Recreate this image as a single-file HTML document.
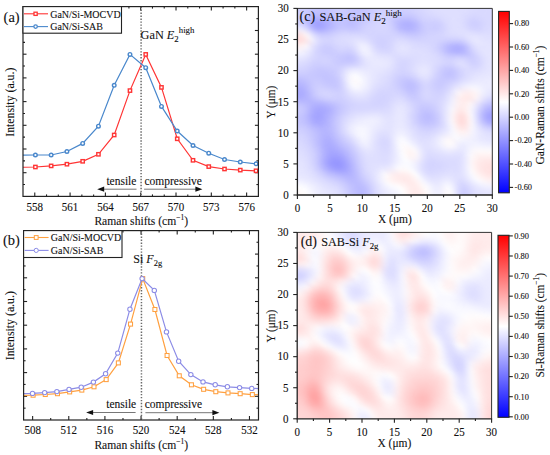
<!DOCTYPE html>
<html><head><meta charset="utf-8"><style>
html,body{margin:0;padding:0;background:#fff;}
svg{display:block;font-family:"Liberation Serif", serif;}
text{fill:#111;stroke:#111;stroke-width:0.1px;}
</style></head><body>
<svg width="550" height="455" viewBox="0 0 550 455">
<defs><clipPath id="ca"><rect x="23" y="6.6" width="235.39999999999998" height="189.8"/></clipPath><clipPath id="cb"><rect x="23.6" y="230.6" width="234.9" height="189.4"/></clipPath></defs>
<line x1="34.77" y1="196.40" x2="34.77" y2="192.40" stroke="#222" stroke-width="1.1" />
<line x1="34.77" y1="6.60" x2="34.77" y2="10.60" stroke="#222" stroke-width="1.1" />
<text transform="translate(34.77 210.70) scale(1 1.09)" font-size="11" text-anchor="middle" >558</text>
<line x1="46.54" y1="196.40" x2="46.54" y2="194.40" stroke="#222" stroke-width="1.1" />
<line x1="46.54" y1="6.60" x2="46.54" y2="8.60" stroke="#222" stroke-width="1.1" />
<line x1="58.31" y1="196.40" x2="58.31" y2="194.40" stroke="#222" stroke-width="1.1" />
<line x1="58.31" y1="6.60" x2="58.31" y2="8.60" stroke="#222" stroke-width="1.1" />
<line x1="70.08" y1="196.40" x2="70.08" y2="192.40" stroke="#222" stroke-width="1.1" />
<line x1="70.08" y1="6.60" x2="70.08" y2="10.60" stroke="#222" stroke-width="1.1" />
<text transform="translate(70.08 210.70) scale(1 1.09)" font-size="11" text-anchor="middle" >561</text>
<line x1="81.85" y1="196.40" x2="81.85" y2="194.40" stroke="#222" stroke-width="1.1" />
<line x1="81.85" y1="6.60" x2="81.85" y2="8.60" stroke="#222" stroke-width="1.1" />
<line x1="93.62" y1="196.40" x2="93.62" y2="194.40" stroke="#222" stroke-width="1.1" />
<line x1="93.62" y1="6.60" x2="93.62" y2="8.60" stroke="#222" stroke-width="1.1" />
<line x1="105.39" y1="196.40" x2="105.39" y2="192.40" stroke="#222" stroke-width="1.1" />
<line x1="105.39" y1="6.60" x2="105.39" y2="10.60" stroke="#222" stroke-width="1.1" />
<text transform="translate(105.39 210.70) scale(1 1.09)" font-size="11" text-anchor="middle" >564</text>
<line x1="117.16" y1="196.40" x2="117.16" y2="194.40" stroke="#222" stroke-width="1.1" />
<line x1="117.16" y1="6.60" x2="117.16" y2="8.60" stroke="#222" stroke-width="1.1" />
<line x1="128.93" y1="196.40" x2="128.93" y2="194.40" stroke="#222" stroke-width="1.1" />
<line x1="128.93" y1="6.60" x2="128.93" y2="8.60" stroke="#222" stroke-width="1.1" />
<line x1="140.70" y1="196.40" x2="140.70" y2="192.40" stroke="#222" stroke-width="1.1" />
<line x1="140.70" y1="6.60" x2="140.70" y2="10.60" stroke="#222" stroke-width="1.1" />
<text transform="translate(140.70 210.70) scale(1 1.09)" font-size="11" text-anchor="middle" >567</text>
<line x1="152.47" y1="196.40" x2="152.47" y2="194.40" stroke="#222" stroke-width="1.1" />
<line x1="152.47" y1="6.60" x2="152.47" y2="8.60" stroke="#222" stroke-width="1.1" />
<line x1="164.24" y1="196.40" x2="164.24" y2="194.40" stroke="#222" stroke-width="1.1" />
<line x1="164.24" y1="6.60" x2="164.24" y2="8.60" stroke="#222" stroke-width="1.1" />
<line x1="176.01" y1="196.40" x2="176.01" y2="192.40" stroke="#222" stroke-width="1.1" />
<line x1="176.01" y1="6.60" x2="176.01" y2="10.60" stroke="#222" stroke-width="1.1" />
<text transform="translate(176.01 210.70) scale(1 1.09)" font-size="11" text-anchor="middle" >570</text>
<line x1="187.78" y1="196.40" x2="187.78" y2="194.40" stroke="#222" stroke-width="1.1" />
<line x1="187.78" y1="6.60" x2="187.78" y2="8.60" stroke="#222" stroke-width="1.1" />
<line x1="199.55" y1="196.40" x2="199.55" y2="194.40" stroke="#222" stroke-width="1.1" />
<line x1="199.55" y1="6.60" x2="199.55" y2="8.60" stroke="#222" stroke-width="1.1" />
<line x1="211.32" y1="196.40" x2="211.32" y2="192.40" stroke="#222" stroke-width="1.1" />
<line x1="211.32" y1="6.60" x2="211.32" y2="10.60" stroke="#222" stroke-width="1.1" />
<text transform="translate(211.32 210.70) scale(1 1.09)" font-size="11" text-anchor="middle" >573</text>
<line x1="223.09" y1="196.40" x2="223.09" y2="194.40" stroke="#222" stroke-width="1.1" />
<line x1="223.09" y1="6.60" x2="223.09" y2="8.60" stroke="#222" stroke-width="1.1" />
<line x1="234.86" y1="196.40" x2="234.86" y2="194.40" stroke="#222" stroke-width="1.1" />
<line x1="234.86" y1="6.60" x2="234.86" y2="8.60" stroke="#222" stroke-width="1.1" />
<line x1="246.63" y1="196.40" x2="246.63" y2="192.40" stroke="#222" stroke-width="1.1" />
<line x1="246.63" y1="6.60" x2="246.63" y2="10.60" stroke="#222" stroke-width="1.1" />
<text transform="translate(246.63 210.70) scale(1 1.09)" font-size="11" text-anchor="middle" >576</text>
<line x1="23.00" y1="184.55" x2="25.00" y2="184.55" stroke="#222" stroke-width="1.1" />
<line x1="258.40" y1="184.55" x2="256.40" y2="184.55" stroke="#222" stroke-width="1.1" />
<line x1="23.00" y1="172.70" x2="26.50" y2="172.70" stroke="#222" stroke-width="1.1" />
<line x1="258.40" y1="172.70" x2="254.90" y2="172.70" stroke="#222" stroke-width="1.1" />
<line x1="23.00" y1="160.85" x2="25.00" y2="160.85" stroke="#222" stroke-width="1.1" />
<line x1="258.40" y1="160.85" x2="256.40" y2="160.85" stroke="#222" stroke-width="1.1" />
<line x1="23.00" y1="149.00" x2="26.50" y2="149.00" stroke="#222" stroke-width="1.1" />
<line x1="258.40" y1="149.00" x2="254.90" y2="149.00" stroke="#222" stroke-width="1.1" />
<line x1="23.00" y1="137.15" x2="25.00" y2="137.15" stroke="#222" stroke-width="1.1" />
<line x1="258.40" y1="137.15" x2="256.40" y2="137.15" stroke="#222" stroke-width="1.1" />
<line x1="23.00" y1="125.30" x2="26.50" y2="125.30" stroke="#222" stroke-width="1.1" />
<line x1="258.40" y1="125.30" x2="254.90" y2="125.30" stroke="#222" stroke-width="1.1" />
<line x1="23.00" y1="113.45" x2="25.00" y2="113.45" stroke="#222" stroke-width="1.1" />
<line x1="258.40" y1="113.45" x2="256.40" y2="113.45" stroke="#222" stroke-width="1.1" />
<line x1="23.00" y1="101.60" x2="26.50" y2="101.60" stroke="#222" stroke-width="1.1" />
<line x1="258.40" y1="101.60" x2="254.90" y2="101.60" stroke="#222" stroke-width="1.1" />
<line x1="23.00" y1="89.75" x2="25.00" y2="89.75" stroke="#222" stroke-width="1.1" />
<line x1="258.40" y1="89.75" x2="256.40" y2="89.75" stroke="#222" stroke-width="1.1" />
<line x1="23.00" y1="77.90" x2="26.50" y2="77.90" stroke="#222" stroke-width="1.1" />
<line x1="258.40" y1="77.90" x2="254.90" y2="77.90" stroke="#222" stroke-width="1.1" />
<line x1="23.00" y1="66.05" x2="25.00" y2="66.05" stroke="#222" stroke-width="1.1" />
<line x1="258.40" y1="66.05" x2="256.40" y2="66.05" stroke="#222" stroke-width="1.1" />
<line x1="23.00" y1="54.20" x2="26.50" y2="54.20" stroke="#222" stroke-width="1.1" />
<line x1="258.40" y1="54.20" x2="254.90" y2="54.20" stroke="#222" stroke-width="1.1" />
<line x1="23.00" y1="42.35" x2="25.00" y2="42.35" stroke="#222" stroke-width="1.1" />
<line x1="258.40" y1="42.35" x2="256.40" y2="42.35" stroke="#222" stroke-width="1.1" />
<line x1="23.00" y1="30.50" x2="26.50" y2="30.50" stroke="#222" stroke-width="1.1" />
<line x1="258.40" y1="30.50" x2="254.90" y2="30.50" stroke="#222" stroke-width="1.1" />
<line x1="23.00" y1="18.65" x2="25.00" y2="18.65" stroke="#222" stroke-width="1.1" />
<line x1="258.40" y1="18.65" x2="256.40" y2="18.65" stroke="#222" stroke-width="1.1" />
<line x1="141.10" y1="6.6" x2="141.10" y2="196.4" stroke="#6a6a6a" stroke-width="1.5" stroke-dasharray="1.4 1.57"/>
<g clip-path="url(#ca)"><polyline points="19.64,167.30 35.40,167.00 51.16,165.90 66.92,164.20 82.68,161.30 98.44,154.30 114.20,135.00 129.96,90.60 145.72,54.40 161.48,87.40 177.24,138.80 193.00,160.30 208.76,166.60 224.52,169.00 240.28,170.10 256.04,170.80 271.80,171.30" fill="none" stroke="#ff3535" stroke-width="1.2"/>
<rect x="33.75" y="165.35" width="3.30" height="3.30" fill="#fff" stroke="#ff3535" stroke-width="1.4"/>
<rect x="49.51" y="164.25" width="3.30" height="3.30" fill="#fff" stroke="#ff3535" stroke-width="1.4"/>
<rect x="65.27" y="162.55" width="3.30" height="3.30" fill="#fff" stroke="#ff3535" stroke-width="1.4"/>
<rect x="81.03" y="159.65" width="3.30" height="3.30" fill="#fff" stroke="#ff3535" stroke-width="1.4"/>
<rect x="96.79" y="152.65" width="3.30" height="3.30" fill="#fff" stroke="#ff3535" stroke-width="1.4"/>
<rect x="112.55" y="133.35" width="3.30" height="3.30" fill="#fff" stroke="#ff3535" stroke-width="1.4"/>
<rect x="128.31" y="88.95" width="3.30" height="3.30" fill="#fff" stroke="#ff3535" stroke-width="1.4"/>
<rect x="144.07" y="52.75" width="3.30" height="3.30" fill="#fff" stroke="#ff3535" stroke-width="1.4"/>
<rect x="159.83" y="85.75" width="3.30" height="3.30" fill="#fff" stroke="#ff3535" stroke-width="1.4"/>
<rect x="175.59" y="137.15" width="3.30" height="3.30" fill="#fff" stroke="#ff3535" stroke-width="1.4"/>
<rect x="191.35" y="158.65" width="3.30" height="3.30" fill="#fff" stroke="#ff3535" stroke-width="1.4"/>
<rect x="207.11" y="164.95" width="3.30" height="3.30" fill="#fff" stroke="#ff3535" stroke-width="1.4"/>
<rect x="222.87" y="167.35" width="3.30" height="3.30" fill="#fff" stroke="#ff3535" stroke-width="1.4"/>
<rect x="238.63" y="168.45" width="3.30" height="3.30" fill="#fff" stroke="#ff3535" stroke-width="1.4"/>
<rect x="254.39" y="169.15" width="3.30" height="3.30" fill="#fff" stroke="#ff3535" stroke-width="1.4"/>
</g>
<g clip-path="url(#ca)"><polyline points="19.64,155.20 35.40,155.00 51.16,155.00 66.92,151.50 82.68,143.40 98.44,126.20 114.20,85.30 129.96,54.40 145.72,67.70 161.48,106.40 177.24,131.00 193.00,145.50 208.76,153.20 224.52,159.50 240.28,162.00 256.04,163.80 271.80,164.80" fill="none" stroke="#4a88cc" stroke-width="1.2"/>
<circle cx="35.40" cy="155.00" r="1.8" fill="#fff" stroke="#4a88cc" stroke-width="1.4"/>
<circle cx="51.16" cy="155.00" r="1.8" fill="#fff" stroke="#4a88cc" stroke-width="1.4"/>
<circle cx="66.92" cy="151.50" r="1.8" fill="#fff" stroke="#4a88cc" stroke-width="1.4"/>
<circle cx="82.68" cy="143.40" r="1.8" fill="#fff" stroke="#4a88cc" stroke-width="1.4"/>
<circle cx="98.44" cy="126.20" r="1.8" fill="#fff" stroke="#4a88cc" stroke-width="1.4"/>
<circle cx="114.20" cy="85.30" r="1.8" fill="#fff" stroke="#4a88cc" stroke-width="1.4"/>
<circle cx="129.96" cy="54.40" r="1.8" fill="#fff" stroke="#4a88cc" stroke-width="1.4"/>
<circle cx="145.72" cy="67.70" r="1.8" fill="#fff" stroke="#4a88cc" stroke-width="1.4"/>
<circle cx="161.48" cy="106.40" r="1.8" fill="#fff" stroke="#4a88cc" stroke-width="1.4"/>
<circle cx="177.24" cy="131.00" r="1.8" fill="#fff" stroke="#4a88cc" stroke-width="1.4"/>
<circle cx="193.00" cy="145.50" r="1.8" fill="#fff" stroke="#4a88cc" stroke-width="1.4"/>
<circle cx="208.76" cy="153.20" r="1.8" fill="#fff" stroke="#4a88cc" stroke-width="1.4"/>
<circle cx="224.52" cy="159.50" r="1.8" fill="#fff" stroke="#4a88cc" stroke-width="1.4"/>
<circle cx="240.28" cy="162.00" r="1.8" fill="#fff" stroke="#4a88cc" stroke-width="1.4"/>
<circle cx="256.04" cy="163.80" r="1.8" fill="#fff" stroke="#4a88cc" stroke-width="1.4"/>
</g>
<rect x="23" y="6.6" width="235.39999999999998" height="189.8" fill="none" stroke="#222" stroke-width="1.2"/>
<line x1="32.63" y1="420.00" x2="32.63" y2="416.00" stroke="#222" stroke-width="1.1" />
<line x1="32.63" y1="230.60" x2="32.63" y2="234.60" stroke="#222" stroke-width="1.1" />
<text transform="translate(32.63 434.30) scale(1 1.09)" font-size="11" text-anchor="middle" >508</text>
<line x1="50.70" y1="420.00" x2="50.70" y2="418.00" stroke="#222" stroke-width="1.1" />
<line x1="50.70" y1="230.60" x2="50.70" y2="232.60" stroke="#222" stroke-width="1.1" />
<line x1="68.77" y1="420.00" x2="68.77" y2="416.00" stroke="#222" stroke-width="1.1" />
<line x1="68.77" y1="230.60" x2="68.77" y2="234.60" stroke="#222" stroke-width="1.1" />
<text transform="translate(68.77 434.30) scale(1 1.09)" font-size="11" text-anchor="middle" >512</text>
<line x1="86.84" y1="420.00" x2="86.84" y2="418.00" stroke="#222" stroke-width="1.1" />
<line x1="86.84" y1="230.60" x2="86.84" y2="232.60" stroke="#222" stroke-width="1.1" />
<line x1="104.91" y1="420.00" x2="104.91" y2="416.00" stroke="#222" stroke-width="1.1" />
<line x1="104.91" y1="230.60" x2="104.91" y2="234.60" stroke="#222" stroke-width="1.1" />
<text transform="translate(104.91 434.30) scale(1 1.09)" font-size="11" text-anchor="middle" >516</text>
<line x1="122.98" y1="420.00" x2="122.98" y2="418.00" stroke="#222" stroke-width="1.1" />
<line x1="122.98" y1="230.60" x2="122.98" y2="232.60" stroke="#222" stroke-width="1.1" />
<line x1="141.05" y1="420.00" x2="141.05" y2="416.00" stroke="#222" stroke-width="1.1" />
<line x1="141.05" y1="230.60" x2="141.05" y2="234.60" stroke="#222" stroke-width="1.1" />
<text transform="translate(141.05 434.30) scale(1 1.09)" font-size="11" text-anchor="middle" >520</text>
<line x1="159.12" y1="420.00" x2="159.12" y2="418.00" stroke="#222" stroke-width="1.1" />
<line x1="159.12" y1="230.60" x2="159.12" y2="232.60" stroke="#222" stroke-width="1.1" />
<line x1="177.19" y1="420.00" x2="177.19" y2="416.00" stroke="#222" stroke-width="1.1" />
<line x1="177.19" y1="230.60" x2="177.19" y2="234.60" stroke="#222" stroke-width="1.1" />
<text transform="translate(177.19 434.30) scale(1 1.09)" font-size="11" text-anchor="middle" >524</text>
<line x1="195.26" y1="420.00" x2="195.26" y2="418.00" stroke="#222" stroke-width="1.1" />
<line x1="195.26" y1="230.60" x2="195.26" y2="232.60" stroke="#222" stroke-width="1.1" />
<line x1="213.33" y1="420.00" x2="213.33" y2="416.00" stroke="#222" stroke-width="1.1" />
<line x1="213.33" y1="230.60" x2="213.33" y2="234.60" stroke="#222" stroke-width="1.1" />
<text transform="translate(213.33 434.30) scale(1 1.09)" font-size="11" text-anchor="middle" >528</text>
<line x1="231.40" y1="420.00" x2="231.40" y2="418.00" stroke="#222" stroke-width="1.1" />
<line x1="231.40" y1="230.60" x2="231.40" y2="232.60" stroke="#222" stroke-width="1.1" />
<line x1="249.47" y1="420.00" x2="249.47" y2="416.00" stroke="#222" stroke-width="1.1" />
<line x1="249.47" y1="230.60" x2="249.47" y2="234.60" stroke="#222" stroke-width="1.1" />
<text transform="translate(249.47 434.30) scale(1 1.09)" font-size="11" text-anchor="middle" >532</text>
<line x1="23.60" y1="408.15" x2="25.60" y2="408.15" stroke="#222" stroke-width="1.1" />
<line x1="258.50" y1="408.15" x2="256.50" y2="408.15" stroke="#222" stroke-width="1.1" />
<line x1="23.60" y1="396.30" x2="27.10" y2="396.30" stroke="#222" stroke-width="1.1" />
<line x1="258.50" y1="396.30" x2="255.00" y2="396.30" stroke="#222" stroke-width="1.1" />
<line x1="23.60" y1="384.45" x2="25.60" y2="384.45" stroke="#222" stroke-width="1.1" />
<line x1="258.50" y1="384.45" x2="256.50" y2="384.45" stroke="#222" stroke-width="1.1" />
<line x1="23.60" y1="372.60" x2="27.10" y2="372.60" stroke="#222" stroke-width="1.1" />
<line x1="258.50" y1="372.60" x2="255.00" y2="372.60" stroke="#222" stroke-width="1.1" />
<line x1="23.60" y1="360.75" x2="25.60" y2="360.75" stroke="#222" stroke-width="1.1" />
<line x1="258.50" y1="360.75" x2="256.50" y2="360.75" stroke="#222" stroke-width="1.1" />
<line x1="23.60" y1="348.90" x2="27.10" y2="348.90" stroke="#222" stroke-width="1.1" />
<line x1="258.50" y1="348.90" x2="255.00" y2="348.90" stroke="#222" stroke-width="1.1" />
<line x1="23.60" y1="337.05" x2="25.60" y2="337.05" stroke="#222" stroke-width="1.1" />
<line x1="258.50" y1="337.05" x2="256.50" y2="337.05" stroke="#222" stroke-width="1.1" />
<line x1="23.60" y1="325.20" x2="27.10" y2="325.20" stroke="#222" stroke-width="1.1" />
<line x1="258.50" y1="325.20" x2="255.00" y2="325.20" stroke="#222" stroke-width="1.1" />
<line x1="23.60" y1="313.35" x2="25.60" y2="313.35" stroke="#222" stroke-width="1.1" />
<line x1="258.50" y1="313.35" x2="256.50" y2="313.35" stroke="#222" stroke-width="1.1" />
<line x1="23.60" y1="301.50" x2="27.10" y2="301.50" stroke="#222" stroke-width="1.1" />
<line x1="258.50" y1="301.50" x2="255.00" y2="301.50" stroke="#222" stroke-width="1.1" />
<line x1="23.60" y1="289.65" x2="25.60" y2="289.65" stroke="#222" stroke-width="1.1" />
<line x1="258.50" y1="289.65" x2="256.50" y2="289.65" stroke="#222" stroke-width="1.1" />
<line x1="23.60" y1="277.80" x2="27.10" y2="277.80" stroke="#222" stroke-width="1.1" />
<line x1="258.50" y1="277.80" x2="255.00" y2="277.80" stroke="#222" stroke-width="1.1" />
<line x1="23.60" y1="265.95" x2="25.60" y2="265.95" stroke="#222" stroke-width="1.1" />
<line x1="258.50" y1="265.95" x2="256.50" y2="265.95" stroke="#222" stroke-width="1.1" />
<line x1="23.60" y1="254.10" x2="27.10" y2="254.10" stroke="#222" stroke-width="1.1" />
<line x1="258.50" y1="254.10" x2="255.00" y2="254.10" stroke="#222" stroke-width="1.1" />
<line x1="23.60" y1="242.25" x2="25.60" y2="242.25" stroke="#222" stroke-width="1.1" />
<line x1="258.50" y1="242.25" x2="256.50" y2="242.25" stroke="#222" stroke-width="1.1" />
<line x1="141.45" y1="230.6" x2="141.45" y2="420" stroke="#6a6a6a" stroke-width="1.5" stroke-dasharray="1.4 1.57"/>
<g clip-path="url(#cb)"><polyline points="20.92,395.50 33.10,395.20 45.28,394.50 57.46,393.70 69.64,391.90 81.82,390.10 94.00,386.80 106.18,379.60 118.36,362.90 130.54,324.10 142.72,278.60 154.90,309.50 167.08,355.50 179.26,375.80 191.44,384.80 203.62,389.30 215.80,391.70 227.98,392.90 240.16,393.70 252.34,394.60 264.52,394.90" fill="none" stroke="#ffa040" stroke-width="1.2"/>
<rect x="31.10" y="393.20" width="4.00" height="4.00" fill="#fff" stroke="#ffa040" stroke-width="1.05"/>
<rect x="43.28" y="392.50" width="4.00" height="4.00" fill="#fff" stroke="#ffa040" stroke-width="1.05"/>
<rect x="55.46" y="391.70" width="4.00" height="4.00" fill="#fff" stroke="#ffa040" stroke-width="1.05"/>
<rect x="67.64" y="389.90" width="4.00" height="4.00" fill="#fff" stroke="#ffa040" stroke-width="1.05"/>
<rect x="79.82" y="388.10" width="4.00" height="4.00" fill="#fff" stroke="#ffa040" stroke-width="1.05"/>
<rect x="92.00" y="384.80" width="4.00" height="4.00" fill="#fff" stroke="#ffa040" stroke-width="1.05"/>
<rect x="104.18" y="377.60" width="4.00" height="4.00" fill="#fff" stroke="#ffa040" stroke-width="1.05"/>
<rect x="116.36" y="360.90" width="4.00" height="4.00" fill="#fff" stroke="#ffa040" stroke-width="1.05"/>
<rect x="128.54" y="322.10" width="4.00" height="4.00" fill="#fff" stroke="#ffa040" stroke-width="1.05"/>
<rect x="140.72" y="276.60" width="4.00" height="4.00" fill="#fff" stroke="#ffa040" stroke-width="1.05"/>
<rect x="152.90" y="307.50" width="4.00" height="4.00" fill="#fff" stroke="#ffa040" stroke-width="1.05"/>
<rect x="165.08" y="353.50" width="4.00" height="4.00" fill="#fff" stroke="#ffa040" stroke-width="1.05"/>
<rect x="177.26" y="373.80" width="4.00" height="4.00" fill="#fff" stroke="#ffa040" stroke-width="1.05"/>
<rect x="189.44" y="382.80" width="4.00" height="4.00" fill="#fff" stroke="#ffa040" stroke-width="1.05"/>
<rect x="201.62" y="387.30" width="4.00" height="4.00" fill="#fff" stroke="#ffa040" stroke-width="1.05"/>
<rect x="213.80" y="389.70" width="4.00" height="4.00" fill="#fff" stroke="#ffa040" stroke-width="1.05"/>
<rect x="225.98" y="390.90" width="4.00" height="4.00" fill="#fff" stroke="#ffa040" stroke-width="1.05"/>
<rect x="238.16" y="391.70" width="4.00" height="4.00" fill="#fff" stroke="#ffa040" stroke-width="1.05"/>
<rect x="250.34" y="392.60" width="4.00" height="4.00" fill="#fff" stroke="#ffa040" stroke-width="1.05"/>
</g>
<g clip-path="url(#cb)"><polyline points="20.32,393.60 32.50,393.40 44.68,392.60 56.86,391.60 69.04,389.40 81.22,387.20 93.40,382.10 105.58,373.80 117.76,353.10 129.94,309.20 142.12,278.60 154.30,290.40 166.48,331.90 178.66,361.20 190.84,374.60 203.02,381.90 215.20,384.80 227.38,386.80 239.56,387.60 251.74,388.40 263.92,388.80" fill="none" stroke="#8c8ce6" stroke-width="1.2"/>
<circle cx="32.50" cy="393.40" r="2.2" fill="#fff" stroke="#8c8ce6" stroke-width="1.05"/>
<circle cx="44.68" cy="392.60" r="2.2" fill="#fff" stroke="#8c8ce6" stroke-width="1.05"/>
<circle cx="56.86" cy="391.60" r="2.2" fill="#fff" stroke="#8c8ce6" stroke-width="1.05"/>
<circle cx="69.04" cy="389.40" r="2.2" fill="#fff" stroke="#8c8ce6" stroke-width="1.05"/>
<circle cx="81.22" cy="387.20" r="2.2" fill="#fff" stroke="#8c8ce6" stroke-width="1.05"/>
<circle cx="93.40" cy="382.10" r="2.2" fill="#fff" stroke="#8c8ce6" stroke-width="1.05"/>
<circle cx="105.58" cy="373.80" r="2.2" fill="#fff" stroke="#8c8ce6" stroke-width="1.05"/>
<circle cx="117.76" cy="353.10" r="2.2" fill="#fff" stroke="#8c8ce6" stroke-width="1.05"/>
<circle cx="129.94" cy="309.20" r="2.2" fill="#fff" stroke="#8c8ce6" stroke-width="1.05"/>
<circle cx="142.12" cy="278.60" r="2.2" fill="#fff" stroke="#8c8ce6" stroke-width="1.05"/>
<circle cx="154.30" cy="290.40" r="2.2" fill="#fff" stroke="#8c8ce6" stroke-width="1.05"/>
<circle cx="166.48" cy="331.90" r="2.2" fill="#fff" stroke="#8c8ce6" stroke-width="1.05"/>
<circle cx="178.66" cy="361.20" r="2.2" fill="#fff" stroke="#8c8ce6" stroke-width="1.05"/>
<circle cx="190.84" cy="374.60" r="2.2" fill="#fff" stroke="#8c8ce6" stroke-width="1.05"/>
<circle cx="203.02" cy="381.90" r="2.2" fill="#fff" stroke="#8c8ce6" stroke-width="1.05"/>
<circle cx="215.20" cy="384.80" r="2.2" fill="#fff" stroke="#8c8ce6" stroke-width="1.05"/>
<circle cx="227.38" cy="386.80" r="2.2" fill="#fff" stroke="#8c8ce6" stroke-width="1.05"/>
<circle cx="239.56" cy="387.60" r="2.2" fill="#fff" stroke="#8c8ce6" stroke-width="1.05"/>
<circle cx="251.74" cy="388.40" r="2.2" fill="#fff" stroke="#8c8ce6" stroke-width="1.05"/>
</g>
<rect x="23.6" y="230.6" width="234.9" height="189.4" fill="none" stroke="#222" stroke-width="1.2"/>
<rect x="23" y="6.6" width="98.5" height="26.6" fill="#fff" stroke="#222" stroke-width="1.1"/>
<line x1="24.00" y1="13.80" x2="48.00" y2="13.80" stroke="#ff3535" stroke-width="1.1" />
<rect x="34.00" y="12.20" width="3.20" height="3.20" fill="#fff" stroke="#ff3535" stroke-width="1.3"/>
<text transform="translate(50.20 17.60) scale(1 1.09)" font-size="10" text-anchor="start" >GaN/Si-MOCVD</text>
<line x1="24.00" y1="26.60" x2="48.00" y2="26.60" stroke="#4a88cc" stroke-width="1.1" />
<circle cx="35.60" cy="26.60" r="1.75" fill="#fff" stroke="#4a88cc" stroke-width="1.3"/>
<text transform="translate(50.20 30.40) scale(1 1.09)" font-size="10" text-anchor="start" >GaN/Si-SAB</text>
<rect x="23.6" y="230.6" width="98.4" height="26.900000000000006" fill="#fff" stroke="#222" stroke-width="1.1"/>
<line x1="24.60" y1="237.50" x2="48.60" y2="237.50" stroke="#ffa040" stroke-width="1.1" />
<rect x="34.30" y="235.60" width="3.80" height="3.80" fill="#fff" stroke="#ffa040" stroke-width="1.0"/>
<text transform="translate(50.80 241.30) scale(1 1.09)" font-size="10" text-anchor="start" >GaN/Si-MOCVD</text>
<line x1="24.60" y1="250.40" x2="48.60" y2="250.40" stroke="#8c8ce6" stroke-width="1.1" />
<circle cx="36.20" cy="250.40" r="2.1" fill="#fff" stroke="#8c8ce6" stroke-width="1.0"/>
<text transform="translate(50.80 254.20) scale(1 1.09)" font-size="10" text-anchor="start" >GaN/Si-SAB</text>
<text transform="translate(3.60 21.50) scale(1 1)" font-size="14.5" text-anchor="start" >(a)</text>
<text transform="translate(3.00 245.40) scale(1 1)" font-size="14.5" text-anchor="start" >(b)</text>
<text transform="translate(140.6 39.0) scale(1 1.04)" font-size="12.3">GaN <tspan font-style="italic">E</tspan><tspan font-size="8.8" dy="2.6">2</tspan><tspan font-size="8.8" dy="-8">high</tspan></text>
<text transform="translate(133.3 262.7) scale(1 1.09)" font-size="12">Si <tspan font-style="italic">F</tspan><tspan font-size="8.5" dy="3">2g</tspan></text>
<text transform="translate(106.40 184.80) scale(1 1.09)" font-size="11.5" text-anchor="start" >tensile</text>
<text transform="translate(144.50 184.80) scale(1 1.09)" font-size="11.5" text-anchor="start" >compressive</text>
<line x1="136.50" y1="189.20" x2="102.20" y2="189.20" stroke="#777" stroke-width="1" />
<path d="M97.20,189.20 L104.20,186.60 L104.20,191.80 Z" fill="#111"/>
<line x1="144.10" y1="189.20" x2="197.40" y2="189.20" stroke="#777" stroke-width="1" />
<path d="M202.40,189.20 L195.40,186.60 L195.40,191.80 Z" fill="#111"/>
<text transform="translate(106.20 408.30) scale(1 1.09)" font-size="11.5" text-anchor="start" >tensile</text>
<text transform="translate(144.70 408.40) scale(1 1.09)" font-size="11.5" text-anchor="start" >compressive</text>
<line x1="135.60" y1="412.50" x2="91.10" y2="412.50" stroke="#777" stroke-width="1" />
<path d="M86.10,412.50 L93.10,409.90 L93.10,415.10 Z" fill="#111"/>
<line x1="145.40" y1="412.70" x2="214.40" y2="412.70" stroke="#777" stroke-width="1" />
<path d="M219.40,412.70 L212.40,410.10 L212.40,415.30 Z" fill="#111"/>
<text transform="translate(14.0,102.2) rotate(-90) scale(1 1.09)" font-size="11.8" text-anchor="middle">Intensity (a.u.)</text>
<text transform="translate(141.2 224.9) scale(1 1.09)" font-size="11.6" text-anchor="middle">Raman shifts (cm<tspan font-size="7.5" dy="-4.5">−1</tspan><tspan dy="4.5">)</tspan></text>
<text transform="translate(14.0,325.7) rotate(-90) scale(1 1.09)" font-size="11.8" text-anchor="middle">Intensity (a.u.)</text>
<text transform="translate(141.2 448.5) scale(1 1.09)" font-size="11.6" text-anchor="middle">Raman shifts (cm<tspan font-size="7.5" dy="-4.5">−1</tspan><tspan dy="4.5">)</tspan></text>
<defs><clipPath id="hc"><rect x="297.4" y="8.4" width="194.90" height="186.60"/></clipPath><filter id="fc" x="-30%" y="-30%" width="160%" height="160%" color-interpolation-filters="sRGB"><feGaussianBlur stdDeviation="4.5 1.8"/></filter></defs>
<g clip-path="url(#hc)"><g transform="rotate(38 394.9 101.7)" filter="url(#fc)"><g transform="rotate(-38 394.9 101.7)">
<rect x="285.2" y="-3.3" width="6.5" height="6.2" fill="#d0d0ff"/><rect x="291.3" y="-3.3" width="6.5" height="6.2" fill="#d0d0ff"/><rect x="297.4" y="-3.3" width="6.5" height="6.2" fill="#d0d0ff"/><rect x="303.5" y="-3.3" width="6.5" height="6.2" fill="#cdcdff"/><rect x="309.6" y="-3.3" width="6.5" height="6.2" fill="#c5c5ff"/><rect x="315.7" y="-3.3" width="6.5" height="6.2" fill="#c2c2ff"/><rect x="321.8" y="-3.3" width="6.5" height="6.2" fill="#c2c2ff"/><rect x="327.9" y="-3.3" width="6.5" height="6.2" fill="#c5c5ff"/><rect x="333.9" y="-3.3" width="6.5" height="6.2" fill="#cdcdff"/><rect x="340.0" y="-3.3" width="6.5" height="6.2" fill="#cdcdff"/><rect x="346.1" y="-3.3" width="6.5" height="6.2" fill="#c5c5ff"/><rect x="352.2" y="-3.3" width="6.5" height="6.2" fill="#c2c2ff"/><rect x="358.3" y="-3.3" width="6.5" height="6.2" fill="#c2c2ff"/><rect x="364.4" y="-3.3" width="6.5" height="6.2" fill="#c5c5ff"/><rect x="370.5" y="-3.3" width="6.5" height="6.2" fill="#cdcdff"/><rect x="376.6" y="-3.3" width="6.5" height="6.2" fill="#d0d0ff"/><rect x="382.7" y="-3.3" width="6.5" height="6.2" fill="#d0d0ff"/><rect x="388.8" y="-3.3" width="6.5" height="6.2" fill="#d0d0ff"/><rect x="394.9" y="-3.3" width="6.5" height="6.2" fill="#d0d0ff"/><rect x="400.9" y="-3.3" width="6.5" height="6.2" fill="#d0d0ff"/><rect x="407.0" y="-3.3" width="6.5" height="6.2" fill="#d0d0ff"/><rect x="413.1" y="-3.3" width="6.5" height="6.2" fill="#d3d3ff"/><rect x="419.2" y="-3.3" width="6.5" height="6.2" fill="#d7d7ff"/><rect x="425.3" y="-3.3" width="6.5" height="6.2" fill="#dbdbff"/><rect x="431.4" y="-3.3" width="6.5" height="6.2" fill="#dedeff"/><rect x="437.5" y="-3.3" width="6.5" height="6.2" fill="#dfdfff"/><rect x="443.6" y="-3.3" width="6.5" height="6.2" fill="#dfdfff"/><rect x="449.7" y="-3.3" width="6.5" height="6.2" fill="#dfdfff"/><rect x="455.8" y="-3.3" width="6.5" height="6.2" fill="#dfdfff"/><rect x="461.8" y="-3.3" width="6.5" height="6.2" fill="#dedeff"/><rect x="467.9" y="-3.3" width="6.5" height="6.2" fill="#dbdbff"/><rect x="474.0" y="-3.3" width="6.5" height="6.2" fill="#d9d9ff"/><rect x="480.1" y="-3.3" width="6.5" height="6.2" fill="#d9d9ff"/><rect x="486.2" y="-3.3" width="6.5" height="6.2" fill="#d9d9ff"/><rect x="492.3" y="-3.3" width="6.5" height="6.2" fill="#d9d9ff"/><rect x="498.4" y="-3.3" width="6.5" height="6.2" fill="#d9d9ff"/>
<rect x="285.2" y="2.6" width="6.5" height="6.2" fill="#d0d0ff"/><rect x="291.3" y="2.6" width="6.5" height="6.2" fill="#d0d0ff"/><rect x="297.4" y="2.6" width="6.5" height="6.2" fill="#d0d0ff"/><rect x="303.5" y="2.6" width="6.5" height="6.2" fill="#cdcdff"/><rect x="309.6" y="2.6" width="6.5" height="6.2" fill="#c5c5ff"/><rect x="315.7" y="2.6" width="6.5" height="6.2" fill="#c2c2ff"/><rect x="321.8" y="2.6" width="6.5" height="6.2" fill="#c2c2ff"/><rect x="327.9" y="2.6" width="6.5" height="6.2" fill="#c5c5ff"/><rect x="333.9" y="2.6" width="6.5" height="6.2" fill="#cdcdff"/><rect x="340.0" y="2.6" width="6.5" height="6.2" fill="#cdcdff"/><rect x="346.1" y="2.6" width="6.5" height="6.2" fill="#c5c5ff"/><rect x="352.2" y="2.6" width="6.5" height="6.2" fill="#c2c2ff"/><rect x="358.3" y="2.6" width="6.5" height="6.2" fill="#c2c2ff"/><rect x="364.4" y="2.6" width="6.5" height="6.2" fill="#c5c5ff"/><rect x="370.5" y="2.6" width="6.5" height="6.2" fill="#cdcdff"/><rect x="376.6" y="2.6" width="6.5" height="6.2" fill="#d0d0ff"/><rect x="382.7" y="2.6" width="6.5" height="6.2" fill="#d0d0ff"/><rect x="388.8" y="2.6" width="6.5" height="6.2" fill="#d0d0ff"/><rect x="394.9" y="2.6" width="6.5" height="6.2" fill="#d0d0ff"/><rect x="400.9" y="2.6" width="6.5" height="6.2" fill="#d0d0ff"/><rect x="407.0" y="2.6" width="6.5" height="6.2" fill="#d0d0ff"/><rect x="413.1" y="2.6" width="6.5" height="6.2" fill="#d3d3ff"/><rect x="419.2" y="2.6" width="6.5" height="6.2" fill="#d7d7ff"/><rect x="425.3" y="2.6" width="6.5" height="6.2" fill="#dbdbff"/><rect x="431.4" y="2.6" width="6.5" height="6.2" fill="#dedeff"/><rect x="437.5" y="2.6" width="6.5" height="6.2" fill="#dfdfff"/><rect x="443.6" y="2.6" width="6.5" height="6.2" fill="#dfdfff"/><rect x="449.7" y="2.6" width="6.5" height="6.2" fill="#dfdfff"/><rect x="455.8" y="2.6" width="6.5" height="6.2" fill="#dfdfff"/><rect x="461.8" y="2.6" width="6.5" height="6.2" fill="#dedeff"/><rect x="467.9" y="2.6" width="6.5" height="6.2" fill="#dbdbff"/><rect x="474.0" y="2.6" width="6.5" height="6.2" fill="#d9d9ff"/><rect x="480.1" y="2.6" width="6.5" height="6.2" fill="#d9d9ff"/><rect x="486.2" y="2.6" width="6.5" height="6.2" fill="#d9d9ff"/><rect x="492.3" y="2.6" width="6.5" height="6.2" fill="#d9d9ff"/><rect x="498.4" y="2.6" width="6.5" height="6.2" fill="#d9d9ff"/>
<rect x="285.2" y="8.4" width="6.5" height="6.2" fill="#d0d0ff"/><rect x="291.3" y="8.4" width="6.5" height="6.2" fill="#d0d0ff"/><rect x="297.4" y="8.4" width="6.5" height="6.2" fill="#d0d0ff"/><rect x="303.5" y="8.4" width="6.5" height="6.2" fill="#cdcdff"/><rect x="309.6" y="8.4" width="6.5" height="6.2" fill="#c5c5ff"/><rect x="315.7" y="8.4" width="6.5" height="6.2" fill="#c2c2ff"/><rect x="321.8" y="8.4" width="6.5" height="6.2" fill="#c2c2ff"/><rect x="327.9" y="8.4" width="6.5" height="6.2" fill="#c5c5ff"/><rect x="333.9" y="8.4" width="6.5" height="6.2" fill="#cdcdff"/><rect x="340.0" y="8.4" width="6.5" height="6.2" fill="#cdcdff"/><rect x="346.1" y="8.4" width="6.5" height="6.2" fill="#c5c5ff"/><rect x="352.2" y="8.4" width="6.5" height="6.2" fill="#c2c2ff"/><rect x="358.3" y="8.4" width="6.5" height="6.2" fill="#c2c2ff"/><rect x="364.4" y="8.4" width="6.5" height="6.2" fill="#c5c5ff"/><rect x="370.5" y="8.4" width="6.5" height="6.2" fill="#cdcdff"/><rect x="376.6" y="8.4" width="6.5" height="6.2" fill="#d0d0ff"/><rect x="382.7" y="8.4" width="6.5" height="6.2" fill="#d0d0ff"/><rect x="388.8" y="8.4" width="6.5" height="6.2" fill="#d0d0ff"/><rect x="394.9" y="8.4" width="6.5" height="6.2" fill="#d0d0ff"/><rect x="400.9" y="8.4" width="6.5" height="6.2" fill="#d0d0ff"/><rect x="407.0" y="8.4" width="6.5" height="6.2" fill="#d0d0ff"/><rect x="413.1" y="8.4" width="6.5" height="6.2" fill="#d3d3ff"/><rect x="419.2" y="8.4" width="6.5" height="6.2" fill="#d7d7ff"/><rect x="425.3" y="8.4" width="6.5" height="6.2" fill="#dbdbff"/><rect x="431.4" y="8.4" width="6.5" height="6.2" fill="#dedeff"/><rect x="437.5" y="8.4" width="6.5" height="6.2" fill="#dfdfff"/><rect x="443.6" y="8.4" width="6.5" height="6.2" fill="#dfdfff"/><rect x="449.7" y="8.4" width="6.5" height="6.2" fill="#dfdfff"/><rect x="455.8" y="8.4" width="6.5" height="6.2" fill="#dfdfff"/><rect x="461.8" y="8.4" width="6.5" height="6.2" fill="#dedeff"/><rect x="467.9" y="8.4" width="6.5" height="6.2" fill="#dbdbff"/><rect x="474.0" y="8.4" width="6.5" height="6.2" fill="#d9d9ff"/><rect x="480.1" y="8.4" width="6.5" height="6.2" fill="#d9d9ff"/><rect x="486.2" y="8.4" width="6.5" height="6.2" fill="#d9d9ff"/><rect x="492.3" y="8.4" width="6.5" height="6.2" fill="#d9d9ff"/><rect x="498.4" y="8.4" width="6.5" height="6.2" fill="#d9d9ff"/>
<rect x="285.2" y="14.2" width="6.5" height="6.2" fill="#d0d0ff"/><rect x="291.3" y="14.2" width="6.5" height="6.2" fill="#d0d0ff"/><rect x="297.4" y="14.2" width="6.5" height="6.2" fill="#d0d0ff"/><rect x="303.5" y="14.2" width="6.5" height="6.2" fill="#c9c9ff"/><rect x="309.6" y="14.2" width="6.5" height="6.2" fill="#babaff"/><rect x="315.7" y="14.2" width="6.5" height="6.2" fill="#b5b5ff"/><rect x="321.8" y="14.2" width="6.5" height="6.2" fill="#b9b9ff"/><rect x="327.9" y="14.2" width="6.5" height="6.2" fill="#bfbfff"/><rect x="333.9" y="14.2" width="6.5" height="6.2" fill="#c8c8ff"/><rect x="340.0" y="14.2" width="6.5" height="6.2" fill="#c9c9ff"/><rect x="346.1" y="14.2" width="6.5" height="6.2" fill="#c2c2ff"/><rect x="352.2" y="14.2" width="6.5" height="6.2" fill="#c0c0ff"/><rect x="358.3" y="14.2" width="6.5" height="6.2" fill="#c4c4ff"/><rect x="364.4" y="14.2" width="6.5" height="6.2" fill="#c9c9ff"/><rect x="370.5" y="14.2" width="6.5" height="6.2" fill="#cfcfff"/><rect x="376.6" y="14.2" width="6.5" height="6.2" fill="#d3d3ff"/><rect x="382.7" y="14.2" width="6.5" height="6.2" fill="#d3d3ff"/><rect x="388.8" y="14.2" width="6.5" height="6.2" fill="#cfcfff"/><rect x="394.9" y="14.2" width="6.5" height="6.2" fill="#c9c9ff"/><rect x="400.9" y="14.2" width="6.5" height="6.2" fill="#c5c5ff"/><rect x="407.0" y="14.2" width="6.5" height="6.2" fill="#c5c5ff"/><rect x="413.1" y="14.2" width="6.5" height="6.2" fill="#cacaff"/><rect x="419.2" y="14.2" width="6.5" height="6.2" fill="#d3d3ff"/><rect x="425.3" y="14.2" width="6.5" height="6.2" fill="#d7d7ff"/><rect x="431.4" y="14.2" width="6.5" height="6.2" fill="#d8d8ff"/><rect x="437.5" y="14.2" width="6.5" height="6.2" fill="#dadaff"/><rect x="443.6" y="14.2" width="6.5" height="6.2" fill="#ddddff"/><rect x="449.7" y="14.2" width="6.5" height="6.2" fill="#dfdfff"/><rect x="455.8" y="14.2" width="6.5" height="6.2" fill="#dfdfff"/><rect x="461.8" y="14.2" width="6.5" height="6.2" fill="#dcdcff"/><rect x="467.9" y="14.2" width="6.5" height="6.2" fill="#d6d6ff"/><rect x="474.0" y="14.2" width="6.5" height="6.2" fill="#d5d5ff"/><rect x="480.1" y="14.2" width="6.5" height="6.2" fill="#d8d8ff"/><rect x="486.2" y="14.2" width="6.5" height="6.2" fill="#d9d9ff"/><rect x="492.3" y="14.2" width="6.5" height="6.2" fill="#d9d9ff"/><rect x="498.4" y="14.2" width="6.5" height="6.2" fill="#d9d9ff"/>
<rect x="285.2" y="20.1" width="6.5" height="6.2" fill="#d0d0ff"/><rect x="291.3" y="20.1" width="6.5" height="6.2" fill="#d0d0ff"/><rect x="297.4" y="20.1" width="6.5" height="6.2" fill="#d0d0ff"/><rect x="303.5" y="20.1" width="6.5" height="6.2" fill="#c2c2ff"/><rect x="309.6" y="20.1" width="6.5" height="6.2" fill="#a4a4ff"/><rect x="315.7" y="20.1" width="6.5" height="6.2" fill="#9b9bff"/><rect x="321.8" y="20.1" width="6.5" height="6.2" fill="#a6a6ff"/><rect x="327.9" y="20.1" width="6.5" height="6.2" fill="#b2b2ff"/><rect x="333.9" y="20.1" width="6.5" height="6.2" fill="#bfbfff"/><rect x="340.0" y="20.1" width="6.5" height="6.2" fill="#c2c2ff"/><rect x="346.1" y="20.1" width="6.5" height="6.2" fill="#babaff"/><rect x="352.2" y="20.1" width="6.5" height="6.2" fill="#bcbcff"/><rect x="358.3" y="20.1" width="6.5" height="6.2" fill="#c7c7ff"/><rect x="364.4" y="20.1" width="6.5" height="6.2" fill="#cfcfff"/><rect x="370.5" y="20.1" width="6.5" height="6.2" fill="#d4d4ff"/><rect x="376.6" y="20.1" width="6.5" height="6.2" fill="#d7d7ff"/><rect x="382.7" y="20.1" width="6.5" height="6.2" fill="#d7d7ff"/><rect x="388.8" y="20.1" width="6.5" height="6.2" fill="#cdcdff"/><rect x="394.9" y="20.1" width="6.5" height="6.2" fill="#b9b9ff"/><rect x="400.9" y="20.1" width="6.5" height="6.2" fill="#afafff"/><rect x="407.0" y="20.1" width="6.5" height="6.2" fill="#afafff"/><rect x="413.1" y="20.1" width="6.5" height="6.2" fill="#b8b8ff"/><rect x="419.2" y="20.1" width="6.5" height="6.2" fill="#cacaff"/><rect x="425.3" y="20.1" width="6.5" height="6.2" fill="#d0d0ff"/><rect x="431.4" y="20.1" width="6.5" height="6.2" fill="#ccccff"/><rect x="437.5" y="20.1" width="6.5" height="6.2" fill="#cfcfff"/><rect x="443.6" y="20.1" width="6.5" height="6.2" fill="#dadaff"/><rect x="449.7" y="20.1" width="6.5" height="6.2" fill="#dfdfff"/><rect x="455.8" y="20.1" width="6.5" height="6.2" fill="#dfdfff"/><rect x="461.8" y="20.1" width="6.5" height="6.2" fill="#d9d9ff"/><rect x="467.9" y="20.1" width="6.5" height="6.2" fill="#ceceff"/><rect x="474.0" y="20.1" width="6.5" height="6.2" fill="#ccccff"/><rect x="480.1" y="20.1" width="6.5" height="6.2" fill="#d5d5ff"/><rect x="486.2" y="20.1" width="6.5" height="6.2" fill="#d9d9ff"/><rect x="492.3" y="20.1" width="6.5" height="6.2" fill="#d9d9ff"/><rect x="498.4" y="20.1" width="6.5" height="6.2" fill="#d9d9ff"/>
<rect x="285.2" y="25.9" width="6.5" height="6.2" fill="#eaeaff"/><rect x="291.3" y="25.9" width="6.5" height="6.2" fill="#eaeaff"/><rect x="297.4" y="25.9" width="6.5" height="6.2" fill="#eaeaff"/><rect x="303.5" y="25.9" width="6.5" height="6.2" fill="#d7d7ff"/><rect x="309.6" y="25.9" width="6.5" height="6.2" fill="#b1b1ff"/><rect x="315.7" y="25.9" width="6.5" height="6.2" fill="#a3a3ff"/><rect x="321.8" y="25.9" width="6.5" height="6.2" fill="#adadff"/><rect x="327.9" y="25.9" width="6.5" height="6.2" fill="#b8b8ff"/><rect x="333.9" y="25.9" width="6.5" height="6.2" fill="#c3c3ff"/><rect x="340.0" y="25.9" width="6.5" height="6.2" fill="#c7c7ff"/><rect x="346.1" y="25.9" width="6.5" height="6.2" fill="#c2c2ff"/><rect x="352.2" y="25.9" width="6.5" height="6.2" fill="#c4c4ff"/><rect x="358.3" y="25.9" width="6.5" height="6.2" fill="#ceceff"/><rect x="364.4" y="25.9" width="6.5" height="6.2" fill="#d4d4ff"/><rect x="370.5" y="25.9" width="6.5" height="6.2" fill="#d6d6ff"/><rect x="376.6" y="25.9" width="6.5" height="6.2" fill="#d7d7ff"/><rect x="382.7" y="25.9" width="6.5" height="6.2" fill="#d7d7ff"/><rect x="388.8" y="25.9" width="6.5" height="6.2" fill="#ceceff"/><rect x="394.9" y="25.9" width="6.5" height="6.2" fill="#bbbbff"/><rect x="400.9" y="25.9" width="6.5" height="6.2" fill="#b1b1ff"/><rect x="407.0" y="25.9" width="6.5" height="6.2" fill="#b0b0ff"/><rect x="413.1" y="25.9" width="6.5" height="6.2" fill="#b8b8ff"/><rect x="419.2" y="25.9" width="6.5" height="6.2" fill="#c8c8ff"/><rect x="425.3" y="25.9" width="6.5" height="6.2" fill="#ceceff"/><rect x="431.4" y="25.9" width="6.5" height="6.2" fill="#cacaff"/><rect x="437.5" y="25.9" width="6.5" height="6.2" fill="#ceceff"/><rect x="443.6" y="25.9" width="6.5" height="6.2" fill="#d9d9ff"/><rect x="449.7" y="25.9" width="6.5" height="6.2" fill="#dfdfff"/><rect x="455.8" y="25.9" width="6.5" height="6.2" fill="#dfdfff"/><rect x="461.8" y="25.9" width="6.5" height="6.2" fill="#dbdbff"/><rect x="467.9" y="25.9" width="6.5" height="6.2" fill="#d1d1ff"/><rect x="474.0" y="25.9" width="6.5" height="6.2" fill="#d0d0ff"/><rect x="480.1" y="25.9" width="6.5" height="6.2" fill="#d7d7ff"/><rect x="486.2" y="25.9" width="6.5" height="6.2" fill="#dbdbff"/><rect x="492.3" y="25.9" width="6.5" height="6.2" fill="#dbdbff"/><rect x="498.4" y="25.9" width="6.5" height="6.2" fill="#dbdbff"/>
<rect x="285.2" y="31.7" width="6.5" height="6.2" fill="#ffe1e1"/><rect x="291.3" y="31.7" width="6.5" height="6.2" fill="#ffe1e1"/><rect x="297.4" y="31.7" width="6.5" height="6.2" fill="#ffe1e1"/><rect x="303.5" y="31.7" width="6.5" height="6.2" fill="#fff5f5"/><rect x="309.6" y="31.7" width="6.5" height="6.2" fill="#e2e2ff"/><rect x="315.7" y="31.7" width="6.5" height="6.2" fill="#cdcdff"/><rect x="321.8" y="31.7" width="6.5" height="6.2" fill="#ccccff"/><rect x="327.9" y="31.7" width="6.5" height="6.2" fill="#cfcfff"/><rect x="333.9" y="31.7" width="6.5" height="6.2" fill="#d5d5ff"/><rect x="340.0" y="31.7" width="6.5" height="6.2" fill="#d8d8ff"/><rect x="346.1" y="31.7" width="6.5" height="6.2" fill="#d8d8ff"/><rect x="352.2" y="31.7" width="6.5" height="6.2" fill="#d8d8ff"/><rect x="358.3" y="31.7" width="6.5" height="6.2" fill="#d7d7ff"/><rect x="364.4" y="31.7" width="6.5" height="6.2" fill="#d6d6ff"/><rect x="370.5" y="31.7" width="6.5" height="6.2" fill="#d4d4ff"/><rect x="376.6" y="31.7" width="6.5" height="6.2" fill="#d3d3ff"/><rect x="382.7" y="31.7" width="6.5" height="6.2" fill="#d3d3ff"/><rect x="388.8" y="31.7" width="6.5" height="6.2" fill="#d1d1ff"/><rect x="394.9" y="31.7" width="6.5" height="6.2" fill="#ceceff"/><rect x="400.9" y="31.7" width="6.5" height="6.2" fill="#cacaff"/><rect x="407.0" y="31.7" width="6.5" height="6.2" fill="#c7c7ff"/><rect x="413.1" y="31.7" width="6.5" height="6.2" fill="#c8c8ff"/><rect x="419.2" y="31.7" width="6.5" height="6.2" fill="#ceceff"/><rect x="425.3" y="31.7" width="6.5" height="6.2" fill="#d1d1ff"/><rect x="431.4" y="31.7" width="6.5" height="6.2" fill="#d3d3ff"/><rect x="437.5" y="31.7" width="6.5" height="6.2" fill="#d6d6ff"/><rect x="443.6" y="31.7" width="6.5" height="6.2" fill="#dcdcff"/><rect x="449.7" y="31.7" width="6.5" height="6.2" fill="#dfdfff"/><rect x="455.8" y="31.7" width="6.5" height="6.2" fill="#dfdfff"/><rect x="461.8" y="31.7" width="6.5" height="6.2" fill="#e0e0ff"/><rect x="467.9" y="31.7" width="6.5" height="6.2" fill="#e2e2ff"/><rect x="474.0" y="31.7" width="6.5" height="6.2" fill="#e2e2ff"/><rect x="480.1" y="31.7" width="6.5" height="6.2" fill="#dfdfff"/><rect x="486.2" y="31.7" width="6.5" height="6.2" fill="#dedeff"/><rect x="492.3" y="31.7" width="6.5" height="6.2" fill="#dedeff"/><rect x="498.4" y="31.7" width="6.5" height="6.2" fill="#dedeff"/>
<rect x="285.2" y="37.6" width="6.5" height="6.2" fill="#ffd6d6"/><rect x="291.3" y="37.6" width="6.5" height="6.2" fill="#ffd6d6"/><rect x="297.4" y="37.6" width="6.5" height="6.2" fill="#ffd6d6"/><rect x="303.5" y="37.6" width="6.5" height="6.2" fill="#ffe8e8"/><rect x="309.6" y="37.6" width="6.5" height="6.2" fill="#f2f2ff"/><rect x="315.7" y="37.6" width="6.5" height="6.2" fill="#ddddff"/><rect x="321.8" y="37.6" width="6.5" height="6.2" fill="#d7d7ff"/><rect x="327.9" y="37.6" width="6.5" height="6.2" fill="#d6d6ff"/><rect x="333.9" y="37.6" width="6.5" height="6.2" fill="#dbdbff"/><rect x="340.0" y="37.6" width="6.5" height="6.2" fill="#dedeff"/><rect x="346.1" y="37.6" width="6.5" height="6.2" fill="#dfdfff"/><rect x="352.2" y="37.6" width="6.5" height="6.2" fill="#e1e1ff"/><rect x="358.3" y="37.6" width="6.5" height="6.2" fill="#e3e3ff"/><rect x="364.4" y="37.6" width="6.5" height="6.2" fill="#dfdfff"/><rect x="370.5" y="37.6" width="6.5" height="6.2" fill="#d5d5ff"/><rect x="376.6" y="37.6" width="6.5" height="6.2" fill="#d0d0ff"/><rect x="382.7" y="37.6" width="6.5" height="6.2" fill="#d0d0ff"/><rect x="388.8" y="37.6" width="6.5" height="6.2" fill="#d4d4ff"/><rect x="394.9" y="37.6" width="6.5" height="6.2" fill="#dbdbff"/><rect x="400.9" y="37.6" width="6.5" height="6.2" fill="#dcdcff"/><rect x="407.0" y="37.6" width="6.5" height="6.2" fill="#d7d7ff"/><rect x="413.1" y="37.6" width="6.5" height="6.2" fill="#d4d4ff"/><rect x="419.2" y="37.6" width="6.5" height="6.2" fill="#d4d4ff"/><rect x="425.3" y="37.6" width="6.5" height="6.2" fill="#d5d5ff"/><rect x="431.4" y="37.6" width="6.5" height="6.2" fill="#d6d6ff"/><rect x="437.5" y="37.6" width="6.5" height="6.2" fill="#d5d5ff"/><rect x="443.6" y="37.6" width="6.5" height="6.2" fill="#d2d2ff"/><rect x="449.7" y="37.6" width="6.5" height="6.2" fill="#d0d0ff"/><rect x="455.8" y="37.6" width="6.5" height="6.2" fill="#ceceff"/><rect x="461.8" y="37.6" width="6.5" height="6.2" fill="#d4d4ff"/><rect x="467.9" y="37.6" width="6.5" height="6.2" fill="#e3e3ff"/><rect x="474.0" y="37.6" width="6.5" height="6.2" fill="#e8e8ff"/><rect x="480.1" y="37.6" width="6.5" height="6.2" fill="#e3e3ff"/><rect x="486.2" y="37.6" width="6.5" height="6.2" fill="#e1e1ff"/><rect x="492.3" y="37.6" width="6.5" height="6.2" fill="#e1e1ff"/><rect x="498.4" y="37.6" width="6.5" height="6.2" fill="#e1e1ff"/>
<rect x="285.2" y="43.4" width="6.5" height="6.2" fill="#fff3f3"/><rect x="291.3" y="43.4" width="6.5" height="6.2" fill="#fff3f3"/><rect x="297.4" y="43.4" width="6.5" height="6.2" fill="#fff3f3"/><rect x="303.5" y="43.4" width="6.5" height="6.2" fill="#fefeff"/><rect x="309.6" y="43.4" width="6.5" height="6.2" fill="#e3e3ff"/><rect x="315.7" y="43.4" width="6.5" height="6.2" fill="#d2d2ff"/><rect x="321.8" y="43.4" width="6.5" height="6.2" fill="#cbcbff"/><rect x="327.9" y="43.4" width="6.5" height="6.2" fill="#ccccff"/><rect x="333.9" y="43.4" width="6.5" height="6.2" fill="#d6d6ff"/><rect x="340.0" y="43.4" width="6.5" height="6.2" fill="#d9d9ff"/><rect x="346.1" y="43.4" width="6.5" height="6.2" fill="#d7d7ff"/><rect x="352.2" y="43.4" width="6.5" height="6.2" fill="#dfdfff"/><rect x="358.3" y="43.4" width="6.5" height="6.2" fill="#f1f1ff"/><rect x="364.4" y="43.4" width="6.5" height="6.2" fill="#f0f0ff"/><rect x="370.5" y="43.4" width="6.5" height="6.2" fill="#dbdbff"/><rect x="376.6" y="43.4" width="6.5" height="6.2" fill="#d0d0ff"/><rect x="382.7" y="43.4" width="6.5" height="6.2" fill="#d0d0ff"/><rect x="388.8" y="43.4" width="6.5" height="6.2" fill="#d7d7ff"/><rect x="394.9" y="43.4" width="6.5" height="6.2" fill="#e3e3ff"/><rect x="400.9" y="43.4" width="6.5" height="6.2" fill="#e5e5ff"/><rect x="407.0" y="43.4" width="6.5" height="6.2" fill="#dfdfff"/><rect x="413.1" y="43.4" width="6.5" height="6.2" fill="#dbdbff"/><rect x="419.2" y="43.4" width="6.5" height="6.2" fill="#dbdbff"/><rect x="425.3" y="43.4" width="6.5" height="6.2" fill="#d9d9ff"/><rect x="431.4" y="43.4" width="6.5" height="6.2" fill="#d5d5ff"/><rect x="437.5" y="43.4" width="6.5" height="6.2" fill="#cbcbff"/><rect x="443.6" y="43.4" width="6.5" height="6.2" fill="#bbbbff"/><rect x="449.7" y="43.4" width="6.5" height="6.2" fill="#b0b0ff"/><rect x="455.8" y="43.4" width="6.5" height="6.2" fill="#ababff"/><rect x="461.8" y="43.4" width="6.5" height="6.2" fill="#b7b7ff"/><rect x="467.9" y="43.4" width="6.5" height="6.2" fill="#d4d4ff"/><rect x="474.0" y="43.4" width="6.5" height="6.2" fill="#e3e3ff"/><rect x="480.1" y="43.4" width="6.5" height="6.2" fill="#e3e3ff"/><rect x="486.2" y="43.4" width="6.5" height="6.2" fill="#e4e4ff"/><rect x="492.3" y="43.4" width="6.5" height="6.2" fill="#e4e4ff"/><rect x="498.4" y="43.4" width="6.5" height="6.2" fill="#e4e4ff"/>
<rect x="285.2" y="49.2" width="6.5" height="6.2" fill="#f5f5ff"/><rect x="291.3" y="49.2" width="6.5" height="6.2" fill="#f5f5ff"/><rect x="297.4" y="49.2" width="6.5" height="6.2" fill="#f5f5ff"/><rect x="303.5" y="49.2" width="6.5" height="6.2" fill="#ececff"/><rect x="309.6" y="49.2" width="6.5" height="6.2" fill="#dadaff"/><rect x="315.7" y="49.2" width="6.5" height="6.2" fill="#ceceff"/><rect x="321.8" y="49.2" width="6.5" height="6.2" fill="#cacaff"/><rect x="327.9" y="49.2" width="6.5" height="6.2" fill="#cbcbff"/><rect x="333.9" y="49.2" width="6.5" height="6.2" fill="#d0d0ff"/><rect x="340.0" y="49.2" width="6.5" height="6.2" fill="#d1d1ff"/><rect x="346.1" y="49.2" width="6.5" height="6.2" fill="#ccccff"/><rect x="352.2" y="49.2" width="6.5" height="6.2" fill="#d6d6ff"/><rect x="358.3" y="49.2" width="6.5" height="6.2" fill="#efefff"/><rect x="364.4" y="49.2" width="6.5" height="6.2" fill="#f3f3ff"/><rect x="370.5" y="49.2" width="6.5" height="6.2" fill="#e1e1ff"/><rect x="376.6" y="49.2" width="6.5" height="6.2" fill="#d8d8ff"/><rect x="382.7" y="49.2" width="6.5" height="6.2" fill="#d8d8ff"/><rect x="388.8" y="49.2" width="6.5" height="6.2" fill="#dbdbff"/><rect x="394.9" y="49.2" width="6.5" height="6.2" fill="#e3e3ff"/><rect x="400.9" y="49.2" width="6.5" height="6.2" fill="#e4e4ff"/><rect x="407.0" y="49.2" width="6.5" height="6.2" fill="#e0e0ff"/><rect x="413.1" y="49.2" width="6.5" height="6.2" fill="#dedeff"/><rect x="419.2" y="49.2" width="6.5" height="6.2" fill="#dfdfff"/><rect x="425.3" y="49.2" width="6.5" height="6.2" fill="#dcdcff"/><rect x="431.4" y="49.2" width="6.5" height="6.2" fill="#d7d7ff"/><rect x="437.5" y="49.2" width="6.5" height="6.2" fill="#ccccff"/><rect x="443.6" y="49.2" width="6.5" height="6.2" fill="#babaff"/><rect x="449.7" y="49.2" width="6.5" height="6.2" fill="#b0b0ff"/><rect x="455.8" y="49.2" width="6.5" height="6.2" fill="#adadff"/><rect x="461.8" y="49.2" width="6.5" height="6.2" fill="#b7b7ff"/><rect x="467.9" y="49.2" width="6.5" height="6.2" fill="#cdcdff"/><rect x="474.0" y="49.2" width="6.5" height="6.2" fill="#dbdbff"/><rect x="480.1" y="49.2" width="6.5" height="6.2" fill="#e2e2ff"/><rect x="486.2" y="49.2" width="6.5" height="6.2" fill="#e5e5ff"/><rect x="492.3" y="49.2" width="6.5" height="6.2" fill="#e5e5ff"/><rect x="498.4" y="49.2" width="6.5" height="6.2" fill="#e5e5ff"/>
<rect x="285.2" y="55.0" width="6.5" height="6.2" fill="#e6e6ff"/><rect x="291.3" y="55.0" width="6.5" height="6.2" fill="#e6e6ff"/><rect x="297.4" y="55.0" width="6.5" height="6.2" fill="#e6e6ff"/><rect x="303.5" y="55.0" width="6.5" height="6.2" fill="#e1e1ff"/><rect x="309.6" y="55.0" width="6.5" height="6.2" fill="#d6d6ff"/><rect x="315.7" y="55.0" width="6.5" height="6.2" fill="#d1d1ff"/><rect x="321.8" y="55.0" width="6.5" height="6.2" fill="#d3d3ff"/><rect x="327.9" y="55.0" width="6.5" height="6.2" fill="#d0d0ff"/><rect x="333.9" y="55.0" width="6.5" height="6.2" fill="#cbcbff"/><rect x="340.0" y="55.0" width="6.5" height="6.2" fill="#c4c4ff"/><rect x="346.1" y="55.0" width="6.5" height="6.2" fill="#bebeff"/><rect x="352.2" y="55.0" width="6.5" height="6.2" fill="#c6c6ff"/><rect x="358.3" y="55.0" width="6.5" height="6.2" fill="#ddddff"/><rect x="364.4" y="55.0" width="6.5" height="6.2" fill="#e8e8ff"/><rect x="370.5" y="55.0" width="6.5" height="6.2" fill="#e7e7ff"/><rect x="376.6" y="55.0" width="6.5" height="6.2" fill="#e6e6ff"/><rect x="382.7" y="55.0" width="6.5" height="6.2" fill="#e6e6ff"/><rect x="388.8" y="55.0" width="6.5" height="6.2" fill="#e3e3ff"/><rect x="394.9" y="55.0" width="6.5" height="6.2" fill="#dbdbff"/><rect x="400.9" y="55.0" width="6.5" height="6.2" fill="#d9d9ff"/><rect x="407.0" y="55.0" width="6.5" height="6.2" fill="#dadaff"/><rect x="413.1" y="55.0" width="6.5" height="6.2" fill="#dcdcff"/><rect x="419.2" y="55.0" width="6.5" height="6.2" fill="#dedeff"/><rect x="425.3" y="55.0" width="6.5" height="6.2" fill="#dedeff"/><rect x="431.4" y="55.0" width="6.5" height="6.2" fill="#dcdcff"/><rect x="437.5" y="55.0" width="6.5" height="6.2" fill="#d8d8ff"/><rect x="443.6" y="55.0" width="6.5" height="6.2" fill="#d0d0ff"/><rect x="449.7" y="55.0" width="6.5" height="6.2" fill="#cfcfff"/><rect x="455.8" y="55.0" width="6.5" height="6.2" fill="#d5d5ff"/><rect x="461.8" y="55.0" width="6.5" height="6.2" fill="#d4d4ff"/><rect x="467.9" y="55.0" width="6.5" height="6.2" fill="#cdcdff"/><rect x="474.0" y="55.0" width="6.5" height="6.2" fill="#d0d0ff"/><rect x="480.1" y="55.0" width="6.5" height="6.2" fill="#dedeff"/><rect x="486.2" y="55.0" width="6.5" height="6.2" fill="#e5e5ff"/><rect x="492.3" y="55.0" width="6.5" height="6.2" fill="#e5e5ff"/><rect x="498.4" y="55.0" width="6.5" height="6.2" fill="#e5e5ff"/>
<rect x="285.2" y="60.9" width="6.5" height="6.2" fill="#dbdbff"/><rect x="291.3" y="60.9" width="6.5" height="6.2" fill="#dbdbff"/><rect x="297.4" y="60.9" width="6.5" height="6.2" fill="#dbdbff"/><rect x="303.5" y="60.9" width="6.5" height="6.2" fill="#d8d8ff"/><rect x="309.6" y="60.9" width="6.5" height="6.2" fill="#d0d0ff"/><rect x="315.7" y="60.9" width="6.5" height="6.2" fill="#ceceff"/><rect x="321.8" y="60.9" width="6.5" height="6.2" fill="#d2d2ff"/><rect x="327.9" y="60.9" width="6.5" height="6.2" fill="#d0d0ff"/><rect x="333.9" y="60.9" width="6.5" height="6.2" fill="#c9c9ff"/><rect x="340.0" y="60.9" width="6.5" height="6.2" fill="#c6c6ff"/><rect x="346.1" y="60.9" width="6.5" height="6.2" fill="#c7c7ff"/><rect x="352.2" y="60.9" width="6.5" height="6.2" fill="#ceceff"/><rect x="358.3" y="60.9" width="6.5" height="6.2" fill="#dcdcff"/><rect x="364.4" y="60.9" width="6.5" height="6.2" fill="#e5e5ff"/><rect x="370.5" y="60.9" width="6.5" height="6.2" fill="#e9e9ff"/><rect x="376.6" y="60.9" width="6.5" height="6.2" fill="#ebebff"/><rect x="382.7" y="60.9" width="6.5" height="6.2" fill="#eaeaff"/><rect x="388.8" y="60.9" width="6.5" height="6.2" fill="#e4e4ff"/><rect x="394.9" y="60.9" width="6.5" height="6.2" fill="#d7d7ff"/><rect x="400.9" y="60.9" width="6.5" height="6.2" fill="#d3d3ff"/><rect x="407.0" y="60.9" width="6.5" height="6.2" fill="#d8d8ff"/><rect x="413.1" y="60.9" width="6.5" height="6.2" fill="#ddddff"/><rect x="419.2" y="60.9" width="6.5" height="6.2" fill="#e2e2ff"/><rect x="425.3" y="60.9" width="6.5" height="6.2" fill="#e2e2ff"/><rect x="431.4" y="60.9" width="6.5" height="6.2" fill="#dedeff"/><rect x="437.5" y="60.9" width="6.5" height="6.2" fill="#d9d9ff"/><rect x="443.6" y="60.9" width="6.5" height="6.2" fill="#d3d3ff"/><rect x="449.7" y="60.9" width="6.5" height="6.2" fill="#d5d5ff"/><rect x="455.8" y="60.9" width="6.5" height="6.2" fill="#e1e1ff"/><rect x="461.8" y="60.9" width="6.5" height="6.2" fill="#dfdfff"/><rect x="467.9" y="60.9" width="6.5" height="6.2" fill="#d0d0ff"/><rect x="474.0" y="60.9" width="6.5" height="6.2" fill="#d0d0ff"/><rect x="480.1" y="60.9" width="6.5" height="6.2" fill="#dedeff"/><rect x="486.2" y="60.9" width="6.5" height="6.2" fill="#e5e5ff"/><rect x="492.3" y="60.9" width="6.5" height="6.2" fill="#e5e5ff"/><rect x="498.4" y="60.9" width="6.5" height="6.2" fill="#e5e5ff"/>
<rect x="285.2" y="66.7" width="6.5" height="6.2" fill="#d4d4ff"/><rect x="291.3" y="66.7" width="6.5" height="6.2" fill="#d4d4ff"/><rect x="297.4" y="66.7" width="6.5" height="6.2" fill="#d4d4ff"/><rect x="303.5" y="66.7" width="6.5" height="6.2" fill="#d0d0ff"/><rect x="309.6" y="66.7" width="6.5" height="6.2" fill="#c9c9ff"/><rect x="315.7" y="66.7" width="6.5" height="6.2" fill="#c6c6ff"/><rect x="321.8" y="66.7" width="6.5" height="6.2" fill="#c7c7ff"/><rect x="327.9" y="66.7" width="6.5" height="6.2" fill="#c9c9ff"/><rect x="333.9" y="66.7" width="6.5" height="6.2" fill="#ccccff"/><rect x="340.0" y="66.7" width="6.5" height="6.2" fill="#d5d5ff"/><rect x="346.1" y="66.7" width="6.5" height="6.2" fill="#e6e6ff"/><rect x="352.2" y="66.7" width="6.5" height="6.2" fill="#ededff"/><rect x="358.3" y="66.7" width="6.5" height="6.2" fill="#ebebff"/><rect x="364.4" y="66.7" width="6.5" height="6.2" fill="#e9e9ff"/><rect x="370.5" y="66.7" width="6.5" height="6.2" fill="#e8e8ff"/><rect x="376.6" y="66.7" width="6.5" height="6.2" fill="#e6e6ff"/><rect x="382.7" y="66.7" width="6.5" height="6.2" fill="#e4e4ff"/><rect x="388.8" y="66.7" width="6.5" height="6.2" fill="#dedeff"/><rect x="394.9" y="66.7" width="6.5" height="6.2" fill="#d5d5ff"/><rect x="400.9" y="66.7" width="6.5" height="6.2" fill="#d4d4ff"/><rect x="407.0" y="66.7" width="6.5" height="6.2" fill="#dadaff"/><rect x="413.1" y="66.7" width="6.5" height="6.2" fill="#e2e2ff"/><rect x="419.2" y="66.7" width="6.5" height="6.2" fill="#eaeaff"/><rect x="425.3" y="66.7" width="6.5" height="6.2" fill="#e8e8ff"/><rect x="431.4" y="66.7" width="6.5" height="6.2" fill="#dbdbff"/><rect x="437.5" y="66.7" width="6.5" height="6.2" fill="#ceceff"/><rect x="443.6" y="66.7" width="6.5" height="6.2" fill="#c3c3ff"/><rect x="449.7" y="66.7" width="6.5" height="6.2" fill="#c3c3ff"/><rect x="455.8" y="66.7" width="6.5" height="6.2" fill="#d1d1ff"/><rect x="461.8" y="66.7" width="6.5" height="6.2" fill="#d8d8ff"/><rect x="467.9" y="66.7" width="6.5" height="6.2" fill="#d8d8ff"/><rect x="474.0" y="66.7" width="6.5" height="6.2" fill="#dbdbff"/><rect x="480.1" y="66.7" width="6.5" height="6.2" fill="#e2e2ff"/><rect x="486.2" y="66.7" width="6.5" height="6.2" fill="#e5e5ff"/><rect x="492.3" y="66.7" width="6.5" height="6.2" fill="#e5e5ff"/><rect x="498.4" y="66.7" width="6.5" height="6.2" fill="#e5e5ff"/>
<rect x="285.2" y="72.5" width="6.5" height="6.2" fill="#c9c9ff"/><rect x="291.3" y="72.5" width="6.5" height="6.2" fill="#c9c9ff"/><rect x="297.4" y="72.5" width="6.5" height="6.2" fill="#c9c9ff"/><rect x="303.5" y="72.5" width="6.5" height="6.2" fill="#c8c8ff"/><rect x="309.6" y="72.5" width="6.5" height="6.2" fill="#c6c6ff"/><rect x="315.7" y="72.5" width="6.5" height="6.2" fill="#c5c5ff"/><rect x="321.8" y="72.5" width="6.5" height="6.2" fill="#c3c3ff"/><rect x="327.9" y="72.5" width="6.5" height="6.2" fill="#c5c5ff"/><rect x="333.9" y="72.5" width="6.5" height="6.2" fill="#cacaff"/><rect x="340.0" y="72.5" width="6.5" height="6.2" fill="#dbdbff"/><rect x="346.1" y="72.5" width="6.5" height="6.2" fill="#f7f7ff"/><rect x="352.2" y="72.5" width="6.5" height="6.2" fill="#ffffff"/><rect x="358.3" y="72.5" width="6.5" height="6.2" fill="#f5f5ff"/><rect x="364.4" y="72.5" width="6.5" height="6.2" fill="#ededff"/><rect x="370.5" y="72.5" width="6.5" height="6.2" fill="#e7e7ff"/><rect x="376.6" y="72.5" width="6.5" height="6.2" fill="#e2e2ff"/><rect x="382.7" y="72.5" width="6.5" height="6.2" fill="#dfdfff"/><rect x="388.8" y="72.5" width="6.5" height="6.2" fill="#d9d9ff"/><rect x="394.9" y="72.5" width="6.5" height="6.2" fill="#d1d1ff"/><rect x="400.9" y="72.5" width="6.5" height="6.2" fill="#cfcfff"/><rect x="407.0" y="72.5" width="6.5" height="6.2" fill="#d2d2ff"/><rect x="413.1" y="72.5" width="6.5" height="6.2" fill="#dadaff"/><rect x="419.2" y="72.5" width="6.5" height="6.2" fill="#e7e7ff"/><rect x="425.3" y="72.5" width="6.5" height="6.2" fill="#e5e5ff"/><rect x="431.4" y="72.5" width="6.5" height="6.2" fill="#d5d5ff"/><rect x="437.5" y="72.5" width="6.5" height="6.2" fill="#c8c8ff"/><rect x="443.6" y="72.5" width="6.5" height="6.2" fill="#bfbfff"/><rect x="449.7" y="72.5" width="6.5" height="6.2" fill="#c1c1ff"/><rect x="455.8" y="72.5" width="6.5" height="6.2" fill="#ceceff"/><rect x="461.8" y="72.5" width="6.5" height="6.2" fill="#d8d8ff"/><rect x="467.9" y="72.5" width="6.5" height="6.2" fill="#dfdfff"/><rect x="474.0" y="72.5" width="6.5" height="6.2" fill="#e4e4ff"/><rect x="480.1" y="72.5" width="6.5" height="6.2" fill="#e6e6ff"/><rect x="486.2" y="72.5" width="6.5" height="6.2" fill="#e7e7ff"/><rect x="492.3" y="72.5" width="6.5" height="6.2" fill="#e7e7ff"/><rect x="498.4" y="72.5" width="6.5" height="6.2" fill="#e7e7ff"/>
<rect x="285.2" y="78.4" width="6.5" height="6.2" fill="#babaff"/><rect x="291.3" y="78.4" width="6.5" height="6.2" fill="#babaff"/><rect x="297.4" y="78.4" width="6.5" height="6.2" fill="#babaff"/><rect x="303.5" y="78.4" width="6.5" height="6.2" fill="#bfbfff"/><rect x="309.6" y="78.4" width="6.5" height="6.2" fill="#c8c8ff"/><rect x="315.7" y="78.4" width="6.5" height="6.2" fill="#cacaff"/><rect x="321.8" y="78.4" width="6.5" height="6.2" fill="#c5c5ff"/><rect x="327.9" y="78.4" width="6.5" height="6.2" fill="#c3c3ff"/><rect x="333.9" y="78.4" width="6.5" height="6.2" fill="#c5c5ff"/><rect x="340.0" y="78.4" width="6.5" height="6.2" fill="#d6d6ff"/><rect x="346.1" y="78.4" width="6.5" height="6.2" fill="#f8f8ff"/><rect x="352.2" y="78.4" width="6.5" height="6.2" fill="#fffafa"/><rect x="358.3" y="78.4" width="6.5" height="6.2" fill="#fafaff"/><rect x="364.4" y="78.4" width="6.5" height="6.2" fill="#efefff"/><rect x="370.5" y="78.4" width="6.5" height="6.2" fill="#e6e6ff"/><rect x="376.6" y="78.4" width="6.5" height="6.2" fill="#dfdfff"/><rect x="382.7" y="78.4" width="6.5" height="6.2" fill="#dcdcff"/><rect x="388.8" y="78.4" width="6.5" height="6.2" fill="#d5d5ff"/><rect x="394.9" y="78.4" width="6.5" height="6.2" fill="#cbcbff"/><rect x="400.9" y="78.4" width="6.5" height="6.2" fill="#c4c4ff"/><rect x="407.0" y="78.4" width="6.5" height="6.2" fill="#c0c0ff"/><rect x="413.1" y="78.4" width="6.5" height="6.2" fill="#c7c7ff"/><rect x="419.2" y="78.4" width="6.5" height="6.2" fill="#d7d7ff"/><rect x="425.3" y="78.4" width="6.5" height="6.2" fill="#d9d9ff"/><rect x="431.4" y="78.4" width="6.5" height="6.2" fill="#ccccff"/><rect x="437.5" y="78.4" width="6.5" height="6.2" fill="#c6c6ff"/><rect x="443.6" y="78.4" width="6.5" height="6.2" fill="#c8c8ff"/><rect x="449.7" y="78.4" width="6.5" height="6.2" fill="#ceceff"/><rect x="455.8" y="78.4" width="6.5" height="6.2" fill="#d7d7ff"/><rect x="461.8" y="78.4" width="6.5" height="6.2" fill="#dfdfff"/><rect x="467.9" y="78.4" width="6.5" height="6.2" fill="#e6e6ff"/><rect x="474.0" y="78.4" width="6.5" height="6.2" fill="#eaeaff"/><rect x="480.1" y="78.4" width="6.5" height="6.2" fill="#ebebff"/><rect x="486.2" y="78.4" width="6.5" height="6.2" fill="#ececff"/><rect x="492.3" y="78.4" width="6.5" height="6.2" fill="#ececff"/><rect x="498.4" y="78.4" width="6.5" height="6.2" fill="#ececff"/>
<rect x="285.2" y="84.2" width="6.5" height="6.2" fill="#afafff"/><rect x="291.3" y="84.2" width="6.5" height="6.2" fill="#afafff"/><rect x="297.4" y="84.2" width="6.5" height="6.2" fill="#afafff"/><rect x="303.5" y="84.2" width="6.5" height="6.2" fill="#b8b8ff"/><rect x="309.6" y="84.2" width="6.5" height="6.2" fill="#c8c8ff"/><rect x="315.7" y="84.2" width="6.5" height="6.2" fill="#cfcfff"/><rect x="321.8" y="84.2" width="6.5" height="6.2" fill="#cbcbff"/><rect x="327.9" y="84.2" width="6.5" height="6.2" fill="#c8c8ff"/><rect x="333.9" y="84.2" width="6.5" height="6.2" fill="#c6c6ff"/><rect x="340.0" y="84.2" width="6.5" height="6.2" fill="#d4d4ff"/><rect x="346.1" y="84.2" width="6.5" height="6.2" fill="#f1f1ff"/><rect x="352.2" y="84.2" width="6.5" height="6.2" fill="#fdfdff"/><rect x="358.3" y="84.2" width="6.5" height="6.2" fill="#f6f6ff"/><rect x="364.4" y="84.2" width="6.5" height="6.2" fill="#ededff"/><rect x="370.5" y="84.2" width="6.5" height="6.2" fill="#e1e1ff"/><rect x="376.6" y="84.2" width="6.5" height="6.2" fill="#dadaff"/><rect x="382.7" y="84.2" width="6.5" height="6.2" fill="#d8d8ff"/><rect x="388.8" y="84.2" width="6.5" height="6.2" fill="#d3d3ff"/><rect x="394.9" y="84.2" width="6.5" height="6.2" fill="#ccccff"/><rect x="400.9" y="84.2" width="6.5" height="6.2" fill="#c3c3ff"/><rect x="407.0" y="84.2" width="6.5" height="6.2" fill="#bbbbff"/><rect x="413.1" y="84.2" width="6.5" height="6.2" fill="#c0c0ff"/><rect x="419.2" y="84.2" width="6.5" height="6.2" fill="#d2d2ff"/><rect x="425.3" y="84.2" width="6.5" height="6.2" fill="#d5d5ff"/><rect x="431.4" y="84.2" width="6.5" height="6.2" fill="#cbcbff"/><rect x="437.5" y="84.2" width="6.5" height="6.2" fill="#c9c9ff"/><rect x="443.6" y="84.2" width="6.5" height="6.2" fill="#d0d0ff"/><rect x="449.7" y="84.2" width="6.5" height="6.2" fill="#dbdbff"/><rect x="455.8" y="84.2" width="6.5" height="6.2" fill="#e8e8ff"/><rect x="461.8" y="84.2" width="6.5" height="6.2" fill="#f2f2ff"/><rect x="467.9" y="84.2" width="6.5" height="6.2" fill="#f8f8ff"/><rect x="474.0" y="84.2" width="6.5" height="6.2" fill="#f7f7ff"/><rect x="480.1" y="84.2" width="6.5" height="6.2" fill="#efefff"/><rect x="486.2" y="84.2" width="6.5" height="6.2" fill="#ececff"/><rect x="492.3" y="84.2" width="6.5" height="6.2" fill="#ececff"/><rect x="498.4" y="84.2" width="6.5" height="6.2" fill="#ececff"/>
<rect x="285.2" y="90.0" width="6.5" height="6.2" fill="#a8a8ff"/><rect x="291.3" y="90.0" width="6.5" height="6.2" fill="#a8a8ff"/><rect x="297.4" y="90.0" width="6.5" height="6.2" fill="#a8a8ff"/><rect x="303.5" y="90.0" width="6.5" height="6.2" fill="#b2b2ff"/><rect x="309.6" y="90.0" width="6.5" height="6.2" fill="#c6c6ff"/><rect x="315.7" y="90.0" width="6.5" height="6.2" fill="#d2d2ff"/><rect x="321.8" y="90.0" width="6.5" height="6.2" fill="#d6d6ff"/><rect x="327.9" y="90.0" width="6.5" height="6.2" fill="#d5d5ff"/><rect x="333.9" y="90.0" width="6.5" height="6.2" fill="#d0d0ff"/><rect x="340.0" y="90.0" width="6.5" height="6.2" fill="#d4d4ff"/><rect x="346.1" y="90.0" width="6.5" height="6.2" fill="#e3e3ff"/><rect x="352.2" y="90.0" width="6.5" height="6.2" fill="#eaeaff"/><rect x="358.3" y="90.0" width="6.5" height="6.2" fill="#eaeaff"/><rect x="364.4" y="90.0" width="6.5" height="6.2" fill="#e4e4ff"/><rect x="370.5" y="90.0" width="6.5" height="6.2" fill="#d9d9ff"/><rect x="376.6" y="90.0" width="6.5" height="6.2" fill="#d4d4ff"/><rect x="382.7" y="90.0" width="6.5" height="6.2" fill="#d3d3ff"/><rect x="388.8" y="90.0" width="6.5" height="6.2" fill="#d3d3ff"/><rect x="394.9" y="90.0" width="6.5" height="6.2" fill="#d3d3ff"/><rect x="400.9" y="90.0" width="6.5" height="6.2" fill="#ceceff"/><rect x="407.0" y="90.0" width="6.5" height="6.2" fill="#c3c3ff"/><rect x="413.1" y="90.0" width="6.5" height="6.2" fill="#c6c6ff"/><rect x="419.2" y="90.0" width="6.5" height="6.2" fill="#d6d6ff"/><rect x="425.3" y="90.0" width="6.5" height="6.2" fill="#d9d9ff"/><rect x="431.4" y="90.0" width="6.5" height="6.2" fill="#d1d1ff"/><rect x="437.5" y="90.0" width="6.5" height="6.2" fill="#d0d0ff"/><rect x="443.6" y="90.0" width="6.5" height="6.2" fill="#d8d8ff"/><rect x="449.7" y="90.0" width="6.5" height="6.2" fill="#e8e8ff"/><rect x="455.8" y="90.0" width="6.5" height="6.2" fill="#fffcfc"/><rect x="461.8" y="90.0" width="6.5" height="6.2" fill="#ffeeee"/><rect x="467.9" y="90.0" width="6.5" height="6.2" fill="#ffecec"/><rect x="474.0" y="90.0" width="6.5" height="6.2" fill="#fff6f6"/><rect x="480.1" y="90.0" width="6.5" height="6.2" fill="#f2f2ff"/><rect x="486.2" y="90.0" width="6.5" height="6.2" fill="#e7e7ff"/><rect x="492.3" y="90.0" width="6.5" height="6.2" fill="#e7e7ff"/><rect x="498.4" y="90.0" width="6.5" height="6.2" fill="#e7e7ff"/>
<rect x="285.2" y="95.9" width="6.5" height="6.2" fill="#afafff"/><rect x="291.3" y="95.9" width="6.5" height="6.2" fill="#afafff"/><rect x="297.4" y="95.9" width="6.5" height="6.2" fill="#afafff"/><rect x="303.5" y="95.9" width="6.5" height="6.2" fill="#b5b5ff"/><rect x="309.6" y="95.9" width="6.5" height="6.2" fill="#c0c0ff"/><rect x="315.7" y="95.9" width="6.5" height="6.2" fill="#c8c8ff"/><rect x="321.8" y="95.9" width="6.5" height="6.2" fill="#ceceff"/><rect x="327.9" y="95.9" width="6.5" height="6.2" fill="#d0d0ff"/><rect x="333.9" y="95.9" width="6.5" height="6.2" fill="#ceceff"/><rect x="340.0" y="95.9" width="6.5" height="6.2" fill="#d0d0ff"/><rect x="346.1" y="95.9" width="6.5" height="6.2" fill="#d8d8ff"/><rect x="352.2" y="95.9" width="6.5" height="6.2" fill="#ddddff"/><rect x="358.3" y="95.9" width="6.5" height="6.2" fill="#dfdfff"/><rect x="364.4" y="95.9" width="6.5" height="6.2" fill="#dcdcff"/><rect x="370.5" y="95.9" width="6.5" height="6.2" fill="#d4d4ff"/><rect x="376.6" y="95.9" width="6.5" height="6.2" fill="#d1d1ff"/><rect x="382.7" y="95.9" width="6.5" height="6.2" fill="#d2d2ff"/><rect x="388.8" y="95.9" width="6.5" height="6.2" fill="#d6d6ff"/><rect x="394.9" y="95.9" width="6.5" height="6.2" fill="#dbdbff"/><rect x="400.9" y="95.9" width="6.5" height="6.2" fill="#d9d9ff"/><rect x="407.0" y="95.9" width="6.5" height="6.2" fill="#cdcdff"/><rect x="413.1" y="95.9" width="6.5" height="6.2" fill="#ccccff"/><rect x="419.2" y="95.9" width="6.5" height="6.2" fill="#d4d4ff"/><rect x="425.3" y="95.9" width="6.5" height="6.2" fill="#d6d6ff"/><rect x="431.4" y="95.9" width="6.5" height="6.2" fill="#d2d2ff"/><rect x="437.5" y="95.9" width="6.5" height="6.2" fill="#d5d5ff"/><rect x="443.6" y="95.9" width="6.5" height="6.2" fill="#dedeff"/><rect x="449.7" y="95.9" width="6.5" height="6.2" fill="#f2f2ff"/><rect x="455.8" y="95.9" width="6.5" height="6.2" fill="#ffefef"/><rect x="461.8" y="95.9" width="6.5" height="6.2" fill="#ffe3e3"/><rect x="467.9" y="95.9" width="6.5" height="6.2" fill="#ffe8e8"/><rect x="474.0" y="95.9" width="6.5" height="6.2" fill="#fff9f9"/><rect x="480.1" y="95.9" width="6.5" height="6.2" fill="#e7e7ff"/><rect x="486.2" y="95.9" width="6.5" height="6.2" fill="#d9d9ff"/><rect x="492.3" y="95.9" width="6.5" height="6.2" fill="#d9d9ff"/><rect x="498.4" y="95.9" width="6.5" height="6.2" fill="#d9d9ff"/>
<rect x="285.2" y="101.7" width="6.5" height="6.2" fill="#c5c5ff"/><rect x="291.3" y="101.7" width="6.5" height="6.2" fill="#c5c5ff"/><rect x="297.4" y="101.7" width="6.5" height="6.2" fill="#c5c5ff"/><rect x="303.5" y="101.7" width="6.5" height="6.2" fill="#c0c0ff"/><rect x="309.6" y="101.7" width="6.5" height="6.2" fill="#b5b5ff"/><rect x="315.7" y="101.7" width="6.5" height="6.2" fill="#b0b0ff"/><rect x="321.8" y="101.7" width="6.5" height="6.2" fill="#b2b2ff"/><rect x="327.9" y="101.7" width="6.5" height="6.2" fill="#b8b8ff"/><rect x="333.9" y="101.7" width="6.5" height="6.2" fill="#c1c1ff"/><rect x="340.0" y="101.7" width="6.5" height="6.2" fill="#c9c9ff"/><rect x="346.1" y="101.7" width="6.5" height="6.2" fill="#d0d0ff"/><rect x="352.2" y="101.7" width="6.5" height="6.2" fill="#d4d4ff"/><rect x="358.3" y="101.7" width="6.5" height="6.2" fill="#d5d5ff"/><rect x="364.4" y="101.7" width="6.5" height="6.2" fill="#d4d4ff"/><rect x="370.5" y="101.7" width="6.5" height="6.2" fill="#d2d2ff"/><rect x="376.6" y="101.7" width="6.5" height="6.2" fill="#d2d2ff"/><rect x="382.7" y="101.7" width="6.5" height="6.2" fill="#d5d5ff"/><rect x="388.8" y="101.7" width="6.5" height="6.2" fill="#dbdbff"/><rect x="394.9" y="101.7" width="6.5" height="6.2" fill="#e4e4ff"/><rect x="400.9" y="101.7" width="6.5" height="6.2" fill="#e3e3ff"/><rect x="407.0" y="101.7" width="6.5" height="6.2" fill="#d9d9ff"/><rect x="413.1" y="101.7" width="6.5" height="6.2" fill="#d1d1ff"/><rect x="419.2" y="101.7" width="6.5" height="6.2" fill="#ccccff"/><rect x="425.3" y="101.7" width="6.5" height="6.2" fill="#cbcbff"/><rect x="431.4" y="101.7" width="6.5" height="6.2" fill="#cfcfff"/><rect x="437.5" y="101.7" width="6.5" height="6.2" fill="#d7d7ff"/><rect x="443.6" y="101.7" width="6.5" height="6.2" fill="#e4e4ff"/><rect x="449.7" y="101.7" width="6.5" height="6.2" fill="#f6f6ff"/><rect x="455.8" y="101.7" width="6.5" height="6.2" fill="#ffefef"/><rect x="461.8" y="101.7" width="6.5" height="6.2" fill="#ffebeb"/><rect x="467.9" y="101.7" width="6.5" height="6.2" fill="#fffcfc"/><rect x="474.0" y="101.7" width="6.5" height="6.2" fill="#ececff"/><rect x="480.1" y="101.7" width="6.5" height="6.2" fill="#ceceff"/><rect x="486.2" y="101.7" width="6.5" height="6.2" fill="#c0c0ff"/><rect x="492.3" y="101.7" width="6.5" height="6.2" fill="#c0c0ff"/><rect x="498.4" y="101.7" width="6.5" height="6.2" fill="#c0c0ff"/>
<rect x="285.2" y="107.5" width="6.5" height="6.2" fill="#cdcdff"/><rect x="291.3" y="107.5" width="6.5" height="6.2" fill="#cdcdff"/><rect x="297.4" y="107.5" width="6.5" height="6.2" fill="#cdcdff"/><rect x="303.5" y="107.5" width="6.5" height="6.2" fill="#c2c2ff"/><rect x="309.6" y="107.5" width="6.5" height="6.2" fill="#acacff"/><rect x="315.7" y="107.5" width="6.5" height="6.2" fill="#a3a3ff"/><rect x="321.8" y="107.5" width="6.5" height="6.2" fill="#a6a6ff"/><rect x="327.9" y="107.5" width="6.5" height="6.2" fill="#afafff"/><rect x="333.9" y="107.5" width="6.5" height="6.2" fill="#bebeff"/><rect x="340.0" y="107.5" width="6.5" height="6.2" fill="#c9c9ff"/><rect x="346.1" y="107.5" width="6.5" height="6.2" fill="#d2d2ff"/><rect x="352.2" y="107.5" width="6.5" height="6.2" fill="#d6d6ff"/><rect x="358.3" y="107.5" width="6.5" height="6.2" fill="#d7d7ff"/><rect x="364.4" y="107.5" width="6.5" height="6.2" fill="#d8d8ff"/><rect x="370.5" y="107.5" width="6.5" height="6.2" fill="#d9d9ff"/><rect x="376.6" y="107.5" width="6.5" height="6.2" fill="#dadaff"/><rect x="382.7" y="107.5" width="6.5" height="6.2" fill="#dbdbff"/><rect x="388.8" y="107.5" width="6.5" height="6.2" fill="#dfdfff"/><rect x="394.9" y="107.5" width="6.5" height="6.2" fill="#e9e9ff"/><rect x="400.9" y="107.5" width="6.5" height="6.2" fill="#e8e8ff"/><rect x="407.0" y="107.5" width="6.5" height="6.2" fill="#ddddff"/><rect x="413.1" y="107.5" width="6.5" height="6.2" fill="#d1d1ff"/><rect x="419.2" y="107.5" width="6.5" height="6.2" fill="#c4c4ff"/><rect x="425.3" y="107.5" width="6.5" height="6.2" fill="#c2c2ff"/><rect x="431.4" y="107.5" width="6.5" height="6.2" fill="#c9c9ff"/><rect x="437.5" y="107.5" width="6.5" height="6.2" fill="#d6d6ff"/><rect x="443.6" y="107.5" width="6.5" height="6.2" fill="#e7e7ff"/><rect x="449.7" y="107.5" width="6.5" height="6.2" fill="#fdfdff"/><rect x="455.8" y="107.5" width="6.5" height="6.2" fill="#ffe8e8"/><rect x="461.8" y="107.5" width="6.5" height="6.2" fill="#ffe9e9"/><rect x="467.9" y="107.5" width="6.5" height="6.2" fill="#fbfbff"/><rect x="474.0" y="107.5" width="6.5" height="6.2" fill="#ddddff"/><rect x="480.1" y="107.5" width="6.5" height="6.2" fill="#bcbcff"/><rect x="486.2" y="107.5" width="6.5" height="6.2" fill="#acacff"/><rect x="492.3" y="107.5" width="6.5" height="6.2" fill="#acacff"/><rect x="498.4" y="107.5" width="6.5" height="6.2" fill="#acacff"/>
<rect x="285.2" y="113.4" width="6.5" height="6.2" fill="#c5c5ff"/><rect x="291.3" y="113.4" width="6.5" height="6.2" fill="#c5c5ff"/><rect x="297.4" y="113.4" width="6.5" height="6.2" fill="#c5c5ff"/><rect x="303.5" y="113.4" width="6.5" height="6.2" fill="#babaff"/><rect x="309.6" y="113.4" width="6.5" height="6.2" fill="#a4a4ff"/><rect x="315.7" y="113.4" width="6.5" height="6.2" fill="#9f9fff"/><rect x="321.8" y="113.4" width="6.5" height="6.2" fill="#aaaaff"/><rect x="327.9" y="113.4" width="6.5" height="6.2" fill="#b7b7ff"/><rect x="333.9" y="113.4" width="6.5" height="6.2" fill="#c5c5ff"/><rect x="340.0" y="113.4" width="6.5" height="6.2" fill="#d2d2ff"/><rect x="346.1" y="113.4" width="6.5" height="6.2" fill="#dbdbff"/><rect x="352.2" y="113.4" width="6.5" height="6.2" fill="#e2e2ff"/><rect x="358.3" y="113.4" width="6.5" height="6.2" fill="#e5e5ff"/><rect x="364.4" y="113.4" width="6.5" height="6.2" fill="#e8e8ff"/><rect x="370.5" y="113.4" width="6.5" height="6.2" fill="#ebebff"/><rect x="376.6" y="113.4" width="6.5" height="6.2" fill="#e9e9ff"/><rect x="382.7" y="113.4" width="6.5" height="6.2" fill="#e2e2ff"/><rect x="388.8" y="113.4" width="6.5" height="6.2" fill="#e2e2ff"/><rect x="394.9" y="113.4" width="6.5" height="6.2" fill="#eaeaff"/><rect x="400.9" y="113.4" width="6.5" height="6.2" fill="#e7e7ff"/><rect x="407.0" y="113.4" width="6.5" height="6.2" fill="#d9d9ff"/><rect x="413.1" y="113.4" width="6.5" height="6.2" fill="#ccccff"/><rect x="419.2" y="113.4" width="6.5" height="6.2" fill="#bebeff"/><rect x="425.3" y="113.4" width="6.5" height="6.2" fill="#babaff"/><rect x="431.4" y="113.4" width="6.5" height="6.2" fill="#c2c2ff"/><rect x="437.5" y="113.4" width="6.5" height="6.2" fill="#d1d1ff"/><rect x="443.6" y="113.4" width="6.5" height="6.2" fill="#e9e9ff"/><rect x="449.7" y="113.4" width="6.5" height="6.2" fill="#fffafa"/><rect x="455.8" y="113.4" width="6.5" height="6.2" fill="#ffdada"/><rect x="461.8" y="113.4" width="6.5" height="6.2" fill="#ffdbdb"/><rect x="467.9" y="113.4" width="6.5" height="6.2" fill="#ffffff"/><rect x="474.0" y="113.4" width="6.5" height="6.2" fill="#dadaff"/><rect x="480.1" y="113.4" width="6.5" height="6.2" fill="#b1b1ff"/><rect x="486.2" y="113.4" width="6.5" height="6.2" fill="#9d9dff"/><rect x="492.3" y="113.4" width="6.5" height="6.2" fill="#9d9dff"/><rect x="498.4" y="113.4" width="6.5" height="6.2" fill="#9d9dff"/>
<rect x="285.2" y="119.2" width="6.5" height="6.2" fill="#c5c5ff"/><rect x="291.3" y="119.2" width="6.5" height="6.2" fill="#c5c5ff"/><rect x="297.4" y="119.2" width="6.5" height="6.2" fill="#c5c5ff"/><rect x="303.5" y="119.2" width="6.5" height="6.2" fill="#bcbcff"/><rect x="309.6" y="119.2" width="6.5" height="6.2" fill="#aaaaff"/><rect x="315.7" y="119.2" width="6.5" height="6.2" fill="#a5a5ff"/><rect x="321.8" y="119.2" width="6.5" height="6.2" fill="#afafff"/><rect x="327.9" y="119.2" width="6.5" height="6.2" fill="#babaff"/><rect x="333.9" y="119.2" width="6.5" height="6.2" fill="#c9c9ff"/><rect x="340.0" y="119.2" width="6.5" height="6.2" fill="#d7d7ff"/><rect x="346.1" y="119.2" width="6.5" height="6.2" fill="#e3e3ff"/><rect x="352.2" y="119.2" width="6.5" height="6.2" fill="#ebebff"/><rect x="358.3" y="119.2" width="6.5" height="6.2" fill="#efefff"/><rect x="364.4" y="119.2" width="6.5" height="6.2" fill="#f2f2ff"/><rect x="370.5" y="119.2" width="6.5" height="6.2" fill="#f2f2ff"/><rect x="376.6" y="119.2" width="6.5" height="6.2" fill="#ededff"/><rect x="382.7" y="119.2" width="6.5" height="6.2" fill="#e4e4ff"/><rect x="388.8" y="119.2" width="6.5" height="6.2" fill="#e3e3ff"/><rect x="394.9" y="119.2" width="6.5" height="6.2" fill="#eaeaff"/><rect x="400.9" y="119.2" width="6.5" height="6.2" fill="#e7e7ff"/><rect x="407.0" y="119.2" width="6.5" height="6.2" fill="#dbdbff"/><rect x="413.1" y="119.2" width="6.5" height="6.2" fill="#ceceff"/><rect x="419.2" y="119.2" width="6.5" height="6.2" fill="#c1c1ff"/><rect x="425.3" y="119.2" width="6.5" height="6.2" fill="#bebeff"/><rect x="431.4" y="119.2" width="6.5" height="6.2" fill="#c4c4ff"/><rect x="437.5" y="119.2" width="6.5" height="6.2" fill="#d2d2ff"/><rect x="443.6" y="119.2" width="6.5" height="6.2" fill="#e8e8ff"/><rect x="449.7" y="119.2" width="6.5" height="6.2" fill="#fffbfb"/><rect x="455.8" y="119.2" width="6.5" height="6.2" fill="#ffd9d9"/><rect x="461.8" y="119.2" width="6.5" height="6.2" fill="#ffdada"/><rect x="467.9" y="119.2" width="6.5" height="6.2" fill="#fffefe"/><rect x="474.0" y="119.2" width="6.5" height="6.2" fill="#dcdcff"/><rect x="480.1" y="119.2" width="6.5" height="6.2" fill="#babaff"/><rect x="486.2" y="119.2" width="6.5" height="6.2" fill="#a8a8ff"/><rect x="492.3" y="119.2" width="6.5" height="6.2" fill="#a8a8ff"/><rect x="498.4" y="119.2" width="6.5" height="6.2" fill="#a8a8ff"/>
<rect x="285.2" y="125.0" width="6.5" height="6.2" fill="#cdcdff"/><rect x="291.3" y="125.0" width="6.5" height="6.2" fill="#cdcdff"/><rect x="297.4" y="125.0" width="6.5" height="6.2" fill="#cdcdff"/><rect x="303.5" y="125.0" width="6.5" height="6.2" fill="#c7c7ff"/><rect x="309.6" y="125.0" width="6.5" height="6.2" fill="#bcbcff"/><rect x="315.7" y="125.0" width="6.5" height="6.2" fill="#b6b6ff"/><rect x="321.8" y="125.0" width="6.5" height="6.2" fill="#b4b4ff"/><rect x="327.9" y="125.0" width="6.5" height="6.2" fill="#babaff"/><rect x="333.9" y="125.0" width="6.5" height="6.2" fill="#c9c9ff"/><rect x="340.0" y="125.0" width="6.5" height="6.2" fill="#d9d9ff"/><rect x="346.1" y="125.0" width="6.5" height="6.2" fill="#eaeaff"/><rect x="352.2" y="125.0" width="6.5" height="6.2" fill="#f4f4ff"/><rect x="358.3" y="125.0" width="6.5" height="6.2" fill="#f7f7ff"/><rect x="364.4" y="125.0" width="6.5" height="6.2" fill="#f5f5ff"/><rect x="370.5" y="125.0" width="6.5" height="6.2" fill="#ededff"/><rect x="376.6" y="125.0" width="6.5" height="6.2" fill="#e7e7ff"/><rect x="382.7" y="125.0" width="6.5" height="6.2" fill="#e2e2ff"/><rect x="388.8" y="125.0" width="6.5" height="6.2" fill="#e3e3ff"/><rect x="394.9" y="125.0" width="6.5" height="6.2" fill="#eaeaff"/><rect x="400.9" y="125.0" width="6.5" height="6.2" fill="#e9e9ff"/><rect x="407.0" y="125.0" width="6.5" height="6.2" fill="#e0e0ff"/><rect x="413.1" y="125.0" width="6.5" height="6.2" fill="#d7d7ff"/><rect x="419.2" y="125.0" width="6.5" height="6.2" fill="#ceceff"/><rect x="425.3" y="125.0" width="6.5" height="6.2" fill="#ccccff"/><rect x="431.4" y="125.0" width="6.5" height="6.2" fill="#d1d1ff"/><rect x="437.5" y="125.0" width="6.5" height="6.2" fill="#d9d9ff"/><rect x="443.6" y="125.0" width="6.5" height="6.2" fill="#e4e4ff"/><rect x="449.7" y="125.0" width="6.5" height="6.2" fill="#f9f9ff"/><rect x="455.8" y="125.0" width="6.5" height="6.2" fill="#ffe6e6"/><rect x="461.8" y="125.0" width="6.5" height="6.2" fill="#ffe5e5"/><rect x="467.9" y="125.0" width="6.5" height="6.2" fill="#fcfcff"/><rect x="474.0" y="125.0" width="6.5" height="6.2" fill="#e6e6ff"/><rect x="480.1" y="125.0" width="6.5" height="6.2" fill="#d5d5ff"/><rect x="486.2" y="125.0" width="6.5" height="6.2" fill="#cdcdff"/><rect x="492.3" y="125.0" width="6.5" height="6.2" fill="#cdcdff"/><rect x="498.4" y="125.0" width="6.5" height="6.2" fill="#cdcdff"/>
<rect x="285.2" y="130.9" width="6.5" height="6.2" fill="#d3d3ff"/><rect x="291.3" y="130.9" width="6.5" height="6.2" fill="#d3d3ff"/><rect x="297.4" y="130.9" width="6.5" height="6.2" fill="#d3d3ff"/><rect x="303.5" y="130.9" width="6.5" height="6.2" fill="#ceceff"/><rect x="309.6" y="130.9" width="6.5" height="6.2" fill="#c6c6ff"/><rect x="315.7" y="130.9" width="6.5" height="6.2" fill="#bdbdff"/><rect x="321.8" y="130.9" width="6.5" height="6.2" fill="#b4b4ff"/><rect x="327.9" y="130.9" width="6.5" height="6.2" fill="#b7b7ff"/><rect x="333.9" y="130.9" width="6.5" height="6.2" fill="#c5c5ff"/><rect x="340.0" y="130.9" width="6.5" height="6.2" fill="#d5d5ff"/><rect x="346.1" y="130.9" width="6.5" height="6.2" fill="#e5e5ff"/><rect x="352.2" y="130.9" width="6.5" height="6.2" fill="#f1f1ff"/><rect x="358.3" y="130.9" width="6.5" height="6.2" fill="#f9f9ff"/><rect x="364.4" y="130.9" width="6.5" height="6.2" fill="#f6f6ff"/><rect x="370.5" y="130.9" width="6.5" height="6.2" fill="#e9e9ff"/><rect x="376.6" y="130.9" width="6.5" height="6.2" fill="#e0e0ff"/><rect x="382.7" y="130.9" width="6.5" height="6.2" fill="#ddddff"/><rect x="388.8" y="130.9" width="6.5" height="6.2" fill="#e2e2ff"/><rect x="394.9" y="130.9" width="6.5" height="6.2" fill="#efefff"/><rect x="400.9" y="130.9" width="6.5" height="6.2" fill="#f0f0ff"/><rect x="407.0" y="130.9" width="6.5" height="6.2" fill="#e6e6ff"/><rect x="413.1" y="130.9" width="6.5" height="6.2" fill="#ddddff"/><rect x="419.2" y="130.9" width="6.5" height="6.2" fill="#d7d7ff"/><rect x="425.3" y="130.9" width="6.5" height="6.2" fill="#d7d7ff"/><rect x="431.4" y="130.9" width="6.5" height="6.2" fill="#dcdcff"/><rect x="437.5" y="130.9" width="6.5" height="6.2" fill="#e3e3ff"/><rect x="443.6" y="130.9" width="6.5" height="6.2" fill="#ededff"/><rect x="449.7" y="130.9" width="6.5" height="6.2" fill="#fafaff"/><rect x="455.8" y="130.9" width="6.5" height="6.2" fill="#fff5f5"/><rect x="461.8" y="130.9" width="6.5" height="6.2" fill="#fff6f6"/><rect x="467.9" y="130.9" width="6.5" height="6.2" fill="#f7f7ff"/><rect x="474.0" y="130.9" width="6.5" height="6.2" fill="#eaeaff"/><rect x="480.1" y="130.9" width="6.5" height="6.2" fill="#e4e4ff"/><rect x="486.2" y="130.9" width="6.5" height="6.2" fill="#e1e1ff"/><rect x="492.3" y="130.9" width="6.5" height="6.2" fill="#e1e1ff"/><rect x="498.4" y="130.9" width="6.5" height="6.2" fill="#e1e1ff"/>
<rect x="285.2" y="136.7" width="6.5" height="6.2" fill="#d7d7ff"/><rect x="291.3" y="136.7" width="6.5" height="6.2" fill="#d7d7ff"/><rect x="297.4" y="136.7" width="6.5" height="6.2" fill="#d7d7ff"/><rect x="303.5" y="136.7" width="6.5" height="6.2" fill="#d2d2ff"/><rect x="309.6" y="136.7" width="6.5" height="6.2" fill="#c7c7ff"/><rect x="315.7" y="136.7" width="6.5" height="6.2" fill="#bbbbff"/><rect x="321.8" y="136.7" width="6.5" height="6.2" fill="#afafff"/><rect x="327.9" y="136.7" width="6.5" height="6.2" fill="#afafff"/><rect x="333.9" y="136.7" width="6.5" height="6.2" fill="#bebeff"/><rect x="340.0" y="136.7" width="6.5" height="6.2" fill="#cbcbff"/><rect x="346.1" y="136.7" width="6.5" height="6.2" fill="#d5d5ff"/><rect x="352.2" y="136.7" width="6.5" height="6.2" fill="#e3e3ff"/><rect x="358.3" y="136.7" width="6.5" height="6.2" fill="#f4f4ff"/><rect x="364.4" y="136.7" width="6.5" height="6.2" fill="#f4f4ff"/><rect x="370.5" y="136.7" width="6.5" height="6.2" fill="#e4e4ff"/><rect x="376.6" y="136.7" width="6.5" height="6.2" fill="#dadaff"/><rect x="382.7" y="136.7" width="6.5" height="6.2" fill="#d6d6ff"/><rect x="388.8" y="136.7" width="6.5" height="6.2" fill="#e0e0ff"/><rect x="394.9" y="136.7" width="6.5" height="6.2" fill="#f8f8ff"/><rect x="400.9" y="136.7" width="6.5" height="6.2" fill="#fcfcff"/><rect x="407.0" y="136.7" width="6.5" height="6.2" fill="#ececff"/><rect x="413.1" y="136.7" width="6.5" height="6.2" fill="#e2e2ff"/><rect x="419.2" y="136.7" width="6.5" height="6.2" fill="#ddddff"/><rect x="425.3" y="136.7" width="6.5" height="6.2" fill="#dfdfff"/><rect x="431.4" y="136.7" width="6.5" height="6.2" fill="#e5e5ff"/><rect x="437.5" y="136.7" width="6.5" height="6.2" fill="#f2f2ff"/><rect x="443.6" y="136.7" width="6.5" height="6.2" fill="#fffafa"/><rect x="449.7" y="136.7" width="6.5" height="6.2" fill="#fff8f8"/><rect x="455.8" y="136.7" width="6.5" height="6.2" fill="#fafaff"/><rect x="461.8" y="136.7" width="6.5" height="6.2" fill="#f2f2ff"/><rect x="467.9" y="136.7" width="6.5" height="6.2" fill="#efefff"/><rect x="474.0" y="136.7" width="6.5" height="6.2" fill="#ebebff"/><rect x="480.1" y="136.7" width="6.5" height="6.2" fill="#e6e6ff"/><rect x="486.2" y="136.7" width="6.5" height="6.2" fill="#e4e4ff"/><rect x="492.3" y="136.7" width="6.5" height="6.2" fill="#e4e4ff"/><rect x="498.4" y="136.7" width="6.5" height="6.2" fill="#e4e4ff"/>
<rect x="285.2" y="142.5" width="6.5" height="6.2" fill="#dbdbff"/><rect x="291.3" y="142.5" width="6.5" height="6.2" fill="#dbdbff"/><rect x="297.4" y="142.5" width="6.5" height="6.2" fill="#dbdbff"/><rect x="303.5" y="142.5" width="6.5" height="6.2" fill="#d5d5ff"/><rect x="309.6" y="142.5" width="6.5" height="6.2" fill="#cbcbff"/><rect x="315.7" y="142.5" width="6.5" height="6.2" fill="#bdbdff"/><rect x="321.8" y="142.5" width="6.5" height="6.2" fill="#adadff"/><rect x="327.9" y="142.5" width="6.5" height="6.2" fill="#aaaaff"/><rect x="333.9" y="142.5" width="6.5" height="6.2" fill="#b5b5ff"/><rect x="340.0" y="142.5" width="6.5" height="6.2" fill="#bfbfff"/><rect x="346.1" y="142.5" width="6.5" height="6.2" fill="#c8c8ff"/><rect x="352.2" y="142.5" width="6.5" height="6.2" fill="#d7d7ff"/><rect x="358.3" y="142.5" width="6.5" height="6.2" fill="#ebebff"/><rect x="364.4" y="142.5" width="6.5" height="6.2" fill="#efefff"/><rect x="370.5" y="142.5" width="6.5" height="6.2" fill="#e1e1ff"/><rect x="376.6" y="142.5" width="6.5" height="6.2" fill="#d9d9ff"/><rect x="382.7" y="142.5" width="6.5" height="6.2" fill="#d5d5ff"/><rect x="388.8" y="142.5" width="6.5" height="6.2" fill="#dfdfff"/><rect x="394.9" y="142.5" width="6.5" height="6.2" fill="#f9f9ff"/><rect x="400.9" y="142.5" width="6.5" height="6.2" fill="#fffdfd"/><rect x="407.0" y="142.5" width="6.5" height="6.2" fill="#f8f8ff"/><rect x="413.1" y="142.5" width="6.5" height="6.2" fill="#eeeeff"/><rect x="419.2" y="142.5" width="6.5" height="6.2" fill="#e3e3ff"/><rect x="425.3" y="142.5" width="6.5" height="6.2" fill="#e1e1ff"/><rect x="431.4" y="142.5" width="6.5" height="6.2" fill="#e7e7ff"/><rect x="437.5" y="142.5" width="6.5" height="6.2" fill="#f2f2ff"/><rect x="443.6" y="142.5" width="6.5" height="6.2" fill="#fffbfb"/><rect x="449.7" y="142.5" width="6.5" height="6.2" fill="#fffdfd"/><rect x="455.8" y="142.5" width="6.5" height="6.2" fill="#ececff"/><rect x="461.8" y="142.5" width="6.5" height="6.2" fill="#e7e7ff"/><rect x="467.9" y="142.5" width="6.5" height="6.2" fill="#f0f0ff"/><rect x="474.0" y="142.5" width="6.5" height="6.2" fill="#f3f3ff"/><rect x="480.1" y="142.5" width="6.5" height="6.2" fill="#f0f0ff"/><rect x="486.2" y="142.5" width="6.5" height="6.2" fill="#efefff"/><rect x="492.3" y="142.5" width="6.5" height="6.2" fill="#efefff"/><rect x="498.4" y="142.5" width="6.5" height="6.2" fill="#efefff"/>
<rect x="285.2" y="148.3" width="6.5" height="6.2" fill="#dedeff"/><rect x="291.3" y="148.3" width="6.5" height="6.2" fill="#dedeff"/><rect x="297.4" y="148.3" width="6.5" height="6.2" fill="#dedeff"/><rect x="303.5" y="148.3" width="6.5" height="6.2" fill="#d9d9ff"/><rect x="309.6" y="148.3" width="6.5" height="6.2" fill="#d1d1ff"/><rect x="315.7" y="148.3" width="6.5" height="6.2" fill="#c3c3ff"/><rect x="321.8" y="148.3" width="6.5" height="6.2" fill="#afafff"/><rect x="327.9" y="148.3" width="6.5" height="6.2" fill="#a6a6ff"/><rect x="333.9" y="148.3" width="6.5" height="6.2" fill="#aaaaff"/><rect x="340.0" y="148.3" width="6.5" height="6.2" fill="#b2b2ff"/><rect x="346.1" y="148.3" width="6.5" height="6.2" fill="#bfbfff"/><rect x="352.2" y="148.3" width="6.5" height="6.2" fill="#ceceff"/><rect x="358.3" y="148.3" width="6.5" height="6.2" fill="#dedeff"/><rect x="364.4" y="148.3" width="6.5" height="6.2" fill="#e4e4ff"/><rect x="370.5" y="148.3" width="6.5" height="6.2" fill="#e0e0ff"/><rect x="376.6" y="148.3" width="6.5" height="6.2" fill="#dcdcff"/><rect x="382.7" y="148.3" width="6.5" height="6.2" fill="#d9d9ff"/><rect x="388.8" y="148.3" width="6.5" height="6.2" fill="#e0e0ff"/><rect x="394.9" y="148.3" width="6.5" height="6.2" fill="#f3f3ff"/><rect x="400.9" y="148.3" width="6.5" height="6.2" fill="#fffdfd"/><rect x="407.0" y="148.3" width="6.5" height="6.2" fill="#fff2f2"/><rect x="413.1" y="148.3" width="6.5" height="6.2" fill="#fffbfb"/><rect x="419.2" y="148.3" width="6.5" height="6.2" fill="#e8e8ff"/><rect x="425.3" y="148.3" width="6.5" height="6.2" fill="#ddddff"/><rect x="431.4" y="148.3" width="6.5" height="6.2" fill="#e1e1ff"/><rect x="437.5" y="148.3" width="6.5" height="6.2" fill="#e6e6ff"/><rect x="443.6" y="148.3" width="6.5" height="6.2" fill="#ebebff"/><rect x="449.7" y="148.3" width="6.5" height="6.2" fill="#e9e9ff"/><rect x="455.8" y="148.3" width="6.5" height="6.2" fill="#e1e1ff"/><rect x="461.8" y="148.3" width="6.5" height="6.2" fill="#e6e6ff"/><rect x="467.9" y="148.3" width="6.5" height="6.2" fill="#fafaff"/><rect x="474.0" y="148.3" width="6.5" height="6.2" fill="#fffbfb"/><rect x="480.1" y="148.3" width="6.5" height="6.2" fill="#fffcfc"/><rect x="486.2" y="148.3" width="6.5" height="6.2" fill="#fffcfc"/><rect x="492.3" y="148.3" width="6.5" height="6.2" fill="#fffcfc"/><rect x="498.4" y="148.3" width="6.5" height="6.2" fill="#fffcfc"/>
<rect x="285.2" y="154.2" width="6.5" height="6.2" fill="#e1e1ff"/><rect x="291.3" y="154.2" width="6.5" height="6.2" fill="#e1e1ff"/><rect x="297.4" y="154.2" width="6.5" height="6.2" fill="#e1e1ff"/><rect x="303.5" y="154.2" width="6.5" height="6.2" fill="#ddddff"/><rect x="309.6" y="154.2" width="6.5" height="6.2" fill="#d4d4ff"/><rect x="315.7" y="154.2" width="6.5" height="6.2" fill="#c5c5ff"/><rect x="321.8" y="154.2" width="6.5" height="6.2" fill="#adadff"/><rect x="327.9" y="154.2" width="6.5" height="6.2" fill="#a0a0ff"/><rect x="333.9" y="154.2" width="6.5" height="6.2" fill="#9e9eff"/><rect x="340.0" y="154.2" width="6.5" height="6.2" fill="#a5a5ff"/><rect x="346.1" y="154.2" width="6.5" height="6.2" fill="#b6b6ff"/><rect x="352.2" y="154.2" width="6.5" height="6.2" fill="#c6c6ff"/><rect x="358.3" y="154.2" width="6.5" height="6.2" fill="#d7d7ff"/><rect x="364.4" y="154.2" width="6.5" height="6.2" fill="#dfdfff"/><rect x="370.5" y="154.2" width="6.5" height="6.2" fill="#dfdfff"/><rect x="376.6" y="154.2" width="6.5" height="6.2" fill="#dedeff"/><rect x="382.7" y="154.2" width="6.5" height="6.2" fill="#dbdbff"/><rect x="388.8" y="154.2" width="6.5" height="6.2" fill="#e1e1ff"/><rect x="394.9" y="154.2" width="6.5" height="6.2" fill="#f0f0ff"/><rect x="400.9" y="154.2" width="6.5" height="6.2" fill="#ffffff"/><rect x="407.0" y="154.2" width="6.5" height="6.2" fill="#fff2f2"/><rect x="413.1" y="154.2" width="6.5" height="6.2" fill="#fffafa"/><rect x="419.2" y="154.2" width="6.5" height="6.2" fill="#e6e6ff"/><rect x="425.3" y="154.2" width="6.5" height="6.2" fill="#d8d8ff"/><rect x="431.4" y="154.2" width="6.5" height="6.2" fill="#dadaff"/><rect x="437.5" y="154.2" width="6.5" height="6.2" fill="#dcdcff"/><rect x="443.6" y="154.2" width="6.5" height="6.2" fill="#ddddff"/><rect x="449.7" y="154.2" width="6.5" height="6.2" fill="#ddddff"/><rect x="455.8" y="154.2" width="6.5" height="6.2" fill="#dadaff"/><rect x="461.8" y="154.2" width="6.5" height="6.2" fill="#e6e6ff"/><rect x="467.9" y="154.2" width="6.5" height="6.2" fill="#fffefe"/><rect x="474.0" y="154.2" width="6.5" height="6.2" fill="#fff0f0"/><rect x="480.1" y="154.2" width="6.5" height="6.2" fill="#ffeeee"/><rect x="486.2" y="154.2" width="6.5" height="6.2" fill="#ffeeee"/><rect x="492.3" y="154.2" width="6.5" height="6.2" fill="#ffeeee"/><rect x="498.4" y="154.2" width="6.5" height="6.2" fill="#ffeeee"/>
<rect x="285.2" y="160.0" width="6.5" height="6.2" fill="#e4e4ff"/><rect x="291.3" y="160.0" width="6.5" height="6.2" fill="#e4e4ff"/><rect x="297.4" y="160.0" width="6.5" height="6.2" fill="#e4e4ff"/><rect x="303.5" y="160.0" width="6.5" height="6.2" fill="#dfdfff"/><rect x="309.6" y="160.0" width="6.5" height="6.2" fill="#d5d5ff"/><rect x="315.7" y="160.0" width="6.5" height="6.2" fill="#c3c3ff"/><rect x="321.8" y="160.0" width="6.5" height="6.2" fill="#a7a7ff"/><rect x="327.9" y="160.0" width="6.5" height="6.2" fill="#9797ff"/><rect x="333.9" y="160.0" width="6.5" height="6.2" fill="#9191ff"/><rect x="340.0" y="160.0" width="6.5" height="6.2" fill="#9999ff"/><rect x="346.1" y="160.0" width="6.5" height="6.2" fill="#adadff"/><rect x="352.2" y="160.0" width="6.5" height="6.2" fill="#c1c1ff"/><rect x="358.3" y="160.0" width="6.5" height="6.2" fill="#d5d5ff"/><rect x="364.4" y="160.0" width="6.5" height="6.2" fill="#dfdfff"/><rect x="370.5" y="160.0" width="6.5" height="6.2" fill="#dfdfff"/><rect x="376.6" y="160.0" width="6.5" height="6.2" fill="#dedeff"/><rect x="382.7" y="160.0" width="6.5" height="6.2" fill="#dbdbff"/><rect x="388.8" y="160.0" width="6.5" height="6.2" fill="#e2e2ff"/><rect x="394.9" y="160.0" width="6.5" height="6.2" fill="#f3f3ff"/><rect x="400.9" y="160.0" width="6.5" height="6.2" fill="#fbfbff"/><rect x="407.0" y="160.0" width="6.5" height="6.2" fill="#fafaff"/><rect x="413.1" y="160.0" width="6.5" height="6.2" fill="#f0f0ff"/><rect x="419.2" y="160.0" width="6.5" height="6.2" fill="#ddddff"/><rect x="425.3" y="160.0" width="6.5" height="6.2" fill="#d3d3ff"/><rect x="431.4" y="160.0" width="6.5" height="6.2" fill="#d4d4ff"/><rect x="437.5" y="160.0" width="6.5" height="6.2" fill="#d6d6ff"/><rect x="443.6" y="160.0" width="6.5" height="6.2" fill="#d9d9ff"/><rect x="449.7" y="160.0" width="6.5" height="6.2" fill="#dadaff"/><rect x="455.8" y="160.0" width="6.5" height="6.2" fill="#dadaff"/><rect x="461.8" y="160.0" width="6.5" height="6.2" fill="#e7e7ff"/><rect x="467.9" y="160.0" width="6.5" height="6.2" fill="#fffafa"/><rect x="474.0" y="160.0" width="6.5" height="6.2" fill="#ffeaea"/><rect x="480.1" y="160.0" width="6.5" height="6.2" fill="#ffe6e6"/><rect x="486.2" y="160.0" width="6.5" height="6.2" fill="#ffe3e3"/><rect x="492.3" y="160.0" width="6.5" height="6.2" fill="#ffe3e3"/><rect x="498.4" y="160.0" width="6.5" height="6.2" fill="#ffe3e3"/>
<rect x="285.2" y="165.8" width="6.5" height="6.2" fill="#e5e5ff"/><rect x="291.3" y="165.8" width="6.5" height="6.2" fill="#e5e5ff"/><rect x="297.4" y="165.8" width="6.5" height="6.2" fill="#e5e5ff"/><rect x="303.5" y="165.8" width="6.5" height="6.2" fill="#e1e1ff"/><rect x="309.6" y="165.8" width="6.5" height="6.2" fill="#d8d8ff"/><rect x="315.7" y="165.8" width="6.5" height="6.2" fill="#c8c8ff"/><rect x="321.8" y="165.8" width="6.5" height="6.2" fill="#b0b0ff"/><rect x="327.9" y="165.8" width="6.5" height="6.2" fill="#a1a1ff"/><rect x="333.9" y="165.8" width="6.5" height="6.2" fill="#9999ff"/><rect x="340.0" y="165.8" width="6.5" height="6.2" fill="#9d9dff"/><rect x="346.1" y="165.8" width="6.5" height="6.2" fill="#acacff"/><rect x="352.2" y="165.8" width="6.5" height="6.2" fill="#bdbdff"/><rect x="358.3" y="165.8" width="6.5" height="6.2" fill="#d1d1ff"/><rect x="364.4" y="165.8" width="6.5" height="6.2" fill="#ddddff"/><rect x="370.5" y="165.8" width="6.5" height="6.2" fill="#dfdfff"/><rect x="376.6" y="165.8" width="6.5" height="6.2" fill="#e3e3ff"/><rect x="382.7" y="165.8" width="6.5" height="6.2" fill="#e7e7ff"/><rect x="388.8" y="165.8" width="6.5" height="6.2" fill="#f0f0ff"/><rect x="394.9" y="165.8" width="6.5" height="6.2" fill="#fefeff"/><rect x="400.9" y="165.8" width="6.5" height="6.2" fill="#fffcfc"/><rect x="407.0" y="165.8" width="6.5" height="6.2" fill="#fbfbff"/><rect x="413.1" y="165.8" width="6.5" height="6.2" fill="#efefff"/><rect x="419.2" y="165.8" width="6.5" height="6.2" fill="#ddddff"/><rect x="425.3" y="165.8" width="6.5" height="6.2" fill="#d4d4ff"/><rect x="431.4" y="165.8" width="6.5" height="6.2" fill="#d4d4ff"/><rect x="437.5" y="165.8" width="6.5" height="6.2" fill="#d6d6ff"/><rect x="443.6" y="165.8" width="6.5" height="6.2" fill="#dadaff"/><rect x="449.7" y="165.8" width="6.5" height="6.2" fill="#dcdcff"/><rect x="455.8" y="165.8" width="6.5" height="6.2" fill="#dbdbff"/><rect x="461.8" y="165.8" width="6.5" height="6.2" fill="#e8e8ff"/><rect x="467.9" y="165.8" width="6.5" height="6.2" fill="#fffdfd"/><rect x="474.0" y="165.8" width="6.5" height="6.2" fill="#ffecec"/><rect x="480.1" y="165.8" width="6.5" height="6.2" fill="#ffe4e4"/><rect x="486.2" y="165.8" width="6.5" height="6.2" fill="#ffe0e0"/><rect x="492.3" y="165.8" width="6.5" height="6.2" fill="#ffe0e0"/><rect x="498.4" y="165.8" width="6.5" height="6.2" fill="#ffe0e0"/>
<rect x="285.2" y="171.7" width="6.5" height="6.2" fill="#e5e5ff"/><rect x="291.3" y="171.7" width="6.5" height="6.2" fill="#e5e5ff"/><rect x="297.4" y="171.7" width="6.5" height="6.2" fill="#e5e5ff"/><rect x="303.5" y="171.7" width="6.5" height="6.2" fill="#e3e3ff"/><rect x="309.6" y="171.7" width="6.5" height="6.2" fill="#dedeff"/><rect x="315.7" y="171.7" width="6.5" height="6.2" fill="#d5d5ff"/><rect x="321.8" y="171.7" width="6.5" height="6.2" fill="#c8c8ff"/><rect x="327.9" y="171.7" width="6.5" height="6.2" fill="#bebeff"/><rect x="333.9" y="171.7" width="6.5" height="6.2" fill="#b7b7ff"/><rect x="340.0" y="171.7" width="6.5" height="6.2" fill="#b3b3ff"/><rect x="346.1" y="171.7" width="6.5" height="6.2" fill="#b3b3ff"/><rect x="352.2" y="171.7" width="6.5" height="6.2" fill="#bbbbff"/><rect x="358.3" y="171.7" width="6.5" height="6.2" fill="#ccccff"/><rect x="364.4" y="171.7" width="6.5" height="6.2" fill="#d8d8ff"/><rect x="370.5" y="171.7" width="6.5" height="6.2" fill="#e0e0ff"/><rect x="376.6" y="171.7" width="6.5" height="6.2" fill="#ededff"/><rect x="382.7" y="171.7" width="6.5" height="6.2" fill="#fffefe"/><rect x="388.8" y="171.7" width="6.5" height="6.2" fill="#fff1f1"/><rect x="394.9" y="171.7" width="6.5" height="6.2" fill="#ffeaea"/><rect x="400.9" y="171.7" width="6.5" height="6.2" fill="#ffeaea"/><rect x="407.0" y="171.7" width="6.5" height="6.2" fill="#fff1f1"/><rect x="413.1" y="171.7" width="6.5" height="6.2" fill="#ffffff"/><rect x="419.2" y="171.7" width="6.5" height="6.2" fill="#e7e7ff"/><rect x="425.3" y="171.7" width="6.5" height="6.2" fill="#dbdbff"/><rect x="431.4" y="171.7" width="6.5" height="6.2" fill="#dbdbff"/><rect x="437.5" y="171.7" width="6.5" height="6.2" fill="#ddddff"/><rect x="443.6" y="171.7" width="6.5" height="6.2" fill="#e0e0ff"/><rect x="449.7" y="171.7" width="6.5" height="6.2" fill="#e1e1ff"/><rect x="455.8" y="171.7" width="6.5" height="6.2" fill="#dfdfff"/><rect x="461.8" y="171.7" width="6.5" height="6.2" fill="#e7e7ff"/><rect x="467.9" y="171.7" width="6.5" height="6.2" fill="#f9f9ff"/><rect x="474.0" y="171.7" width="6.5" height="6.2" fill="#fff5f5"/><rect x="480.1" y="171.7" width="6.5" height="6.2" fill="#ffe9e9"/><rect x="486.2" y="171.7" width="6.5" height="6.2" fill="#ffe3e3"/><rect x="492.3" y="171.7" width="6.5" height="6.2" fill="#ffe3e3"/><rect x="498.4" y="171.7" width="6.5" height="6.2" fill="#ffe3e3"/>
<rect x="285.2" y="177.5" width="6.5" height="6.2" fill="#ededff"/><rect x="291.3" y="177.5" width="6.5" height="6.2" fill="#ededff"/><rect x="297.4" y="177.5" width="6.5" height="6.2" fill="#ededff"/><rect x="303.5" y="177.5" width="6.5" height="6.2" fill="#eaeaff"/><rect x="309.6" y="177.5" width="6.5" height="6.2" fill="#e5e5ff"/><rect x="315.7" y="177.5" width="6.5" height="6.2" fill="#dfdfff"/><rect x="321.8" y="177.5" width="6.5" height="6.2" fill="#d9d9ff"/><rect x="327.9" y="177.5" width="6.5" height="6.2" fill="#d2d2ff"/><rect x="333.9" y="177.5" width="6.5" height="6.2" fill="#ccccff"/><rect x="340.0" y="177.5" width="6.5" height="6.2" fill="#c5c5ff"/><rect x="346.1" y="177.5" width="6.5" height="6.2" fill="#bbbbff"/><rect x="352.2" y="177.5" width="6.5" height="6.2" fill="#bbbbff"/><rect x="358.3" y="177.5" width="6.5" height="6.2" fill="#c5c5ff"/><rect x="364.4" y="177.5" width="6.5" height="6.2" fill="#d0d0ff"/><rect x="370.5" y="177.5" width="6.5" height="6.2" fill="#ddddff"/><rect x="376.6" y="177.5" width="6.5" height="6.2" fill="#eeeeff"/><rect x="382.7" y="177.5" width="6.5" height="6.2" fill="#fffafa"/><rect x="388.8" y="177.5" width="6.5" height="6.2" fill="#ffeeee"/><rect x="394.9" y="177.5" width="6.5" height="6.2" fill="#ffeaea"/><rect x="400.9" y="177.5" width="6.5" height="6.2" fill="#ffe9e9"/><rect x="407.0" y="177.5" width="6.5" height="6.2" fill="#ffe9e9"/><rect x="413.1" y="177.5" width="6.5" height="6.2" fill="#fff3f3"/><rect x="419.2" y="177.5" width="6.5" height="6.2" fill="#f5f5ff"/><rect x="425.3" y="177.5" width="6.5" height="6.2" fill="#e8e8ff"/><rect x="431.4" y="177.5" width="6.5" height="6.2" fill="#e3e3ff"/><rect x="437.5" y="177.5" width="6.5" height="6.2" fill="#e4e4ff"/><rect x="443.6" y="177.5" width="6.5" height="6.2" fill="#ececff"/><rect x="449.7" y="177.5" width="6.5" height="6.2" fill="#e9e9ff"/><rect x="455.8" y="177.5" width="6.5" height="6.2" fill="#dedeff"/><rect x="461.8" y="177.5" width="6.5" height="6.2" fill="#dfdfff"/><rect x="467.9" y="177.5" width="6.5" height="6.2" fill="#eeeeff"/><rect x="474.0" y="177.5" width="6.5" height="6.2" fill="#fbfbff"/><rect x="480.1" y="177.5" width="6.5" height="6.2" fill="#fff7f7"/><rect x="486.2" y="177.5" width="6.5" height="6.2" fill="#fff1f1"/><rect x="492.3" y="177.5" width="6.5" height="6.2" fill="#fff1f1"/><rect x="498.4" y="177.5" width="6.5" height="6.2" fill="#fff1f1"/>
<rect x="285.2" y="183.3" width="6.5" height="6.2" fill="#fdfdff"/><rect x="291.3" y="183.3" width="6.5" height="6.2" fill="#fdfdff"/><rect x="297.4" y="183.3" width="6.5" height="6.2" fill="#fdfdff"/><rect x="303.5" y="183.3" width="6.5" height="6.2" fill="#f8f8ff"/><rect x="309.6" y="183.3" width="6.5" height="6.2" fill="#efefff"/><rect x="315.7" y="183.3" width="6.5" height="6.2" fill="#e8e8ff"/><rect x="321.8" y="183.3" width="6.5" height="6.2" fill="#e2e2ff"/><rect x="327.9" y="183.3" width="6.5" height="6.2" fill="#dedeff"/><rect x="333.9" y="183.3" width="6.5" height="6.2" fill="#dadaff"/><rect x="340.0" y="183.3" width="6.5" height="6.2" fill="#d1d1ff"/><rect x="346.1" y="183.3" width="6.5" height="6.2" fill="#c5c5ff"/><rect x="352.2" y="183.3" width="6.5" height="6.2" fill="#bdbdff"/><rect x="358.3" y="183.3" width="6.5" height="6.2" fill="#bbbbff"/><rect x="364.4" y="183.3" width="6.5" height="6.2" fill="#c4c4ff"/><rect x="370.5" y="183.3" width="6.5" height="6.2" fill="#d7d7ff"/><rect x="376.6" y="183.3" width="6.5" height="6.2" fill="#e7e7ff"/><rect x="382.7" y="183.3" width="6.5" height="6.2" fill="#f3f3ff"/><rect x="388.8" y="183.3" width="6.5" height="6.2" fill="#fbfbff"/><rect x="394.9" y="183.3" width="6.5" height="6.2" fill="#ffffff"/><rect x="400.9" y="183.3" width="6.5" height="6.2" fill="#fff7f7"/><rect x="407.0" y="183.3" width="6.5" height="6.2" fill="#ffecec"/><rect x="413.1" y="183.3" width="6.5" height="6.2" fill="#ffecec"/><rect x="419.2" y="183.3" width="6.5" height="6.2" fill="#fff8f8"/><rect x="425.3" y="183.3" width="6.5" height="6.2" fill="#f9f9ff"/><rect x="431.4" y="183.3" width="6.5" height="6.2" fill="#ebebff"/><rect x="437.5" y="183.3" width="6.5" height="6.2" fill="#ececff"/><rect x="443.6" y="183.3" width="6.5" height="6.2" fill="#fcfcff"/><rect x="449.7" y="183.3" width="6.5" height="6.2" fill="#f5f5ff"/><rect x="455.8" y="183.3" width="6.5" height="6.2" fill="#d8d8ff"/><rect x="461.8" y="183.3" width="6.5" height="6.2" fill="#d0d0ff"/><rect x="467.9" y="183.3" width="6.5" height="6.2" fill="#dfdfff"/><rect x="474.0" y="183.3" width="6.5" height="6.2" fill="#e9e9ff"/><rect x="480.1" y="183.3" width="6.5" height="6.2" fill="#efefff"/><rect x="486.2" y="183.3" width="6.5" height="6.2" fill="#f2f2ff"/><rect x="492.3" y="183.3" width="6.5" height="6.2" fill="#f2f2ff"/><rect x="498.4" y="183.3" width="6.5" height="6.2" fill="#f2f2ff"/>
<rect x="285.2" y="189.2" width="6.5" height="6.2" fill="#fff9f9"/><rect x="291.3" y="189.2" width="6.5" height="6.2" fill="#fff9f9"/><rect x="297.4" y="189.2" width="6.5" height="6.2" fill="#fff9f9"/><rect x="303.5" y="189.2" width="6.5" height="6.2" fill="#ffffff"/><rect x="309.6" y="189.2" width="6.5" height="6.2" fill="#f4f4ff"/><rect x="315.7" y="189.2" width="6.5" height="6.2" fill="#ececff"/><rect x="321.8" y="189.2" width="6.5" height="6.2" fill="#e7e7ff"/><rect x="327.9" y="189.2" width="6.5" height="6.2" fill="#e4e4ff"/><rect x="333.9" y="189.2" width="6.5" height="6.2" fill="#e1e1ff"/><rect x="340.0" y="189.2" width="6.5" height="6.2" fill="#d8d8ff"/><rect x="346.1" y="189.2" width="6.5" height="6.2" fill="#c9c9ff"/><rect x="352.2" y="189.2" width="6.5" height="6.2" fill="#bebeff"/><rect x="358.3" y="189.2" width="6.5" height="6.2" fill="#b7b7ff"/><rect x="364.4" y="189.2" width="6.5" height="6.2" fill="#bebeff"/><rect x="370.5" y="189.2" width="6.5" height="6.2" fill="#d4d4ff"/><rect x="376.6" y="189.2" width="6.5" height="6.2" fill="#e3e3ff"/><rect x="382.7" y="189.2" width="6.5" height="6.2" fill="#eaeaff"/><rect x="388.8" y="189.2" width="6.5" height="6.2" fill="#f0f0ff"/><rect x="394.9" y="189.2" width="6.5" height="6.2" fill="#f4f4ff"/><rect x="400.9" y="189.2" width="6.5" height="6.2" fill="#ffffff"/><rect x="407.0" y="189.2" width="6.5" height="6.2" fill="#ffeded"/><rect x="413.1" y="189.2" width="6.5" height="6.2" fill="#ffe8e8"/><rect x="419.2" y="189.2" width="6.5" height="6.2" fill="#ffefef"/><rect x="425.3" y="189.2" width="6.5" height="6.2" fill="#fffcfc"/><rect x="431.4" y="189.2" width="6.5" height="6.2" fill="#efefff"/><rect x="437.5" y="189.2" width="6.5" height="6.2" fill="#efefff"/><rect x="443.6" y="189.2" width="6.5" height="6.2" fill="#fffafa"/><rect x="449.7" y="189.2" width="6.5" height="6.2" fill="#fbfbff"/><rect x="455.8" y="189.2" width="6.5" height="6.2" fill="#d5d5ff"/><rect x="461.8" y="189.2" width="6.5" height="6.2" fill="#c9c9ff"/><rect x="467.9" y="189.2" width="6.5" height="6.2" fill="#d8d8ff"/><rect x="474.0" y="189.2" width="6.5" height="6.2" fill="#e1e1ff"/><rect x="480.1" y="189.2" width="6.5" height="6.2" fill="#e4e4ff"/><rect x="486.2" y="189.2" width="6.5" height="6.2" fill="#e5e5ff"/><rect x="492.3" y="189.2" width="6.5" height="6.2" fill="#e5e5ff"/><rect x="498.4" y="189.2" width="6.5" height="6.2" fill="#e5e5ff"/>
<rect x="285.2" y="195.0" width="6.5" height="6.2" fill="#fff9f9"/><rect x="291.3" y="195.0" width="6.5" height="6.2" fill="#fff9f9"/><rect x="297.4" y="195.0" width="6.5" height="6.2" fill="#fff9f9"/><rect x="303.5" y="195.0" width="6.5" height="6.2" fill="#ffffff"/><rect x="309.6" y="195.0" width="6.5" height="6.2" fill="#f4f4ff"/><rect x="315.7" y="195.0" width="6.5" height="6.2" fill="#ececff"/><rect x="321.8" y="195.0" width="6.5" height="6.2" fill="#e7e7ff"/><rect x="327.9" y="195.0" width="6.5" height="6.2" fill="#e4e4ff"/><rect x="333.9" y="195.0" width="6.5" height="6.2" fill="#e1e1ff"/><rect x="340.0" y="195.0" width="6.5" height="6.2" fill="#d8d8ff"/><rect x="346.1" y="195.0" width="6.5" height="6.2" fill="#c9c9ff"/><rect x="352.2" y="195.0" width="6.5" height="6.2" fill="#bebeff"/><rect x="358.3" y="195.0" width="6.5" height="6.2" fill="#b7b7ff"/><rect x="364.4" y="195.0" width="6.5" height="6.2" fill="#bebeff"/><rect x="370.5" y="195.0" width="6.5" height="6.2" fill="#d4d4ff"/><rect x="376.6" y="195.0" width="6.5" height="6.2" fill="#e3e3ff"/><rect x="382.7" y="195.0" width="6.5" height="6.2" fill="#eaeaff"/><rect x="388.8" y="195.0" width="6.5" height="6.2" fill="#f0f0ff"/><rect x="394.9" y="195.0" width="6.5" height="6.2" fill="#f4f4ff"/><rect x="400.9" y="195.0" width="6.5" height="6.2" fill="#ffffff"/><rect x="407.0" y="195.0" width="6.5" height="6.2" fill="#ffeded"/><rect x="413.1" y="195.0" width="6.5" height="6.2" fill="#ffe8e8"/><rect x="419.2" y="195.0" width="6.5" height="6.2" fill="#ffefef"/><rect x="425.3" y="195.0" width="6.5" height="6.2" fill="#fffcfc"/><rect x="431.4" y="195.0" width="6.5" height="6.2" fill="#efefff"/><rect x="437.5" y="195.0" width="6.5" height="6.2" fill="#efefff"/><rect x="443.6" y="195.0" width="6.5" height="6.2" fill="#fffafa"/><rect x="449.7" y="195.0" width="6.5" height="6.2" fill="#fbfbff"/><rect x="455.8" y="195.0" width="6.5" height="6.2" fill="#d5d5ff"/><rect x="461.8" y="195.0" width="6.5" height="6.2" fill="#c9c9ff"/><rect x="467.9" y="195.0" width="6.5" height="6.2" fill="#d8d8ff"/><rect x="474.0" y="195.0" width="6.5" height="6.2" fill="#e1e1ff"/><rect x="480.1" y="195.0" width="6.5" height="6.2" fill="#e4e4ff"/><rect x="486.2" y="195.0" width="6.5" height="6.2" fill="#e5e5ff"/><rect x="492.3" y="195.0" width="6.5" height="6.2" fill="#e5e5ff"/><rect x="498.4" y="195.0" width="6.5" height="6.2" fill="#e5e5ff"/>
<rect x="285.2" y="200.8" width="6.5" height="6.2" fill="#fff9f9"/><rect x="291.3" y="200.8" width="6.5" height="6.2" fill="#fff9f9"/><rect x="297.4" y="200.8" width="6.5" height="6.2" fill="#fff9f9"/><rect x="303.5" y="200.8" width="6.5" height="6.2" fill="#ffffff"/><rect x="309.6" y="200.8" width="6.5" height="6.2" fill="#f4f4ff"/><rect x="315.7" y="200.8" width="6.5" height="6.2" fill="#ececff"/><rect x="321.8" y="200.8" width="6.5" height="6.2" fill="#e7e7ff"/><rect x="327.9" y="200.8" width="6.5" height="6.2" fill="#e4e4ff"/><rect x="333.9" y="200.8" width="6.5" height="6.2" fill="#e1e1ff"/><rect x="340.0" y="200.8" width="6.5" height="6.2" fill="#d8d8ff"/><rect x="346.1" y="200.8" width="6.5" height="6.2" fill="#c9c9ff"/><rect x="352.2" y="200.8" width="6.5" height="6.2" fill="#bebeff"/><rect x="358.3" y="200.8" width="6.5" height="6.2" fill="#b7b7ff"/><rect x="364.4" y="200.8" width="6.5" height="6.2" fill="#bebeff"/><rect x="370.5" y="200.8" width="6.5" height="6.2" fill="#d4d4ff"/><rect x="376.6" y="200.8" width="6.5" height="6.2" fill="#e3e3ff"/><rect x="382.7" y="200.8" width="6.5" height="6.2" fill="#eaeaff"/><rect x="388.8" y="200.8" width="6.5" height="6.2" fill="#f0f0ff"/><rect x="394.9" y="200.8" width="6.5" height="6.2" fill="#f4f4ff"/><rect x="400.9" y="200.8" width="6.5" height="6.2" fill="#ffffff"/><rect x="407.0" y="200.8" width="6.5" height="6.2" fill="#ffeded"/><rect x="413.1" y="200.8" width="6.5" height="6.2" fill="#ffe8e8"/><rect x="419.2" y="200.8" width="6.5" height="6.2" fill="#ffefef"/><rect x="425.3" y="200.8" width="6.5" height="6.2" fill="#fffcfc"/><rect x="431.4" y="200.8" width="6.5" height="6.2" fill="#efefff"/><rect x="437.5" y="200.8" width="6.5" height="6.2" fill="#efefff"/><rect x="443.6" y="200.8" width="6.5" height="6.2" fill="#fffafa"/><rect x="449.7" y="200.8" width="6.5" height="6.2" fill="#fbfbff"/><rect x="455.8" y="200.8" width="6.5" height="6.2" fill="#d5d5ff"/><rect x="461.8" y="200.8" width="6.5" height="6.2" fill="#c9c9ff"/><rect x="467.9" y="200.8" width="6.5" height="6.2" fill="#d8d8ff"/><rect x="474.0" y="200.8" width="6.5" height="6.2" fill="#e1e1ff"/><rect x="480.1" y="200.8" width="6.5" height="6.2" fill="#e4e4ff"/><rect x="486.2" y="200.8" width="6.5" height="6.2" fill="#e5e5ff"/><rect x="492.3" y="200.8" width="6.5" height="6.2" fill="#e5e5ff"/><rect x="498.4" y="200.8" width="6.5" height="6.2" fill="#e5e5ff"/>
</g></g></g>
<defs><clipPath id="hd"><rect x="297.2" y="232.4" width="194.40" height="186.40"/></clipPath><filter id="fd" x="-30%" y="-30%" width="160%" height="160%" color-interpolation-filters="sRGB"><feGaussianBlur stdDeviation="4 1.8"/></filter></defs>
<g clip-path="url(#hd)"><g transform="rotate(38 394.4 325.6)" filter="url(#fd)"><g transform="rotate(-38 394.4 325.6)">
<rect x="285.1" y="220.8" width="6.5" height="6.2" fill="#ffebeb"/><rect x="291.1" y="220.8" width="6.5" height="6.2" fill="#ffebeb"/><rect x="297.2" y="220.8" width="6.5" height="6.2" fill="#ffebeb"/><rect x="303.3" y="220.8" width="6.5" height="6.2" fill="#ffebeb"/><rect x="309.3" y="220.8" width="6.5" height="6.2" fill="#ffebeb"/><rect x="315.4" y="220.8" width="6.5" height="6.2" fill="#fff0f0"/><rect x="321.5" y="220.8" width="6.5" height="6.2" fill="#fffafa"/><rect x="327.6" y="220.8" width="6.5" height="6.2" fill="#fafaff"/><rect x="333.6" y="220.8" width="6.5" height="6.2" fill="#f0f0ff"/><rect x="339.7" y="220.8" width="6.5" height="6.2" fill="#e6e6ff"/><rect x="345.8" y="220.8" width="6.5" height="6.2" fill="#dbdbff"/><rect x="351.9" y="220.8" width="6.5" height="6.2" fill="#dbdbff"/><rect x="357.9" y="220.8" width="6.5" height="6.2" fill="#e6e6ff"/><rect x="364.0" y="220.8" width="6.5" height="6.2" fill="#ebebff"/><rect x="370.1" y="220.8" width="6.5" height="6.2" fill="#ebebff"/><rect x="376.2" y="220.8" width="6.5" height="6.2" fill="#ebebff"/><rect x="382.2" y="220.8" width="6.5" height="6.2" fill="#ebebff"/><rect x="388.3" y="220.8" width="6.5" height="6.2" fill="#fafaff"/><rect x="394.4" y="220.8" width="6.5" height="6.2" fill="#ffe6e6"/><rect x="400.5" y="220.8" width="6.5" height="6.2" fill="#ffdbdb"/><rect x="406.6" y="220.8" width="6.5" height="6.2" fill="#ffe6e6"/><rect x="412.6" y="220.8" width="6.5" height="6.2" fill="#fff0f0"/><rect x="418.7" y="220.8" width="6.5" height="6.2" fill="#fffafa"/><rect x="424.8" y="220.8" width="6.5" height="6.2" fill="#fdfdff"/><rect x="430.9" y="220.8" width="6.5" height="6.2" fill="#f9f9ff"/><rect x="436.9" y="220.8" width="6.5" height="6.2" fill="#fefeff"/><rect x="443.0" y="220.8" width="6.5" height="6.2" fill="#fff2f2"/><rect x="449.1" y="220.8" width="6.5" height="6.2" fill="#fff0f0"/><rect x="455.1" y="220.8" width="6.5" height="6.2" fill="#fffafa"/><rect x="461.2" y="220.8" width="6.5" height="6.2" fill="#fffafa"/><rect x="467.3" y="220.8" width="6.5" height="6.2" fill="#fff0f0"/><rect x="473.4" y="220.8" width="6.5" height="6.2" fill="#ffebeb"/><rect x="479.5" y="220.8" width="6.5" height="6.2" fill="#ffebeb"/><rect x="485.5" y="220.8" width="6.5" height="6.2" fill="#ffebeb"/><rect x="491.6" y="220.8" width="6.5" height="6.2" fill="#ffebeb"/><rect x="497.7" y="220.8" width="6.5" height="6.2" fill="#ffebeb"/>
<rect x="285.1" y="226.6" width="6.5" height="6.2" fill="#ffebeb"/><rect x="291.1" y="226.6" width="6.5" height="6.2" fill="#ffebeb"/><rect x="297.2" y="226.6" width="6.5" height="6.2" fill="#ffebeb"/><rect x="303.3" y="226.6" width="6.5" height="6.2" fill="#ffebeb"/><rect x="309.3" y="226.6" width="6.5" height="6.2" fill="#ffebeb"/><rect x="315.4" y="226.6" width="6.5" height="6.2" fill="#fff0f0"/><rect x="321.5" y="226.6" width="6.5" height="6.2" fill="#fffafa"/><rect x="327.6" y="226.6" width="6.5" height="6.2" fill="#fafaff"/><rect x="333.6" y="226.6" width="6.5" height="6.2" fill="#f0f0ff"/><rect x="339.7" y="226.6" width="6.5" height="6.2" fill="#e6e6ff"/><rect x="345.8" y="226.6" width="6.5" height="6.2" fill="#dbdbff"/><rect x="351.9" y="226.6" width="6.5" height="6.2" fill="#dbdbff"/><rect x="357.9" y="226.6" width="6.5" height="6.2" fill="#e6e6ff"/><rect x="364.0" y="226.6" width="6.5" height="6.2" fill="#ebebff"/><rect x="370.1" y="226.6" width="6.5" height="6.2" fill="#ebebff"/><rect x="376.2" y="226.6" width="6.5" height="6.2" fill="#ebebff"/><rect x="382.2" y="226.6" width="6.5" height="6.2" fill="#ebebff"/><rect x="388.3" y="226.6" width="6.5" height="6.2" fill="#fafaff"/><rect x="394.4" y="226.6" width="6.5" height="6.2" fill="#ffe6e6"/><rect x="400.5" y="226.6" width="6.5" height="6.2" fill="#ffdbdb"/><rect x="406.6" y="226.6" width="6.5" height="6.2" fill="#ffe6e6"/><rect x="412.6" y="226.6" width="6.5" height="6.2" fill="#fff0f0"/><rect x="418.7" y="226.6" width="6.5" height="6.2" fill="#fffafa"/><rect x="424.8" y="226.6" width="6.5" height="6.2" fill="#fdfdff"/><rect x="430.9" y="226.6" width="6.5" height="6.2" fill="#f9f9ff"/><rect x="436.9" y="226.6" width="6.5" height="6.2" fill="#fefeff"/><rect x="443.0" y="226.6" width="6.5" height="6.2" fill="#fff2f2"/><rect x="449.1" y="226.6" width="6.5" height="6.2" fill="#fff0f0"/><rect x="455.1" y="226.6" width="6.5" height="6.2" fill="#fffafa"/><rect x="461.2" y="226.6" width="6.5" height="6.2" fill="#fffafa"/><rect x="467.3" y="226.6" width="6.5" height="6.2" fill="#fff0f0"/><rect x="473.4" y="226.6" width="6.5" height="6.2" fill="#ffebeb"/><rect x="479.5" y="226.6" width="6.5" height="6.2" fill="#ffebeb"/><rect x="485.5" y="226.6" width="6.5" height="6.2" fill="#ffebeb"/><rect x="491.6" y="226.6" width="6.5" height="6.2" fill="#ffebeb"/><rect x="497.7" y="226.6" width="6.5" height="6.2" fill="#ffebeb"/>
<rect x="285.1" y="232.4" width="6.5" height="6.2" fill="#ffebeb"/><rect x="291.1" y="232.4" width="6.5" height="6.2" fill="#ffebeb"/><rect x="297.2" y="232.4" width="6.5" height="6.2" fill="#ffebeb"/><rect x="303.3" y="232.4" width="6.5" height="6.2" fill="#ffebeb"/><rect x="309.3" y="232.4" width="6.5" height="6.2" fill="#ffebeb"/><rect x="315.4" y="232.4" width="6.5" height="6.2" fill="#fff0f0"/><rect x="321.5" y="232.4" width="6.5" height="6.2" fill="#fffafa"/><rect x="327.6" y="232.4" width="6.5" height="6.2" fill="#fafaff"/><rect x="333.6" y="232.4" width="6.5" height="6.2" fill="#f0f0ff"/><rect x="339.7" y="232.4" width="6.5" height="6.2" fill="#e6e6ff"/><rect x="345.8" y="232.4" width="6.5" height="6.2" fill="#dbdbff"/><rect x="351.9" y="232.4" width="6.5" height="6.2" fill="#dbdbff"/><rect x="357.9" y="232.4" width="6.5" height="6.2" fill="#e6e6ff"/><rect x="364.0" y="232.4" width="6.5" height="6.2" fill="#ebebff"/><rect x="370.1" y="232.4" width="6.5" height="6.2" fill="#ebebff"/><rect x="376.2" y="232.4" width="6.5" height="6.2" fill="#ebebff"/><rect x="382.2" y="232.4" width="6.5" height="6.2" fill="#ebebff"/><rect x="388.3" y="232.4" width="6.5" height="6.2" fill="#fafaff"/><rect x="394.4" y="232.4" width="6.5" height="6.2" fill="#ffe6e6"/><rect x="400.5" y="232.4" width="6.5" height="6.2" fill="#ffdbdb"/><rect x="406.6" y="232.4" width="6.5" height="6.2" fill="#ffe6e6"/><rect x="412.6" y="232.4" width="6.5" height="6.2" fill="#fff0f0"/><rect x="418.7" y="232.4" width="6.5" height="6.2" fill="#fffafa"/><rect x="424.8" y="232.4" width="6.5" height="6.2" fill="#fdfdff"/><rect x="430.9" y="232.4" width="6.5" height="6.2" fill="#f9f9ff"/><rect x="436.9" y="232.4" width="6.5" height="6.2" fill="#fefeff"/><rect x="443.0" y="232.4" width="6.5" height="6.2" fill="#fff2f2"/><rect x="449.1" y="232.4" width="6.5" height="6.2" fill="#fff0f0"/><rect x="455.1" y="232.4" width="6.5" height="6.2" fill="#fffafa"/><rect x="461.2" y="232.4" width="6.5" height="6.2" fill="#fffafa"/><rect x="467.3" y="232.4" width="6.5" height="6.2" fill="#fff0f0"/><rect x="473.4" y="232.4" width="6.5" height="6.2" fill="#ffebeb"/><rect x="479.5" y="232.4" width="6.5" height="6.2" fill="#ffebeb"/><rect x="485.5" y="232.4" width="6.5" height="6.2" fill="#ffebeb"/><rect x="491.6" y="232.4" width="6.5" height="6.2" fill="#ffebeb"/><rect x="497.7" y="232.4" width="6.5" height="6.2" fill="#ffebeb"/>
<rect x="285.1" y="238.2" width="6.5" height="6.2" fill="#ffebeb"/><rect x="291.1" y="238.2" width="6.5" height="6.2" fill="#ffebeb"/><rect x="297.2" y="238.2" width="6.5" height="6.2" fill="#ffebeb"/><rect x="303.3" y="238.2" width="6.5" height="6.2" fill="#ffeded"/><rect x="309.3" y="238.2" width="6.5" height="6.2" fill="#fff2f2"/><rect x="315.4" y="238.2" width="6.5" height="6.2" fill="#fff6f6"/><rect x="321.5" y="238.2" width="6.5" height="6.2" fill="#fff9f9"/><rect x="327.6" y="238.2" width="6.5" height="6.2" fill="#fffefe"/><rect x="333.6" y="238.2" width="6.5" height="6.2" fill="#f9f9ff"/><rect x="339.7" y="238.2" width="6.5" height="6.2" fill="#eeeeff"/><rect x="345.8" y="238.2" width="6.5" height="6.2" fill="#e2e2ff"/><rect x="351.9" y="238.2" width="6.5" height="6.2" fill="#dfdfff"/><rect x="357.9" y="238.2" width="6.5" height="6.2" fill="#e7e7ff"/><rect x="364.0" y="238.2" width="6.5" height="6.2" fill="#ededff"/><rect x="370.1" y="238.2" width="6.5" height="6.2" fill="#f2f2ff"/><rect x="376.2" y="238.2" width="6.5" height="6.2" fill="#f2f2ff"/><rect x="382.2" y="238.2" width="6.5" height="6.2" fill="#ededff"/><rect x="388.3" y="238.2" width="6.5" height="6.2" fill="#f6f6ff"/><rect x="394.4" y="238.2" width="6.5" height="6.2" fill="#fff1f1"/><rect x="400.5" y="238.2" width="6.5" height="6.2" fill="#ffecec"/><rect x="406.6" y="238.2" width="6.5" height="6.2" fill="#fff9f9"/><rect x="412.6" y="238.2" width="6.5" height="6.2" fill="#fafaff"/><rect x="418.7" y="238.2" width="6.5" height="6.2" fill="#f0f0ff"/><rect x="424.8" y="238.2" width="6.5" height="6.2" fill="#ececff"/><rect x="430.9" y="238.2" width="6.5" height="6.2" fill="#eeeeff"/><rect x="436.9" y="238.2" width="6.5" height="6.2" fill="#f7f7ff"/><rect x="443.0" y="238.2" width="6.5" height="6.2" fill="#fff8f8"/><rect x="449.1" y="238.2" width="6.5" height="6.2" fill="#fff4f4"/><rect x="455.1" y="238.2" width="6.5" height="6.2" fill="#fffbfb"/><rect x="461.2" y="238.2" width="6.5" height="6.2" fill="#fff9f9"/><rect x="467.3" y="238.2" width="6.5" height="6.2" fill="#ffeded"/><rect x="473.4" y="238.2" width="6.5" height="6.2" fill="#ffe8e8"/><rect x="479.5" y="238.2" width="6.5" height="6.2" fill="#ffeaea"/><rect x="485.5" y="238.2" width="6.5" height="6.2" fill="#ffebeb"/><rect x="491.6" y="238.2" width="6.5" height="6.2" fill="#ffebeb"/><rect x="497.7" y="238.2" width="6.5" height="6.2" fill="#ffebeb"/>
<rect x="285.1" y="244.1" width="6.5" height="6.2" fill="#ffebeb"/><rect x="291.1" y="244.1" width="6.5" height="6.2" fill="#ffebeb"/><rect x="297.2" y="244.1" width="6.5" height="6.2" fill="#ffebeb"/><rect x="303.3" y="244.1" width="6.5" height="6.2" fill="#fff2f2"/><rect x="309.3" y="244.1" width="6.5" height="6.2" fill="#fcfcff"/><rect x="315.4" y="244.1" width="6.5" height="6.2" fill="#fbfbff"/><rect x="321.5" y="244.1" width="6.5" height="6.2" fill="#fff6f6"/><rect x="327.6" y="244.1" width="6.5" height="6.2" fill="#fff1f1"/><rect x="333.6" y="244.1" width="6.5" height="6.2" fill="#fff4f4"/><rect x="339.7" y="244.1" width="6.5" height="6.2" fill="#fffefe"/><rect x="345.8" y="244.1" width="6.5" height="6.2" fill="#eeeeff"/><rect x="351.9" y="244.1" width="6.5" height="6.2" fill="#e7e7ff"/><rect x="357.9" y="244.1" width="6.5" height="6.2" fill="#e9e9ff"/><rect x="364.0" y="244.1" width="6.5" height="6.2" fill="#f2f2ff"/><rect x="370.1" y="244.1" width="6.5" height="6.2" fill="#fffcfc"/><rect x="376.2" y="244.1" width="6.5" height="6.2" fill="#fffcfc"/><rect x="382.2" y="244.1" width="6.5" height="6.2" fill="#f2f2ff"/><rect x="388.3" y="244.1" width="6.5" height="6.2" fill="#eeeeff"/><rect x="394.4" y="244.1" width="6.5" height="6.2" fill="#f6f6ff"/><rect x="400.5" y="244.1" width="6.5" height="6.2" fill="#f1f1ff"/><rect x="406.6" y="244.1" width="6.5" height="6.2" fill="#dfdfff"/><rect x="412.6" y="244.1" width="6.5" height="6.2" fill="#d1d1ff"/><rect x="418.7" y="244.1" width="6.5" height="6.2" fill="#c7c7ff"/><rect x="424.8" y="244.1" width="6.5" height="6.2" fill="#c9c9ff"/><rect x="430.9" y="244.1" width="6.5" height="6.2" fill="#d7d7ff"/><rect x="436.9" y="244.1" width="6.5" height="6.2" fill="#e8e8ff"/><rect x="443.0" y="244.1" width="6.5" height="6.2" fill="#fbfbff"/><rect x="449.1" y="244.1" width="6.5" height="6.2" fill="#fffbfb"/><rect x="455.1" y="244.1" width="6.5" height="6.2" fill="#fffefe"/><rect x="461.2" y="244.1" width="6.5" height="6.2" fill="#fff8f8"/><rect x="467.3" y="244.1" width="6.5" height="6.2" fill="#ffe9e9"/><rect x="473.4" y="244.1" width="6.5" height="6.2" fill="#ffe4e4"/><rect x="479.5" y="244.1" width="6.5" height="6.2" fill="#ffe8e8"/><rect x="485.5" y="244.1" width="6.5" height="6.2" fill="#ffebeb"/><rect x="491.6" y="244.1" width="6.5" height="6.2" fill="#ffebeb"/><rect x="497.7" y="244.1" width="6.5" height="6.2" fill="#ffebeb"/>
<rect x="285.1" y="249.9" width="6.5" height="6.2" fill="#ffe6e6"/><rect x="291.1" y="249.9" width="6.5" height="6.2" fill="#ffe6e6"/><rect x="297.2" y="249.9" width="6.5" height="6.2" fill="#ffe6e6"/><rect x="303.3" y="249.9" width="6.5" height="6.2" fill="#fff1f1"/><rect x="309.3" y="249.9" width="6.5" height="6.2" fill="#f6f6ff"/><rect x="315.4" y="249.9" width="6.5" height="6.2" fill="#f6f6ff"/><rect x="321.5" y="249.9" width="6.5" height="6.2" fill="#fff1f1"/><rect x="327.6" y="249.9" width="6.5" height="6.2" fill="#ffe4e4"/><rect x="333.6" y="249.9" width="6.5" height="6.2" fill="#ffe2e2"/><rect x="339.7" y="249.9" width="6.5" height="6.2" fill="#ffebeb"/><rect x="345.8" y="249.9" width="6.5" height="6.2" fill="#ffffff"/><rect x="351.9" y="249.9" width="6.5" height="6.2" fill="#f5f5ff"/><rect x="357.9" y="249.9" width="6.5" height="6.2" fill="#f5f5ff"/><rect x="364.0" y="249.9" width="6.5" height="6.2" fill="#ffffff"/><rect x="370.1" y="249.9" width="6.5" height="6.2" fill="#ffebeb"/><rect x="376.2" y="249.9" width="6.5" height="6.2" fill="#ffeeee"/><rect x="382.2" y="249.9" width="6.5" height="6.2" fill="#f4f4ff"/><rect x="388.3" y="249.9" width="6.5" height="6.2" fill="#e7e7ff"/><rect x="394.4" y="249.9" width="6.5" height="6.2" fill="#e9e9ff"/><rect x="400.5" y="249.9" width="6.5" height="6.2" fill="#e2e2ff"/><rect x="406.6" y="249.9" width="6.5" height="6.2" fill="#d0d0ff"/><rect x="412.6" y="249.9" width="6.5" height="6.2" fill="#c3c3ff"/><rect x="418.7" y="249.9" width="6.5" height="6.2" fill="#babaff"/><rect x="424.8" y="249.9" width="6.5" height="6.2" fill="#bebeff"/><rect x="430.9" y="249.9" width="6.5" height="6.2" fill="#d0d0ff"/><rect x="436.9" y="249.9" width="6.5" height="6.2" fill="#e2e2ff"/><rect x="443.0" y="249.9" width="6.5" height="6.2" fill="#f5f5ff"/><rect x="449.1" y="249.9" width="6.5" height="6.2" fill="#fffefe"/><rect x="455.1" y="249.9" width="6.5" height="6.2" fill="#fffbfb"/><rect x="461.2" y="249.9" width="6.5" height="6.2" fill="#fff4f4"/><rect x="467.3" y="249.9" width="6.5" height="6.2" fill="#ffe8e8"/><rect x="473.4" y="249.9" width="6.5" height="6.2" fill="#ffe6e6"/><rect x="479.5" y="249.9" width="6.5" height="6.2" fill="#ffeeee"/><rect x="485.5" y="249.9" width="6.5" height="6.2" fill="#fff2f2"/><rect x="491.6" y="249.9" width="6.5" height="6.2" fill="#fff2f2"/><rect x="497.7" y="249.9" width="6.5" height="6.2" fill="#fff2f2"/>
<rect x="285.1" y="255.7" width="6.5" height="6.2" fill="#ffdbdb"/><rect x="291.1" y="255.7" width="6.5" height="6.2" fill="#ffdbdb"/><rect x="297.2" y="255.7" width="6.5" height="6.2" fill="#ffdbdb"/><rect x="303.3" y="255.7" width="6.5" height="6.2" fill="#ffe9e9"/><rect x="309.3" y="255.7" width="6.5" height="6.2" fill="#f9f9ff"/><rect x="315.4" y="255.7" width="6.5" height="6.2" fill="#f9f9ff"/><rect x="321.5" y="255.7" width="6.5" height="6.2" fill="#ffe9e9"/><rect x="327.6" y="255.7" width="6.5" height="6.2" fill="#ffd7d7"/><rect x="333.6" y="255.7" width="6.5" height="6.2" fill="#ffd0d0"/><rect x="339.7" y="255.7" width="6.5" height="6.2" fill="#ffd6d6"/><rect x="345.8" y="255.7" width="6.5" height="6.2" fill="#ffebeb"/><rect x="351.9" y="255.7" width="6.5" height="6.2" fill="#fff5f5"/><rect x="357.9" y="255.7" width="6.5" height="6.2" fill="#fff5f5"/><rect x="364.0" y="255.7" width="6.5" height="6.2" fill="#ffebeb"/><rect x="370.1" y="255.7" width="6.5" height="6.2" fill="#ffd6d6"/><rect x="376.2" y="255.7" width="6.5" height="6.2" fill="#ffe2e2"/><rect x="382.2" y="255.7" width="6.5" height="6.2" fill="#f1f1ff"/><rect x="388.3" y="255.7" width="6.5" height="6.2" fill="#dfdfff"/><rect x="394.4" y="255.7" width="6.5" height="6.2" fill="#e7e7ff"/><rect x="400.5" y="255.7" width="6.5" height="6.2" fill="#e4e4ff"/><rect x="406.6" y="255.7" width="6.5" height="6.2" fill="#d7d7ff"/><rect x="412.6" y="255.7" width="6.5" height="6.2" fill="#ceceff"/><rect x="418.7" y="255.7" width="6.5" height="6.2" fill="#c9c9ff"/><rect x="424.8" y="255.7" width="6.5" height="6.2" fill="#cbcbff"/><rect x="430.9" y="255.7" width="6.5" height="6.2" fill="#d7d7ff"/><rect x="436.9" y="255.7" width="6.5" height="6.2" fill="#e5e5ff"/><rect x="443.0" y="255.7" width="6.5" height="6.2" fill="#f6f6ff"/><rect x="449.1" y="255.7" width="6.5" height="6.2" fill="#fffbfb"/><rect x="455.1" y="255.7" width="6.5" height="6.2" fill="#fff4f4"/><rect x="461.2" y="255.7" width="6.5" height="6.2" fill="#ffeeee"/><rect x="467.3" y="255.7" width="6.5" height="6.2" fill="#ffeaea"/><rect x="473.4" y="255.7" width="6.5" height="6.2" fill="#ffeeee"/><rect x="479.5" y="255.7" width="6.5" height="6.2" fill="#fffafa"/><rect x="485.5" y="255.7" width="6.5" height="6.2" fill="#fefeff"/><rect x="491.6" y="255.7" width="6.5" height="6.2" fill="#fefeff"/><rect x="497.7" y="255.7" width="6.5" height="6.2" fill="#fefeff"/>
<rect x="285.1" y="261.5" width="6.5" height="6.2" fill="#fff0f0"/><rect x="291.1" y="261.5" width="6.5" height="6.2" fill="#fff0f0"/><rect x="297.2" y="261.5" width="6.5" height="6.2" fill="#fff0f0"/><rect x="303.3" y="261.5" width="6.5" height="6.2" fill="#fff9f9"/><rect x="309.3" y="261.5" width="6.5" height="6.2" fill="#f4f4ff"/><rect x="315.4" y="261.5" width="6.5" height="6.2" fill="#fafaff"/><rect x="321.5" y="261.5" width="6.5" height="6.2" fill="#ffe5e5"/><rect x="327.6" y="261.5" width="6.5" height="6.2" fill="#ffd0d0"/><rect x="333.6" y="261.5" width="6.5" height="6.2" fill="#ffc3c3"/><rect x="339.7" y="261.5" width="6.5" height="6.2" fill="#ffc8c8"/><rect x="345.8" y="261.5" width="6.5" height="6.2" fill="#ffdfdf"/><rect x="351.9" y="261.5" width="6.5" height="6.2" fill="#ffeded"/><rect x="357.9" y="261.5" width="6.5" height="6.2" fill="#fff2f2"/><rect x="364.0" y="261.5" width="6.5" height="6.2" fill="#ffebeb"/><rect x="370.1" y="261.5" width="6.5" height="6.2" fill="#ffd6d6"/><rect x="376.2" y="261.5" width="6.5" height="6.2" fill="#ffe3e3"/><rect x="382.2" y="261.5" width="6.5" height="6.2" fill="#ececff"/><rect x="388.3" y="261.5" width="6.5" height="6.2" fill="#dadaff"/><rect x="394.4" y="261.5" width="6.5" height="6.2" fill="#e5e5ff"/><rect x="400.5" y="261.5" width="6.5" height="6.2" fill="#ebebff"/><rect x="406.6" y="261.5" width="6.5" height="6.2" fill="#ececff"/><rect x="412.6" y="261.5" width="6.5" height="6.2" fill="#e7e7ff"/><rect x="418.7" y="261.5" width="6.5" height="6.2" fill="#dbdbff"/><rect x="424.8" y="261.5" width="6.5" height="6.2" fill="#d8d8ff"/><rect x="430.9" y="261.5" width="6.5" height="6.2" fill="#dedeff"/><rect x="436.9" y="261.5" width="6.5" height="6.2" fill="#e9e9ff"/><rect x="443.0" y="261.5" width="6.5" height="6.2" fill="#f8f8ff"/><rect x="449.1" y="261.5" width="6.5" height="6.2" fill="#fffafa"/><rect x="455.1" y="261.5" width="6.5" height="6.2" fill="#fff1f1"/><rect x="461.2" y="261.5" width="6.5" height="6.2" fill="#ffeded"/><rect x="467.3" y="261.5" width="6.5" height="6.2" fill="#ffefef"/><rect x="473.4" y="261.5" width="6.5" height="6.2" fill="#fff6f6"/><rect x="479.5" y="261.5" width="6.5" height="6.2" fill="#fafaff"/><rect x="485.5" y="261.5" width="6.5" height="6.2" fill="#f4f4ff"/><rect x="491.6" y="261.5" width="6.5" height="6.2" fill="#f4f4ff"/><rect x="497.7" y="261.5" width="6.5" height="6.2" fill="#f4f4ff"/>
<rect x="285.1" y="267.4" width="6.5" height="6.2" fill="#dbdbff"/><rect x="291.1" y="267.4" width="6.5" height="6.2" fill="#dbdbff"/><rect x="297.2" y="267.4" width="6.5" height="6.2" fill="#dbdbff"/><rect x="303.3" y="267.4" width="6.5" height="6.2" fill="#dfdfff"/><rect x="309.3" y="267.4" width="6.5" height="6.2" fill="#e7e7ff"/><rect x="315.4" y="267.4" width="6.5" height="6.2" fill="#fafaff"/><rect x="321.5" y="267.4" width="6.5" height="6.2" fill="#ffe5e5"/><rect x="327.6" y="267.4" width="6.5" height="6.2" fill="#ffcdcd"/><rect x="333.6" y="267.4" width="6.5" height="6.2" fill="#ffbbbb"/><rect x="339.7" y="267.4" width="6.5" height="6.2" fill="#ffc1c1"/><rect x="345.8" y="267.4" width="6.5" height="6.2" fill="#ffdddd"/><rect x="351.9" y="267.4" width="6.5" height="6.2" fill="#fff2f2"/><rect x="357.9" y="267.4" width="6.5" height="6.2" fill="#fcfcff"/><rect x="364.0" y="267.4" width="6.5" height="6.2" fill="#ffffff"/><rect x="370.1" y="267.4" width="6.5" height="6.2" fill="#ffebeb"/><rect x="376.2" y="267.4" width="6.5" height="6.2" fill="#fff4f4"/><rect x="382.2" y="267.4" width="6.5" height="6.2" fill="#e3e3ff"/><rect x="388.3" y="267.4" width="6.5" height="6.2" fill="#d7d7ff"/><rect x="394.4" y="267.4" width="6.5" height="6.2" fill="#e4e4ff"/><rect x="400.5" y="267.4" width="6.5" height="6.2" fill="#f6f6ff"/><rect x="406.6" y="267.4" width="6.5" height="6.2" fill="#fff0f0"/><rect x="412.6" y="267.4" width="6.5" height="6.2" fill="#fff2f2"/><rect x="418.7" y="267.4" width="6.5" height="6.2" fill="#f1f1ff"/><rect x="424.8" y="267.4" width="6.5" height="6.2" fill="#e4e4ff"/><rect x="430.9" y="267.4" width="6.5" height="6.2" fill="#e7e7ff"/><rect x="436.9" y="267.4" width="6.5" height="6.2" fill="#ededff"/><rect x="443.0" y="267.4" width="6.5" height="6.2" fill="#f9f9ff"/><rect x="449.1" y="267.4" width="6.5" height="6.2" fill="#fffbfb"/><rect x="455.1" y="267.4" width="6.5" height="6.2" fill="#fff4f4"/><rect x="461.2" y="267.4" width="6.5" height="6.2" fill="#fff3f3"/><rect x="467.3" y="267.4" width="6.5" height="6.2" fill="#fff8f8"/><rect x="473.4" y="267.4" width="6.5" height="6.2" fill="#fefeff"/><rect x="479.5" y="267.4" width="6.5" height="6.2" fill="#f3f3ff"/><rect x="485.5" y="267.4" width="6.5" height="6.2" fill="#eeeeff"/><rect x="491.6" y="267.4" width="6.5" height="6.2" fill="#eeeeff"/><rect x="497.7" y="267.4" width="6.5" height="6.2" fill="#eeeeff"/>
<rect x="285.1" y="273.2" width="6.5" height="6.2" fill="#ccccff"/><rect x="291.1" y="273.2" width="6.5" height="6.2" fill="#ccccff"/><rect x="297.2" y="273.2" width="6.5" height="6.2" fill="#ccccff"/><rect x="303.3" y="273.2" width="6.5" height="6.2" fill="#d6d6ff"/><rect x="309.3" y="273.2" width="6.5" height="6.2" fill="#ebebff"/><rect x="315.4" y="273.2" width="6.5" height="6.2" fill="#fffcfc"/><rect x="321.5" y="273.2" width="6.5" height="6.2" fill="#ffe3e3"/><rect x="327.6" y="273.2" width="6.5" height="6.2" fill="#ffd1d1"/><rect x="333.6" y="273.2" width="6.5" height="6.2" fill="#ffc7c7"/><rect x="339.7" y="273.2" width="6.5" height="6.2" fill="#ffcfcf"/><rect x="345.8" y="273.2" width="6.5" height="6.2" fill="#ffeaea"/><rect x="351.9" y="273.2" width="6.5" height="6.2" fill="#ffffff"/><rect x="357.9" y="273.2" width="6.5" height="6.2" fill="#f1f1ff"/><rect x="364.0" y="273.2" width="6.5" height="6.2" fill="#f4f4ff"/><rect x="370.1" y="273.2" width="6.5" height="6.2" fill="#fff9f9"/><rect x="376.2" y="273.2" width="6.5" height="6.2" fill="#fffefe"/><rect x="382.2" y="273.2" width="6.5" height="6.2" fill="#e3e3ff"/><rect x="388.3" y="273.2" width="6.5" height="6.2" fill="#dbdbff"/><rect x="394.4" y="273.2" width="6.5" height="6.2" fill="#e5e5ff"/><rect x="400.5" y="273.2" width="6.5" height="6.2" fill="#fbfbff"/><rect x="406.6" y="273.2" width="6.5" height="6.2" fill="#ffe2e2"/><rect x="412.6" y="273.2" width="6.5" height="6.2" fill="#ffe1e1"/><rect x="418.7" y="273.2" width="6.5" height="6.2" fill="#ffffff"/><rect x="424.8" y="273.2" width="6.5" height="6.2" fill="#efefff"/><rect x="430.9" y="273.2" width="6.5" height="6.2" fill="#eeeeff"/><rect x="436.9" y="273.2" width="6.5" height="6.2" fill="#f4f4ff"/><rect x="443.0" y="273.2" width="6.5" height="6.2" fill="#fffdfd"/><rect x="449.1" y="273.2" width="6.5" height="6.2" fill="#fff8f8"/><rect x="455.1" y="273.2" width="6.5" height="6.2" fill="#fffafa"/><rect x="461.2" y="273.2" width="6.5" height="6.2" fill="#fffefe"/><rect x="467.3" y="273.2" width="6.5" height="6.2" fill="#fafaff"/><rect x="473.4" y="273.2" width="6.5" height="6.2" fill="#f4f4ff"/><rect x="479.5" y="273.2" width="6.5" height="6.2" fill="#eeeeff"/><rect x="485.5" y="273.2" width="6.5" height="6.2" fill="#ebebff"/><rect x="491.6" y="273.2" width="6.5" height="6.2" fill="#ebebff"/><rect x="497.7" y="273.2" width="6.5" height="6.2" fill="#ebebff"/>
<rect x="285.1" y="279.0" width="6.5" height="6.2" fill="#e0e0ff"/><rect x="291.1" y="279.0" width="6.5" height="6.2" fill="#e0e0ff"/><rect x="297.2" y="279.0" width="6.5" height="6.2" fill="#e0e0ff"/><rect x="303.3" y="279.0" width="6.5" height="6.2" fill="#ebebff"/><rect x="309.3" y="279.0" width="6.5" height="6.2" fill="#ffffff"/><rect x="315.4" y="279.0" width="6.5" height="6.2" fill="#ffeded"/><rect x="321.5" y="279.0" width="6.5" height="6.2" fill="#ffdede"/><rect x="327.6" y="279.0" width="6.5" height="6.2" fill="#ffdbdb"/><rect x="333.6" y="279.0" width="6.5" height="6.2" fill="#ffe6e6"/><rect x="339.7" y="279.0" width="6.5" height="6.2" fill="#fff5f5"/><rect x="345.8" y="279.0" width="6.5" height="6.2" fill="#f6f6ff"/><rect x="351.9" y="279.0" width="6.5" height="6.2" fill="#ebebff"/><rect x="357.9" y="279.0" width="6.5" height="6.2" fill="#ebebff"/><rect x="364.0" y="279.0" width="6.5" height="6.2" fill="#f1f1ff"/><rect x="370.1" y="279.0" width="6.5" height="6.2" fill="#fefeff"/><rect x="376.2" y="279.0" width="6.5" height="6.2" fill="#fcfcff"/><rect x="382.2" y="279.0" width="6.5" height="6.2" fill="#ececff"/><rect x="388.3" y="279.0" width="6.5" height="6.2" fill="#e5e5ff"/><rect x="394.4" y="279.0" width="6.5" height="6.2" fill="#e9e9ff"/><rect x="400.5" y="279.0" width="6.5" height="6.2" fill="#f9f9ff"/><rect x="406.6" y="279.0" width="6.5" height="6.2" fill="#ffe9e9"/><rect x="412.6" y="279.0" width="6.5" height="6.2" fill="#ffe5e5"/><rect x="418.7" y="279.0" width="6.5" height="6.2" fill="#fffafa"/><rect x="424.8" y="279.0" width="6.5" height="6.2" fill="#f8f8ff"/><rect x="430.9" y="279.0" width="6.5" height="6.2" fill="#f5f5ff"/><rect x="436.9" y="279.0" width="6.5" height="6.2" fill="#fdfdff"/><rect x="443.0" y="279.0" width="6.5" height="6.2" fill="#ffefef"/><rect x="449.1" y="279.0" width="6.5" height="6.2" fill="#fff0f0"/><rect x="455.1" y="279.0" width="6.5" height="6.2" fill="#fcfcff"/><rect x="461.2" y="279.0" width="6.5" height="6.2" fill="#f0f0ff"/><rect x="467.3" y="279.0" width="6.5" height="6.2" fill="#eaeaff"/><rect x="473.4" y="279.0" width="6.5" height="6.2" fill="#e8e8ff"/><rect x="479.5" y="279.0" width="6.5" height="6.2" fill="#eaeaff"/><rect x="485.5" y="279.0" width="6.5" height="6.2" fill="#ebebff"/><rect x="491.6" y="279.0" width="6.5" height="6.2" fill="#ebebff"/><rect x="497.7" y="279.0" width="6.5" height="6.2" fill="#ebebff"/>
<rect x="285.1" y="284.8" width="6.5" height="6.2" fill="#f5f5ff"/><rect x="291.1" y="284.8" width="6.5" height="6.2" fill="#f5f5ff"/><rect x="297.2" y="284.8" width="6.5" height="6.2" fill="#f5f5ff"/><rect x="303.3" y="284.8" width="6.5" height="6.2" fill="#fffefe"/><rect x="309.3" y="284.8" width="6.5" height="6.2" fill="#ffe7e7"/><rect x="315.4" y="284.8" width="6.5" height="6.2" fill="#ffd7d7"/><rect x="321.5" y="284.8" width="6.5" height="6.2" fill="#ffd0d0"/><rect x="327.6" y="284.8" width="6.5" height="6.2" fill="#ffd7d7"/><rect x="333.6" y="284.8" width="6.5" height="6.2" fill="#ffeeee"/><rect x="339.7" y="284.8" width="6.5" height="6.2" fill="#fafaff"/><rect x="345.8" y="284.8" width="6.5" height="6.2" fill="#e6e6ff"/><rect x="351.9" y="284.8" width="6.5" height="6.2" fill="#dfdfff"/><rect x="357.9" y="284.8" width="6.5" height="6.2" fill="#e5e5ff"/><rect x="364.0" y="284.8" width="6.5" height="6.2" fill="#eeeeff"/><rect x="370.1" y="284.8" width="6.5" height="6.2" fill="#fbfbff"/><rect x="376.2" y="284.8" width="6.5" height="6.2" fill="#fcfcff"/><rect x="382.2" y="284.8" width="6.5" height="6.2" fill="#f3f3ff"/><rect x="388.3" y="284.8" width="6.5" height="6.2" fill="#ededff"/><rect x="394.4" y="284.8" width="6.5" height="6.2" fill="#ebebff"/><rect x="400.5" y="284.8" width="6.5" height="6.2" fill="#f7f7ff"/><rect x="406.6" y="284.8" width="6.5" height="6.2" fill="#ffeeee"/><rect x="412.6" y="284.8" width="6.5" height="6.2" fill="#ffe7e7"/><rect x="418.7" y="284.8" width="6.5" height="6.2" fill="#fff1f1"/><rect x="424.8" y="284.8" width="6.5" height="6.2" fill="#fffbfb"/><rect x="430.9" y="284.8" width="6.5" height="6.2" fill="#fbfbff"/><rect x="436.9" y="284.8" width="6.5" height="6.2" fill="#fefeff"/><rect x="443.0" y="284.8" width="6.5" height="6.2" fill="#fff0f0"/><rect x="449.1" y="284.8" width="6.5" height="6.2" fill="#fff3f3"/><rect x="455.1" y="284.8" width="6.5" height="6.2" fill="#f5f5ff"/><rect x="461.2" y="284.8" width="6.5" height="6.2" fill="#e7e7ff"/><rect x="467.3" y="284.8" width="6.5" height="6.2" fill="#e0e0ff"/><rect x="473.4" y="284.8" width="6.5" height="6.2" fill="#e0e0ff"/><rect x="479.5" y="284.8" width="6.5" height="6.2" fill="#e7e7ff"/><rect x="485.5" y="284.8" width="6.5" height="6.2" fill="#ebebff"/><rect x="491.6" y="284.8" width="6.5" height="6.2" fill="#ebebff"/><rect x="497.7" y="284.8" width="6.5" height="6.2" fill="#ebebff"/>
<rect x="285.1" y="290.6" width="6.5" height="6.2" fill="#fff5f5"/><rect x="291.1" y="290.6" width="6.5" height="6.2" fill="#fff5f5"/><rect x="297.2" y="290.6" width="6.5" height="6.2" fill="#fff5f5"/><rect x="303.3" y="290.6" width="6.5" height="6.2" fill="#ffe7e7"/><rect x="309.3" y="290.6" width="6.5" height="6.2" fill="#ffcbcb"/><rect x="315.4" y="290.6" width="6.5" height="6.2" fill="#ffbbbb"/><rect x="321.5" y="290.6" width="6.5" height="6.2" fill="#ffb9b9"/><rect x="327.6" y="290.6" width="6.5" height="6.2" fill="#ffc6c6"/><rect x="333.6" y="290.6" width="6.5" height="6.2" fill="#ffe2e2"/><rect x="339.7" y="290.6" width="6.5" height="6.2" fill="#fffdfd"/><rect x="345.8" y="290.6" width="6.5" height="6.2" fill="#e6e6ff"/><rect x="351.9" y="290.6" width="6.5" height="6.2" fill="#dbdbff"/><rect x="357.9" y="290.6" width="6.5" height="6.2" fill="#dfdfff"/><rect x="364.0" y="290.6" width="6.5" height="6.2" fill="#eaeaff"/><rect x="370.1" y="290.6" width="6.5" height="6.2" fill="#fcfcff"/><rect x="376.2" y="290.6" width="6.5" height="6.2" fill="#fffdfd"/><rect x="382.2" y="290.6" width="6.5" height="6.2" fill="#f8f8ff"/><rect x="388.3" y="290.6" width="6.5" height="6.2" fill="#f1f1ff"/><rect x="394.4" y="290.6" width="6.5" height="6.2" fill="#ededff"/><rect x="400.5" y="290.6" width="6.5" height="6.2" fill="#f6f6ff"/><rect x="406.6" y="290.6" width="6.5" height="6.2" fill="#fff3f3"/><rect x="412.6" y="290.6" width="6.5" height="6.2" fill="#ffe7e7"/><rect x="418.7" y="290.6" width="6.5" height="6.2" fill="#ffe7e7"/><rect x="424.8" y="290.6" width="6.5" height="6.2" fill="#ffefef"/><rect x="430.9" y="290.6" width="6.5" height="6.2" fill="#ffffff"/><rect x="436.9" y="290.6" width="6.5" height="6.2" fill="#f9f9ff"/><rect x="443.0" y="290.6" width="6.5" height="6.2" fill="#fefeff"/><rect x="449.1" y="290.6" width="6.5" height="6.2" fill="#fbfbff"/><rect x="455.1" y="290.6" width="6.5" height="6.2" fill="#f0f0ff"/><rect x="461.2" y="290.6" width="6.5" height="6.2" fill="#e6e6ff"/><rect x="467.3" y="290.6" width="6.5" height="6.2" fill="#ddddff"/><rect x="473.4" y="290.6" width="6.5" height="6.2" fill="#ddddff"/><rect x="479.5" y="290.6" width="6.5" height="6.2" fill="#e6e6ff"/><rect x="485.5" y="290.6" width="6.5" height="6.2" fill="#ebebff"/><rect x="491.6" y="290.6" width="6.5" height="6.2" fill="#ebebff"/><rect x="497.7" y="290.6" width="6.5" height="6.2" fill="#ebebff"/>
<rect x="285.1" y="296.5" width="6.5" height="6.2" fill="#ffebeb"/><rect x="291.1" y="296.5" width="6.5" height="6.2" fill="#ffebeb"/><rect x="297.2" y="296.5" width="6.5" height="6.2" fill="#ffebeb"/><rect x="303.3" y="296.5" width="6.5" height="6.2" fill="#ffdbdb"/><rect x="309.3" y="296.5" width="6.5" height="6.2" fill="#ffbbbb"/><rect x="315.4" y="296.5" width="6.5" height="6.2" fill="#ffabab"/><rect x="321.5" y="296.5" width="6.5" height="6.2" fill="#ffa9a9"/><rect x="327.6" y="296.5" width="6.5" height="6.2" fill="#ffb8b8"/><rect x="333.6" y="296.5" width="6.5" height="6.2" fill="#ffd8d8"/><rect x="339.7" y="296.5" width="6.5" height="6.2" fill="#fff5f5"/><rect x="345.8" y="296.5" width="6.5" height="6.2" fill="#efefff"/><rect x="351.9" y="296.5" width="6.5" height="6.2" fill="#e6e6ff"/><rect x="357.9" y="296.5" width="6.5" height="6.2" fill="#ececff"/><rect x="364.0" y="296.5" width="6.5" height="6.2" fill="#f6f6ff"/><rect x="370.1" y="296.5" width="6.5" height="6.2" fill="#fffbfb"/><rect x="376.2" y="296.5" width="6.5" height="6.2" fill="#fff7f7"/><rect x="382.2" y="296.5" width="6.5" height="6.2" fill="#fffefe"/><rect x="388.3" y="296.5" width="6.5" height="6.2" fill="#f6f6ff"/><rect x="394.4" y="296.5" width="6.5" height="6.2" fill="#ebebff"/><rect x="400.5" y="296.5" width="6.5" height="6.2" fill="#f2f2ff"/><rect x="406.6" y="296.5" width="6.5" height="6.2" fill="#fff2f2"/><rect x="412.6" y="296.5" width="6.5" height="6.2" fill="#ffe2e2"/><rect x="418.7" y="296.5" width="6.5" height="6.2" fill="#ffdbdb"/><rect x="424.8" y="296.5" width="6.5" height="6.2" fill="#ffe3e3"/><rect x="430.9" y="296.5" width="6.5" height="6.2" fill="#fffbfb"/><rect x="436.9" y="296.5" width="6.5" height="6.2" fill="#f7f7ff"/><rect x="443.0" y="296.5" width="6.5" height="6.2" fill="#f8f8ff"/><rect x="449.1" y="296.5" width="6.5" height="6.2" fill="#f6f6ff"/><rect x="455.1" y="296.5" width="6.5" height="6.2" fill="#f0f0ff"/><rect x="461.2" y="296.5" width="6.5" height="6.2" fill="#eaeaff"/><rect x="467.3" y="296.5" width="6.5" height="6.2" fill="#e2e2ff"/><rect x="473.4" y="296.5" width="6.5" height="6.2" fill="#e1e1ff"/><rect x="479.5" y="296.5" width="6.5" height="6.2" fill="#e8e8ff"/><rect x="485.5" y="296.5" width="6.5" height="6.2" fill="#ebebff"/><rect x="491.6" y="296.5" width="6.5" height="6.2" fill="#ebebff"/><rect x="497.7" y="296.5" width="6.5" height="6.2" fill="#ebebff"/>
<rect x="285.1" y="302.3" width="6.5" height="6.2" fill="#ffebeb"/><rect x="291.1" y="302.3" width="6.5" height="6.2" fill="#ffebeb"/><rect x="297.2" y="302.3" width="6.5" height="6.2" fill="#ffebeb"/><rect x="303.3" y="302.3" width="6.5" height="6.2" fill="#ffdada"/><rect x="309.3" y="302.3" width="6.5" height="6.2" fill="#ffb8b8"/><rect x="315.4" y="302.3" width="6.5" height="6.2" fill="#ffa5a5"/><rect x="321.5" y="302.3" width="6.5" height="6.2" fill="#ffa0a0"/><rect x="327.6" y="302.3" width="6.5" height="6.2" fill="#ffafaf"/><rect x="333.6" y="302.3" width="6.5" height="6.2" fill="#ffd1d1"/><rect x="339.7" y="302.3" width="6.5" height="6.2" fill="#ffeaea"/><rect x="345.8" y="302.3" width="6.5" height="6.2" fill="#fffbfb"/><rect x="351.9" y="302.3" width="6.5" height="6.2" fill="#fffefe"/><rect x="357.9" y="302.3" width="6.5" height="6.2" fill="#fff4f4"/><rect x="364.0" y="302.3" width="6.5" height="6.2" fill="#ffeeee"/><rect x="370.1" y="302.3" width="6.5" height="6.2" fill="#ffeeee"/><rect x="376.2" y="302.3" width="6.5" height="6.2" fill="#fff0f0"/><rect x="382.2" y="302.3" width="6.5" height="6.2" fill="#fff5f5"/><rect x="388.3" y="302.3" width="6.5" height="6.2" fill="#fbfbff"/><rect x="394.4" y="302.3" width="6.5" height="6.2" fill="#e6e6ff"/><rect x="400.5" y="302.3" width="6.5" height="6.2" fill="#ededff"/><rect x="406.6" y="302.3" width="6.5" height="6.2" fill="#ffeded"/><rect x="412.6" y="302.3" width="6.5" height="6.2" fill="#ffd7d7"/><rect x="418.7" y="302.3" width="6.5" height="6.2" fill="#ffcece"/><rect x="424.8" y="302.3" width="6.5" height="6.2" fill="#ffd8d8"/><rect x="430.9" y="302.3" width="6.5" height="6.2" fill="#fff8f8"/><rect x="436.9" y="302.3" width="6.5" height="6.2" fill="#f8f8ff"/><rect x="443.0" y="302.3" width="6.5" height="6.2" fill="#fbfbff"/><rect x="449.1" y="302.3" width="6.5" height="6.2" fill="#fbfbff"/><rect x="455.1" y="302.3" width="6.5" height="6.2" fill="#f6f6ff"/><rect x="461.2" y="302.3" width="6.5" height="6.2" fill="#f3f3ff"/><rect x="467.3" y="302.3" width="6.5" height="6.2" fill="#f0f0ff"/><rect x="473.4" y="302.3" width="6.5" height="6.2" fill="#eeeeff"/><rect x="479.5" y="302.3" width="6.5" height="6.2" fill="#ececff"/><rect x="485.5" y="302.3" width="6.5" height="6.2" fill="#ebebff"/><rect x="491.6" y="302.3" width="6.5" height="6.2" fill="#ebebff"/><rect x="497.7" y="302.3" width="6.5" height="6.2" fill="#ebebff"/>
<rect x="285.1" y="308.1" width="6.5" height="6.2" fill="#ffebeb"/><rect x="291.1" y="308.1" width="6.5" height="6.2" fill="#ffebeb"/><rect x="297.2" y="308.1" width="6.5" height="6.2" fill="#ffebeb"/><rect x="303.3" y="308.1" width="6.5" height="6.2" fill="#ffdcdc"/><rect x="309.3" y="308.1" width="6.5" height="6.2" fill="#ffc0c0"/><rect x="315.4" y="308.1" width="6.5" height="6.2" fill="#ffafaf"/><rect x="321.5" y="308.1" width="6.5" height="6.2" fill="#ffabab"/><rect x="327.6" y="308.1" width="6.5" height="6.2" fill="#ffb7b7"/><rect x="333.6" y="308.1" width="6.5" height="6.2" fill="#ffd3d3"/><rect x="339.7" y="308.1" width="6.5" height="6.2" fill="#ffeaea"/><rect x="345.8" y="308.1" width="6.5" height="6.2" fill="#fffbfb"/><rect x="351.9" y="308.1" width="6.5" height="6.2" fill="#fffbfb"/><rect x="357.9" y="308.1" width="6.5" height="6.2" fill="#ffeaea"/><rect x="364.0" y="308.1" width="6.5" height="6.2" fill="#ffe4e4"/><rect x="370.1" y="308.1" width="6.5" height="6.2" fill="#ffe8e8"/><rect x="376.2" y="308.1" width="6.5" height="6.2" fill="#ffeded"/><rect x="382.2" y="308.1" width="6.5" height="6.2" fill="#fff3f3"/><rect x="388.3" y="308.1" width="6.5" height="6.2" fill="#fcfcff"/><rect x="394.4" y="308.1" width="6.5" height="6.2" fill="#e4e4ff"/><rect x="400.5" y="308.1" width="6.5" height="6.2" fill="#ebebff"/><rect x="406.6" y="308.1" width="6.5" height="6.2" fill="#ffeeee"/><rect x="412.6" y="308.1" width="6.5" height="6.2" fill="#ffd7d7"/><rect x="418.7" y="308.1" width="6.5" height="6.2" fill="#ffd0d0"/><rect x="424.8" y="308.1" width="6.5" height="6.2" fill="#ffdcdc"/><rect x="430.9" y="308.1" width="6.5" height="6.2" fill="#fffdfd"/><rect x="436.9" y="308.1" width="6.5" height="6.2" fill="#f2f2ff"/><rect x="443.0" y="308.1" width="6.5" height="6.2" fill="#f5f5ff"/><rect x="449.1" y="308.1" width="6.5" height="6.2" fill="#f7f7ff"/><rect x="455.1" y="308.1" width="6.5" height="6.2" fill="#f8f8ff"/><rect x="461.2" y="308.1" width="6.5" height="6.2" fill="#f9f9ff"/><rect x="467.3" y="308.1" width="6.5" height="6.2" fill="#fafaff"/><rect x="473.4" y="308.1" width="6.5" height="6.2" fill="#f9f9ff"/><rect x="479.5" y="308.1" width="6.5" height="6.2" fill="#f4f4ff"/><rect x="485.5" y="308.1" width="6.5" height="6.2" fill="#f2f2ff"/><rect x="491.6" y="308.1" width="6.5" height="6.2" fill="#f2f2ff"/><rect x="497.7" y="308.1" width="6.5" height="6.2" fill="#f2f2ff"/>
<rect x="285.1" y="313.9" width="6.5" height="6.2" fill="#ffebeb"/><rect x="291.1" y="313.9" width="6.5" height="6.2" fill="#ffebeb"/><rect x="297.2" y="313.9" width="6.5" height="6.2" fill="#ffebeb"/><rect x="303.3" y="313.9" width="6.5" height="6.2" fill="#ffe2e2"/><rect x="309.3" y="313.9" width="6.5" height="6.2" fill="#ffd2d2"/><rect x="315.4" y="313.9" width="6.5" height="6.2" fill="#ffc9c9"/><rect x="321.5" y="313.9" width="6.5" height="6.2" fill="#ffc8c8"/><rect x="327.6" y="313.9" width="6.5" height="6.2" fill="#ffcfcf"/><rect x="333.6" y="313.9" width="6.5" height="6.2" fill="#ffdfdf"/><rect x="339.7" y="313.9" width="6.5" height="6.2" fill="#fff5f5"/><rect x="345.8" y="313.9" width="6.5" height="6.2" fill="#efefff"/><rect x="351.9" y="313.9" width="6.5" height="6.2" fill="#efefff"/><rect x="357.9" y="313.9" width="6.5" height="6.2" fill="#fff5f5"/><rect x="364.0" y="313.9" width="6.5" height="6.2" fill="#ffe8e8"/><rect x="370.1" y="313.9" width="6.5" height="6.2" fill="#ffeaea"/><rect x="376.2" y="313.9" width="6.5" height="6.2" fill="#ffefef"/><rect x="382.2" y="313.9" width="6.5" height="6.2" fill="#fff8f8"/><rect x="388.3" y="313.9" width="6.5" height="6.2" fill="#f9f9ff"/><rect x="394.4" y="313.9" width="6.5" height="6.2" fill="#e6e6ff"/><rect x="400.5" y="313.9" width="6.5" height="6.2" fill="#ebebff"/><rect x="406.6" y="313.9" width="6.5" height="6.2" fill="#fff5f5"/><rect x="412.6" y="313.9" width="6.5" height="6.2" fill="#ffe4e4"/><rect x="418.7" y="313.9" width="6.5" height="6.2" fill="#ffe2e2"/><rect x="424.8" y="313.9" width="6.5" height="6.2" fill="#ffefef"/><rect x="430.9" y="313.9" width="6.5" height="6.2" fill="#f3f3ff"/><rect x="436.9" y="313.9" width="6.5" height="6.2" fill="#e5e5ff"/><rect x="443.0" y="313.9" width="6.5" height="6.2" fill="#e6e6ff"/><rect x="449.1" y="313.9" width="6.5" height="6.2" fill="#ececff"/><rect x="455.1" y="313.9" width="6.5" height="6.2" fill="#f7f7ff"/><rect x="461.2" y="313.9" width="6.5" height="6.2" fill="#fefeff"/><rect x="467.3" y="313.9" width="6.5" height="6.2" fill="#fffcfc"/><rect x="473.4" y="313.9" width="6.5" height="6.2" fill="#fffcfc"/><rect x="479.5" y="313.9" width="6.5" height="6.2" fill="#fffdfd"/><rect x="485.5" y="313.9" width="6.5" height="6.2" fill="#fffefe"/><rect x="491.6" y="313.9" width="6.5" height="6.2" fill="#fffefe"/><rect x="497.7" y="313.9" width="6.5" height="6.2" fill="#fffefe"/>
<rect x="285.1" y="319.8" width="6.5" height="6.2" fill="#ffe6e6"/><rect x="291.1" y="319.8" width="6.5" height="6.2" fill="#ffe6e6"/><rect x="297.2" y="319.8" width="6.5" height="6.2" fill="#ffe6e6"/><rect x="303.3" y="319.8" width="6.5" height="6.2" fill="#ffe5e5"/><rect x="309.3" y="319.8" width="6.5" height="6.2" fill="#ffe3e3"/><rect x="315.4" y="319.8" width="6.5" height="6.2" fill="#ffe4e4"/><rect x="321.5" y="319.8" width="6.5" height="6.2" fill="#ffe7e7"/><rect x="327.6" y="319.8" width="6.5" height="6.2" fill="#ffecec"/><rect x="333.6" y="319.8" width="6.5" height="6.2" fill="#fff2f2"/><rect x="339.7" y="319.8" width="6.5" height="6.2" fill="#fffefe"/><rect x="345.8" y="319.8" width="6.5" height="6.2" fill="#eeeeff"/><rect x="351.9" y="319.8" width="6.5" height="6.2" fill="#f1f1ff"/><rect x="357.9" y="319.8" width="6.5" height="6.2" fill="#fff6f6"/><rect x="364.0" y="319.8" width="6.5" height="6.2" fill="#ffe9e9"/><rect x="370.1" y="319.8" width="6.5" height="6.2" fill="#ffe7e7"/><rect x="376.2" y="319.8" width="6.5" height="6.2" fill="#ffeded"/><rect x="382.2" y="319.8" width="6.5" height="6.2" fill="#fffcfc"/><rect x="388.3" y="319.8" width="6.5" height="6.2" fill="#f4f4ff"/><rect x="394.4" y="319.8" width="6.5" height="6.2" fill="#e8e8ff"/><rect x="400.5" y="319.8" width="6.5" height="6.2" fill="#ededff"/><rect x="406.6" y="319.8" width="6.5" height="6.2" fill="#fff9f9"/><rect x="412.6" y="319.8" width="6.5" height="6.2" fill="#ffecec"/><rect x="418.7" y="319.8" width="6.5" height="6.2" fill="#ffe9e9"/><rect x="424.8" y="319.8" width="6.5" height="6.2" fill="#fff6f6"/><rect x="430.9" y="319.8" width="6.5" height="6.2" fill="#ebebff"/><rect x="436.9" y="319.8" width="6.5" height="6.2" fill="#dedeff"/><rect x="443.0" y="319.8" width="6.5" height="6.2" fill="#e0e0ff"/><rect x="449.1" y="319.8" width="6.5" height="6.2" fill="#eaeaff"/><rect x="455.1" y="319.8" width="6.5" height="6.2" fill="#fbfbff"/><rect x="461.2" y="319.8" width="6.5" height="6.2" fill="#fff9f9"/><rect x="467.3" y="319.8" width="6.5" height="6.2" fill="#fff8f8"/><rect x="473.4" y="319.8" width="6.5" height="6.2" fill="#fff6f6"/><rect x="479.5" y="319.8" width="6.5" height="6.2" fill="#fff5f5"/><rect x="485.5" y="319.8" width="6.5" height="6.2" fill="#fff4f4"/><rect x="491.6" y="319.8" width="6.5" height="6.2" fill="#fff4f4"/><rect x="497.7" y="319.8" width="6.5" height="6.2" fill="#fff4f4"/>
<rect x="285.1" y="325.6" width="6.5" height="6.2" fill="#ffdbdb"/><rect x="291.1" y="325.6" width="6.5" height="6.2" fill="#ffdbdb"/><rect x="297.2" y="325.6" width="6.5" height="6.2" fill="#ffdbdb"/><rect x="303.3" y="325.6" width="6.5" height="6.2" fill="#ffe3e3"/><rect x="309.3" y="325.6" width="6.5" height="6.2" fill="#fff3f3"/><rect x="315.4" y="325.6" width="6.5" height="6.2" fill="#fefeff"/><rect x="321.5" y="325.6" width="6.5" height="6.2" fill="#f5f5ff"/><rect x="327.6" y="325.6" width="6.5" height="6.2" fill="#f2f2ff"/><rect x="333.6" y="325.6" width="6.5" height="6.2" fill="#f4f4ff"/><rect x="339.7" y="325.6" width="6.5" height="6.2" fill="#f9f9ff"/><rect x="345.8" y="325.6" width="6.5" height="6.2" fill="#fffefe"/><rect x="351.9" y="325.6" width="6.5" height="6.2" fill="#fff6f6"/><rect x="357.9" y="325.6" width="6.5" height="6.2" fill="#ffeeee"/><rect x="364.0" y="325.6" width="6.5" height="6.2" fill="#ffe7e7"/><rect x="370.1" y="325.6" width="6.5" height="6.2" fill="#ffdfdf"/><rect x="376.2" y="325.6" width="6.5" height="6.2" fill="#ffe8e8"/><rect x="382.2" y="325.6" width="6.5" height="6.2" fill="#fcfcff"/><rect x="388.3" y="325.6" width="6.5" height="6.2" fill="#eeeeff"/><rect x="394.4" y="325.6" width="6.5" height="6.2" fill="#eaeaff"/><rect x="400.5" y="325.6" width="6.5" height="6.2" fill="#f0f0ff"/><rect x="406.6" y="325.6" width="6.5" height="6.2" fill="#fffcfc"/><rect x="412.6" y="325.6" width="6.5" height="6.2" fill="#ffefef"/><rect x="418.7" y="325.6" width="6.5" height="6.2" fill="#ffe6e6"/><rect x="424.8" y="325.6" width="6.5" height="6.2" fill="#fff3f3"/><rect x="430.9" y="325.6" width="6.5" height="6.2" fill="#e9e9ff"/><rect x="436.9" y="325.6" width="6.5" height="6.2" fill="#dcdcff"/><rect x="443.0" y="325.6" width="6.5" height="6.2" fill="#e4e4ff"/><rect x="449.1" y="325.6" width="6.5" height="6.2" fill="#f1f1ff"/><rect x="455.1" y="325.6" width="6.5" height="6.2" fill="#fff9f9"/><rect x="461.2" y="325.6" width="6.5" height="6.2" fill="#fff1f1"/><rect x="467.3" y="325.6" width="6.5" height="6.2" fill="#fff5f5"/><rect x="473.4" y="325.6" width="6.5" height="6.2" fill="#fff5f5"/><rect x="479.5" y="325.6" width="6.5" height="6.2" fill="#fff0f0"/><rect x="485.5" y="325.6" width="6.5" height="6.2" fill="#ffeeee"/><rect x="491.6" y="325.6" width="6.5" height="6.2" fill="#ffeeee"/><rect x="497.7" y="325.6" width="6.5" height="6.2" fill="#ffeeee"/>
<rect x="285.1" y="331.4" width="6.5" height="6.2" fill="#ffe6e6"/><rect x="291.1" y="331.4" width="6.5" height="6.2" fill="#ffe6e6"/><rect x="297.2" y="331.4" width="6.5" height="6.2" fill="#ffe6e6"/><rect x="303.3" y="331.4" width="6.5" height="6.2" fill="#ffecec"/><rect x="309.3" y="331.4" width="6.5" height="6.2" fill="#fff9f9"/><rect x="315.4" y="331.4" width="6.5" height="6.2" fill="#f7f7ff"/><rect x="321.5" y="331.4" width="6.5" height="6.2" fill="#e9e9ff"/><rect x="327.6" y="331.4" width="6.5" height="6.2" fill="#e2e2ff"/><rect x="333.6" y="331.4" width="6.5" height="6.2" fill="#e4e4ff"/><rect x="339.7" y="331.4" width="6.5" height="6.2" fill="#f0f0ff"/><rect x="345.8" y="331.4" width="6.5" height="6.2" fill="#fffafa"/><rect x="351.9" y="331.4" width="6.5" height="6.2" fill="#ffecec"/><rect x="357.9" y="331.4" width="6.5" height="6.2" fill="#ffe4e4"/><rect x="364.0" y="331.4" width="6.5" height="6.2" fill="#ffdfdf"/><rect x="370.1" y="331.4" width="6.5" height="6.2" fill="#ffdddd"/><rect x="376.2" y="331.4" width="6.5" height="6.2" fill="#ffe9e9"/><rect x="382.2" y="331.4" width="6.5" height="6.2" fill="#f9f9ff"/><rect x="388.3" y="331.4" width="6.5" height="6.2" fill="#ececff"/><rect x="394.4" y="331.4" width="6.5" height="6.2" fill="#f0f0ff"/><rect x="400.5" y="331.4" width="6.5" height="6.2" fill="#f5f5ff"/><rect x="406.6" y="331.4" width="6.5" height="6.2" fill="#fcfcff"/><rect x="412.6" y="331.4" width="6.5" height="6.2" fill="#fff6f6"/><rect x="418.7" y="331.4" width="6.5" height="6.2" fill="#ffe6e6"/><rect x="424.8" y="331.4" width="6.5" height="6.2" fill="#ffeeee"/><rect x="430.9" y="331.4" width="6.5" height="6.2" fill="#f2f2ff"/><rect x="436.9" y="331.4" width="6.5" height="6.2" fill="#e3e3ff"/><rect x="443.0" y="331.4" width="6.5" height="6.2" fill="#e3e3ff"/><rect x="449.1" y="331.4" width="6.5" height="6.2" fill="#f0f0ff"/><rect x="455.1" y="331.4" width="6.5" height="6.2" fill="#fff4f4"/><rect x="461.2" y="331.4" width="6.5" height="6.2" fill="#ffeded"/><rect x="467.3" y="331.4" width="6.5" height="6.2" fill="#fff8f8"/><rect x="473.4" y="331.4" width="6.5" height="6.2" fill="#fffbfb"/><rect x="479.5" y="331.4" width="6.5" height="6.2" fill="#fff5f5"/><rect x="485.5" y="331.4" width="6.5" height="6.2" fill="#fff2f2"/><rect x="491.6" y="331.4" width="6.5" height="6.2" fill="#fff2f2"/><rect x="497.7" y="331.4" width="6.5" height="6.2" fill="#fff2f2"/>
<rect x="285.1" y="337.2" width="6.5" height="6.2" fill="#fafaff"/><rect x="291.1" y="337.2" width="6.5" height="6.2" fill="#fafaff"/><rect x="297.2" y="337.2" width="6.5" height="6.2" fill="#fafaff"/><rect x="303.3" y="337.2" width="6.5" height="6.2" fill="#fefeff"/><rect x="309.3" y="337.2" width="6.5" height="6.2" fill="#fff6f6"/><rect x="315.4" y="337.2" width="6.5" height="6.2" fill="#fffbfb"/><rect x="321.5" y="337.2" width="6.5" height="6.2" fill="#f1f1ff"/><rect x="327.6" y="337.2" width="6.5" height="6.2" fill="#e4e4ff"/><rect x="333.6" y="337.2" width="6.5" height="6.2" fill="#dedeff"/><rect x="339.7" y="337.2" width="6.5" height="6.2" fill="#e5e5ff"/><rect x="345.8" y="337.2" width="6.5" height="6.2" fill="#fafaff"/><rect x="351.9" y="337.2" width="6.5" height="6.2" fill="#ffeeee"/><rect x="357.9" y="337.2" width="6.5" height="6.2" fill="#ffd7d7"/><rect x="364.0" y="337.2" width="6.5" height="6.2" fill="#ffd2d2"/><rect x="370.1" y="337.2" width="6.5" height="6.2" fill="#ffdfdf"/><rect x="376.2" y="337.2" width="6.5" height="6.2" fill="#fff1f1"/><rect x="382.2" y="337.2" width="6.5" height="6.2" fill="#f6f6ff"/><rect x="388.3" y="337.2" width="6.5" height="6.2" fill="#f0f0ff"/><rect x="394.4" y="337.2" width="6.5" height="6.2" fill="#fbfbff"/><rect x="400.5" y="337.2" width="6.5" height="6.2" fill="#fcfcff"/><rect x="406.6" y="337.2" width="6.5" height="6.2" fill="#f5f5ff"/><rect x="412.6" y="337.2" width="6.5" height="6.2" fill="#fdfdff"/><rect x="418.7" y="337.2" width="6.5" height="6.2" fill="#ffeaea"/><rect x="424.8" y="337.2" width="6.5" height="6.2" fill="#ffe8e8"/><rect x="430.9" y="337.2" width="6.5" height="6.2" fill="#fffafa"/><rect x="436.9" y="337.2" width="6.5" height="6.2" fill="#f1f1ff"/><rect x="443.0" y="337.2" width="6.5" height="6.2" fill="#dfdfff"/><rect x="449.1" y="337.2" width="6.5" height="6.2" fill="#e7e7ff"/><rect x="455.1" y="337.2" width="6.5" height="6.2" fill="#fff3f3"/><rect x="461.2" y="337.2" width="6.5" height="6.2" fill="#ffecec"/><rect x="467.3" y="337.2" width="6.5" height="6.2" fill="#fcfcff"/><rect x="473.4" y="337.2" width="6.5" height="6.2" fill="#f5f5ff"/><rect x="479.5" y="337.2" width="6.5" height="6.2" fill="#fbfbff"/><rect x="485.5" y="337.2" width="6.5" height="6.2" fill="#fefeff"/><rect x="491.6" y="337.2" width="6.5" height="6.2" fill="#fefeff"/><rect x="497.7" y="337.2" width="6.5" height="6.2" fill="#fefeff"/>
<rect x="285.1" y="343.1" width="6.5" height="6.2" fill="#fafaff"/><rect x="291.1" y="343.1" width="6.5" height="6.2" fill="#fafaff"/><rect x="297.2" y="343.1" width="6.5" height="6.2" fill="#fafaff"/><rect x="303.3" y="343.1" width="6.5" height="6.2" fill="#fffbfb"/><rect x="309.3" y="343.1" width="6.5" height="6.2" fill="#ffe9e9"/><rect x="315.4" y="343.1" width="6.5" height="6.2" fill="#ffe9e9"/><rect x="321.5" y="343.1" width="6.5" height="6.2" fill="#fffafa"/><rect x="327.6" y="343.1" width="6.5" height="6.2" fill="#f6f6ff"/><rect x="333.6" y="343.1" width="6.5" height="6.2" fill="#e9e9ff"/><rect x="339.7" y="343.1" width="6.5" height="6.2" fill="#e9e9ff"/><rect x="345.8" y="343.1" width="6.5" height="6.2" fill="#f6f6ff"/><rect x="351.9" y="343.1" width="6.5" height="6.2" fill="#fff4f4"/><rect x="357.9" y="343.1" width="6.5" height="6.2" fill="#ffd9d9"/><rect x="364.0" y="343.1" width="6.5" height="6.2" fill="#ffd2d2"/><rect x="370.1" y="343.1" width="6.5" height="6.2" fill="#ffdede"/><rect x="376.2" y="343.1" width="6.5" height="6.2" fill="#ffeded"/><rect x="382.2" y="343.1" width="6.5" height="6.2" fill="#fefeff"/><rect x="388.3" y="343.1" width="6.5" height="6.2" fill="#fafaff"/><rect x="394.4" y="343.1" width="6.5" height="6.2" fill="#fff9f9"/><rect x="400.5" y="343.1" width="6.5" height="6.2" fill="#fffcfc"/><rect x="406.6" y="343.1" width="6.5" height="6.2" fill="#f3f3ff"/><rect x="412.6" y="343.1" width="6.5" height="6.2" fill="#f8f8ff"/><rect x="418.7" y="343.1" width="6.5" height="6.2" fill="#ffecec"/><rect x="424.8" y="343.1" width="6.5" height="6.2" fill="#ffe4e4"/><rect x="430.9" y="343.1" width="6.5" height="6.2" fill="#ffeeee"/><rect x="436.9" y="343.1" width="6.5" height="6.2" fill="#fcfcff"/><rect x="443.0" y="343.1" width="6.5" height="6.2" fill="#dfdfff"/><rect x="449.1" y="343.1" width="6.5" height="6.2" fill="#e0e0ff"/><rect x="455.1" y="343.1" width="6.5" height="6.2" fill="#fffefe"/><rect x="461.2" y="343.1" width="6.5" height="6.2" fill="#fff9f9"/><rect x="467.3" y="343.1" width="6.5" height="6.2" fill="#f1f1ff"/><rect x="473.4" y="343.1" width="6.5" height="6.2" fill="#ececff"/><rect x="479.5" y="343.1" width="6.5" height="6.2" fill="#f6f6ff"/><rect x="485.5" y="343.1" width="6.5" height="6.2" fill="#fbfbff"/><rect x="491.6" y="343.1" width="6.5" height="6.2" fill="#fbfbff"/><rect x="497.7" y="343.1" width="6.5" height="6.2" fill="#fbfbff"/>
<rect x="285.1" y="348.9" width="6.5" height="6.2" fill="#ffe6e6"/><rect x="291.1" y="348.9" width="6.5" height="6.2" fill="#ffe6e6"/><rect x="297.2" y="348.9" width="6.5" height="6.2" fill="#ffe6e6"/><rect x="303.3" y="348.9" width="6.5" height="6.2" fill="#ffdfdf"/><rect x="309.3" y="348.9" width="6.5" height="6.2" fill="#ffd2d2"/><rect x="315.4" y="348.9" width="6.5" height="6.2" fill="#ffd1d1"/><rect x="321.5" y="348.9" width="6.5" height="6.2" fill="#ffdbdb"/><rect x="327.6" y="348.9" width="6.5" height="6.2" fill="#ffe8e8"/><rect x="333.6" y="348.9" width="6.5" height="6.2" fill="#fffafa"/><rect x="339.7" y="348.9" width="6.5" height="6.2" fill="#fafaff"/><rect x="345.8" y="348.9" width="6.5" height="6.2" fill="#f9f9ff"/><rect x="351.9" y="348.9" width="6.5" height="6.2" fill="#fffcfc"/><rect x="357.9" y="348.9" width="6.5" height="6.2" fill="#ffeaea"/><rect x="364.0" y="348.9" width="6.5" height="6.2" fill="#ffdede"/><rect x="370.1" y="348.9" width="6.5" height="6.2" fill="#ffd8d8"/><rect x="376.2" y="348.9" width="6.5" height="6.2" fill="#ffdddd"/><rect x="382.2" y="348.9" width="6.5" height="6.2" fill="#ffeded"/><rect x="388.3" y="348.9" width="6.5" height="6.2" fill="#fff3f3"/><rect x="394.4" y="348.9" width="6.5" height="6.2" fill="#ffefef"/><rect x="400.5" y="348.9" width="6.5" height="6.2" fill="#fff7f7"/><rect x="406.6" y="348.9" width="6.5" height="6.2" fill="#f4f4ff"/><rect x="412.6" y="348.9" width="6.5" height="6.2" fill="#f8f8ff"/><rect x="418.7" y="348.9" width="6.5" height="6.2" fill="#ffecec"/><rect x="424.8" y="348.9" width="6.5" height="6.2" fill="#ffe2e2"/><rect x="430.9" y="348.9" width="6.5" height="6.2" fill="#ffeaea"/><rect x="436.9" y="348.9" width="6.5" height="6.2" fill="#fffdfd"/><rect x="443.0" y="348.9" width="6.5" height="6.2" fill="#e3e3ff"/><rect x="449.1" y="348.9" width="6.5" height="6.2" fill="#dbdbff"/><rect x="455.1" y="348.9" width="6.5" height="6.2" fill="#e8e8ff"/><rect x="461.2" y="348.9" width="6.5" height="6.2" fill="#ebebff"/><rect x="467.3" y="348.9" width="6.5" height="6.2" fill="#e5e5ff"/><rect x="473.4" y="348.9" width="6.5" height="6.2" fill="#eaeaff"/><rect x="479.5" y="348.9" width="6.5" height="6.2" fill="#fbfbff"/><rect x="485.5" y="348.9" width="6.5" height="6.2" fill="#fffbfb"/><rect x="491.6" y="348.9" width="6.5" height="6.2" fill="#fffbfb"/><rect x="497.7" y="348.9" width="6.5" height="6.2" fill="#fffbfb"/>
<rect x="285.1" y="354.7" width="6.5" height="6.2" fill="#ffd4d4"/><rect x="291.1" y="354.7" width="6.5" height="6.2" fill="#ffd4d4"/><rect x="297.2" y="354.7" width="6.5" height="6.2" fill="#ffd4d4"/><rect x="303.3" y="354.7" width="6.5" height="6.2" fill="#ffd0d0"/><rect x="309.3" y="354.7" width="6.5" height="6.2" fill="#ffc6c6"/><rect x="315.4" y="354.7" width="6.5" height="6.2" fill="#ffc5c5"/><rect x="321.5" y="354.7" width="6.5" height="6.2" fill="#ffcbcb"/><rect x="327.6" y="354.7" width="6.5" height="6.2" fill="#ffd7d7"/><rect x="333.6" y="354.7" width="6.5" height="6.2" fill="#ffeaea"/><rect x="339.7" y="354.7" width="6.5" height="6.2" fill="#fff8f8"/><rect x="345.8" y="354.7" width="6.5" height="6.2" fill="#fdfdff"/><rect x="351.9" y="354.7" width="6.5" height="6.2" fill="#fefeff"/><rect x="357.9" y="354.7" width="6.5" height="6.2" fill="#fff5f5"/><rect x="364.0" y="354.7" width="6.5" height="6.2" fill="#ffe9e9"/><rect x="370.1" y="354.7" width="6.5" height="6.2" fill="#ffdcdc"/><rect x="376.2" y="354.7" width="6.5" height="6.2" fill="#ffdada"/><rect x="382.2" y="354.7" width="6.5" height="6.2" fill="#ffe3e3"/><rect x="388.3" y="354.7" width="6.5" height="6.2" fill="#ffe8e8"/><rect x="394.4" y="354.7" width="6.5" height="6.2" fill="#ffeaea"/><rect x="400.5" y="354.7" width="6.5" height="6.2" fill="#fff2f2"/><rect x="406.6" y="354.7" width="6.5" height="6.2" fill="#fcfcff"/><rect x="412.6" y="354.7" width="6.5" height="6.2" fill="#fffefe"/><rect x="418.7" y="354.7" width="6.5" height="6.2" fill="#ffe9e9"/><rect x="424.8" y="354.7" width="6.5" height="6.2" fill="#ffe2e2"/><rect x="430.9" y="354.7" width="6.5" height="6.2" fill="#ffeaea"/><rect x="436.9" y="354.7" width="6.5" height="6.2" fill="#fffbfb"/><rect x="443.0" y="354.7" width="6.5" height="6.2" fill="#e9e9ff"/><rect x="449.1" y="354.7" width="6.5" height="6.2" fill="#dadaff"/><rect x="455.1" y="354.7" width="6.5" height="6.2" fill="#d8d8ff"/><rect x="461.2" y="354.7" width="6.5" height="6.2" fill="#dcdcff"/><rect x="467.3" y="354.7" width="6.5" height="6.2" fill="#e7e7ff"/><rect x="473.4" y="354.7" width="6.5" height="6.2" fill="#f4f4ff"/><rect x="479.5" y="354.7" width="6.5" height="6.2" fill="#fff9f9"/><rect x="485.5" y="354.7" width="6.5" height="6.2" fill="#fff1f1"/><rect x="491.6" y="354.7" width="6.5" height="6.2" fill="#fff1f1"/><rect x="497.7" y="354.7" width="6.5" height="6.2" fill="#fff1f1"/>
<rect x="285.1" y="360.6" width="6.5" height="6.2" fill="#ffd0d0"/><rect x="291.1" y="360.6" width="6.5" height="6.2" fill="#ffd0d0"/><rect x="297.2" y="360.6" width="6.5" height="6.2" fill="#ffd0d0"/><rect x="303.3" y="360.6" width="6.5" height="6.2" fill="#ffcdcd"/><rect x="309.3" y="360.6" width="6.5" height="6.2" fill="#ffc5c5"/><rect x="315.4" y="360.6" width="6.5" height="6.2" fill="#ffc5c5"/><rect x="321.5" y="360.6" width="6.5" height="6.2" fill="#ffcbcb"/><rect x="327.6" y="360.6" width="6.5" height="6.2" fill="#ffd6d6"/><rect x="333.6" y="360.6" width="6.5" height="6.2" fill="#ffe6e6"/><rect x="339.7" y="360.6" width="6.5" height="6.2" fill="#fff3f3"/><rect x="345.8" y="360.6" width="6.5" height="6.2" fill="#fffcfc"/><rect x="351.9" y="360.6" width="6.5" height="6.2" fill="#ffffff"/><rect x="357.9" y="360.6" width="6.5" height="6.2" fill="#fffcfc"/><rect x="364.0" y="360.6" width="6.5" height="6.2" fill="#fff4f4"/><rect x="370.1" y="360.6" width="6.5" height="6.2" fill="#ffe9e9"/><rect x="376.2" y="360.6" width="6.5" height="6.2" fill="#ffe3e3"/><rect x="382.2" y="360.6" width="6.5" height="6.2" fill="#ffe2e2"/><rect x="388.3" y="360.6" width="6.5" height="6.2" fill="#ffe4e4"/><rect x="394.4" y="360.6" width="6.5" height="6.2" fill="#ffe8e8"/><rect x="400.5" y="360.6" width="6.5" height="6.2" fill="#ffeded"/><rect x="406.6" y="360.6" width="6.5" height="6.2" fill="#fff2f2"/><rect x="412.6" y="360.6" width="6.5" height="6.2" fill="#ffefef"/><rect x="418.7" y="360.6" width="6.5" height="6.2" fill="#ffe4e4"/><rect x="424.8" y="360.6" width="6.5" height="6.2" fill="#ffe4e4"/><rect x="430.9" y="360.6" width="6.5" height="6.2" fill="#ffeeee"/><rect x="436.9" y="360.6" width="6.5" height="6.2" fill="#fffdfd"/><rect x="443.0" y="360.6" width="6.5" height="6.2" fill="#efefff"/><rect x="449.1" y="360.6" width="6.5" height="6.2" fill="#dedeff"/><rect x="455.1" y="360.6" width="6.5" height="6.2" fill="#d0d0ff"/><rect x="461.2" y="360.6" width="6.5" height="6.2" fill="#d8d8ff"/><rect x="467.3" y="360.6" width="6.5" height="6.2" fill="#f7f7ff"/><rect x="473.4" y="360.6" width="6.5" height="6.2" fill="#fff3f3"/><rect x="479.5" y="360.6" width="6.5" height="6.2" fill="#ffe9e9"/><rect x="485.5" y="360.6" width="6.5" height="6.2" fill="#ffe4e4"/><rect x="491.6" y="360.6" width="6.5" height="6.2" fill="#ffe4e4"/><rect x="497.7" y="360.6" width="6.5" height="6.2" fill="#ffe4e4"/>
<rect x="285.1" y="366.4" width="6.5" height="6.2" fill="#ffcece"/><rect x="291.1" y="366.4" width="6.5" height="6.2" fill="#ffcece"/><rect x="297.2" y="366.4" width="6.5" height="6.2" fill="#ffcece"/><rect x="303.3" y="366.4" width="6.5" height="6.2" fill="#ffcbcb"/><rect x="309.3" y="366.4" width="6.5" height="6.2" fill="#ffc5c5"/><rect x="315.4" y="366.4" width="6.5" height="6.2" fill="#ffc5c5"/><rect x="321.5" y="366.4" width="6.5" height="6.2" fill="#ffcdcd"/><rect x="327.6" y="366.4" width="6.5" height="6.2" fill="#ffd6d6"/><rect x="333.6" y="366.4" width="6.5" height="6.2" fill="#ffe2e2"/><rect x="339.7" y="366.4" width="6.5" height="6.2" fill="#ffebeb"/><rect x="345.8" y="366.4" width="6.5" height="6.2" fill="#fff1f1"/><rect x="351.9" y="366.4" width="6.5" height="6.2" fill="#fff6f6"/><rect x="357.9" y="366.4" width="6.5" height="6.2" fill="#fff9f9"/><rect x="364.0" y="366.4" width="6.5" height="6.2" fill="#fff7f7"/><rect x="370.1" y="366.4" width="6.5" height="6.2" fill="#fff2f2"/><rect x="376.2" y="366.4" width="6.5" height="6.2" fill="#ffefef"/><rect x="382.2" y="366.4" width="6.5" height="6.2" fill="#ffeded"/><rect x="388.3" y="366.4" width="6.5" height="6.2" fill="#ffebeb"/><rect x="394.4" y="366.4" width="6.5" height="6.2" fill="#ffebeb"/><rect x="400.5" y="366.4" width="6.5" height="6.2" fill="#ffe9e9"/><rect x="406.6" y="366.4" width="6.5" height="6.2" fill="#ffe7e7"/><rect x="412.6" y="366.4" width="6.5" height="6.2" fill="#ffe3e3"/><rect x="418.7" y="366.4" width="6.5" height="6.2" fill="#ffdfdf"/><rect x="424.8" y="366.4" width="6.5" height="6.2" fill="#ffe1e1"/><rect x="430.9" y="366.4" width="6.5" height="6.2" fill="#ffeaea"/><rect x="436.9" y="366.4" width="6.5" height="6.2" fill="#fff5f5"/><rect x="443.0" y="366.4" width="6.5" height="6.2" fill="#fbfbff"/><rect x="449.1" y="366.4" width="6.5" height="6.2" fill="#e9e9ff"/><rect x="455.1" y="366.4" width="6.5" height="6.2" fill="#d2d2ff"/><rect x="461.2" y="366.4" width="6.5" height="6.2" fill="#d9d9ff"/><rect x="467.3" y="366.4" width="6.5" height="6.2" fill="#fefeff"/><rect x="473.4" y="366.4" width="6.5" height="6.2" fill="#ffeaea"/><rect x="479.5" y="366.4" width="6.5" height="6.2" fill="#ffe2e2"/><rect x="485.5" y="366.4" width="6.5" height="6.2" fill="#ffdede"/><rect x="491.6" y="366.4" width="6.5" height="6.2" fill="#ffdede"/><rect x="497.7" y="366.4" width="6.5" height="6.2" fill="#ffdede"/>
<rect x="285.1" y="372.2" width="6.5" height="6.2" fill="#ffcece"/><rect x="291.1" y="372.2" width="6.5" height="6.2" fill="#ffcece"/><rect x="297.2" y="372.2" width="6.5" height="6.2" fill="#ffcece"/><rect x="303.3" y="372.2" width="6.5" height="6.2" fill="#ffcbcb"/><rect x="309.3" y="372.2" width="6.5" height="6.2" fill="#ffc5c5"/><rect x="315.4" y="372.2" width="6.5" height="6.2" fill="#ffc6c6"/><rect x="321.5" y="372.2" width="6.5" height="6.2" fill="#ffd0d0"/><rect x="327.6" y="372.2" width="6.5" height="6.2" fill="#ffd7d7"/><rect x="333.6" y="372.2" width="6.5" height="6.2" fill="#ffdede"/><rect x="339.7" y="372.2" width="6.5" height="6.2" fill="#ffe1e1"/><rect x="345.8" y="372.2" width="6.5" height="6.2" fill="#ffe1e1"/><rect x="351.9" y="372.2" width="6.5" height="6.2" fill="#ffe4e4"/><rect x="357.9" y="372.2" width="6.5" height="6.2" fill="#ffecec"/><rect x="364.0" y="372.2" width="6.5" height="6.2" fill="#fff2f2"/><rect x="370.1" y="372.2" width="6.5" height="6.2" fill="#fff7f7"/><rect x="376.2" y="372.2" width="6.5" height="6.2" fill="#fffdfd"/><rect x="382.2" y="372.2" width="6.5" height="6.2" fill="#fbfbff"/><rect x="388.3" y="372.2" width="6.5" height="6.2" fill="#ffffff"/><rect x="394.4" y="372.2" width="6.5" height="6.2" fill="#fff1f1"/><rect x="400.5" y="372.2" width="6.5" height="6.2" fill="#ffe7e7"/><rect x="406.6" y="372.2" width="6.5" height="6.2" fill="#ffdfdf"/><rect x="412.6" y="372.2" width="6.5" height="6.2" fill="#ffdbdb"/><rect x="418.7" y="372.2" width="6.5" height="6.2" fill="#ffd9d9"/><rect x="424.8" y="372.2" width="6.5" height="6.2" fill="#ffdada"/><rect x="430.9" y="372.2" width="6.5" height="6.2" fill="#ffdddd"/><rect x="436.9" y="372.2" width="6.5" height="6.2" fill="#ffe4e4"/><rect x="443.0" y="372.2" width="6.5" height="6.2" fill="#ffefef"/><rect x="449.1" y="372.2" width="6.5" height="6.2" fill="#fbfbff"/><rect x="455.1" y="372.2" width="6.5" height="6.2" fill="#dfdfff"/><rect x="461.2" y="372.2" width="6.5" height="6.2" fill="#dfdfff"/><rect x="467.3" y="372.2" width="6.5" height="6.2" fill="#fcfcff"/><rect x="473.4" y="372.2" width="6.5" height="6.2" fill="#ffeeee"/><rect x="479.5" y="372.2" width="6.5" height="6.2" fill="#ffe4e4"/><rect x="485.5" y="372.2" width="6.5" height="6.2" fill="#ffdede"/><rect x="491.6" y="372.2" width="6.5" height="6.2" fill="#ffdede"/><rect x="497.7" y="372.2" width="6.5" height="6.2" fill="#ffdede"/>
<rect x="285.1" y="378.0" width="6.5" height="6.2" fill="#ffcbcb"/><rect x="291.1" y="378.0" width="6.5" height="6.2" fill="#ffcbcb"/><rect x="297.2" y="378.0" width="6.5" height="6.2" fill="#ffcbcb"/><rect x="303.3" y="378.0" width="6.5" height="6.2" fill="#ffc6c6"/><rect x="309.3" y="378.0" width="6.5" height="6.2" fill="#ffbcbc"/><rect x="315.4" y="378.0" width="6.5" height="6.2" fill="#ffc1c1"/><rect x="321.5" y="378.0" width="6.5" height="6.2" fill="#ffd2d2"/><rect x="327.6" y="378.0" width="6.5" height="6.2" fill="#ffdede"/><rect x="333.6" y="378.0" width="6.5" height="6.2" fill="#ffe4e4"/><rect x="339.7" y="378.0" width="6.5" height="6.2" fill="#ffe2e2"/><rect x="345.8" y="378.0" width="6.5" height="6.2" fill="#ffdada"/><rect x="351.9" y="378.0" width="6.5" height="6.2" fill="#ffdada"/><rect x="357.9" y="378.0" width="6.5" height="6.2" fill="#ffe0e0"/><rect x="364.0" y="378.0" width="6.5" height="6.2" fill="#ffe9e9"/><rect x="370.1" y="378.0" width="6.5" height="6.2" fill="#fff4f4"/><rect x="376.2" y="378.0" width="6.5" height="6.2" fill="#fcfcff"/><rect x="382.2" y="378.0" width="6.5" height="6.2" fill="#ededff"/><rect x="388.3" y="378.0" width="6.5" height="6.2" fill="#f2f2ff"/><rect x="394.4" y="378.0" width="6.5" height="6.2" fill="#fff4f4"/><rect x="400.5" y="378.0" width="6.5" height="6.2" fill="#ffe3e3"/><rect x="406.6" y="378.0" width="6.5" height="6.2" fill="#ffd9d9"/><rect x="412.6" y="378.0" width="6.5" height="6.2" fill="#ffd3d3"/><rect x="418.7" y="378.0" width="6.5" height="6.2" fill="#ffd2d2"/><rect x="424.8" y="378.0" width="6.5" height="6.2" fill="#ffd2d2"/><rect x="430.9" y="378.0" width="6.5" height="6.2" fill="#ffd3d3"/><rect x="436.9" y="378.0" width="6.5" height="6.2" fill="#ffdada"/><rect x="443.0" y="378.0" width="6.5" height="6.2" fill="#ffe5e5"/><rect x="449.1" y="378.0" width="6.5" height="6.2" fill="#fffafa"/><rect x="455.1" y="378.0" width="6.5" height="6.2" fill="#e5e5ff"/><rect x="461.2" y="378.0" width="6.5" height="6.2" fill="#e2e2ff"/><rect x="467.3" y="378.0" width="6.5" height="6.2" fill="#f9f9ff"/><rect x="473.4" y="378.0" width="6.5" height="6.2" fill="#fff2f2"/><rect x="479.5" y="378.0" width="6.5" height="6.2" fill="#ffe5e5"/><rect x="485.5" y="378.0" width="6.5" height="6.2" fill="#ffdede"/><rect x="491.6" y="378.0" width="6.5" height="6.2" fill="#ffdede"/><rect x="497.7" y="378.0" width="6.5" height="6.2" fill="#ffdede"/>
<rect x="285.1" y="383.9" width="6.5" height="6.2" fill="#ffc5c5"/><rect x="291.1" y="383.9" width="6.5" height="6.2" fill="#ffc5c5"/><rect x="297.2" y="383.9" width="6.5" height="6.2" fill="#ffc5c5"/><rect x="303.3" y="383.9" width="6.5" height="6.2" fill="#ffbcbc"/><rect x="309.3" y="383.9" width="6.5" height="6.2" fill="#ffacac"/><rect x="315.4" y="383.9" width="6.5" height="6.2" fill="#ffb4b4"/><rect x="321.5" y="383.9" width="6.5" height="6.2" fill="#ffd5d5"/><rect x="327.6" y="383.9" width="6.5" height="6.2" fill="#ffeaea"/><rect x="333.6" y="383.9" width="6.5" height="6.2" fill="#fff3f3"/><rect x="339.7" y="383.9" width="6.5" height="6.2" fill="#ffefef"/><rect x="345.8" y="383.9" width="6.5" height="6.2" fill="#ffdede"/><rect x="351.9" y="383.9" width="6.5" height="6.2" fill="#ffd6d6"/><rect x="357.9" y="383.9" width="6.5" height="6.2" fill="#ffd5d5"/><rect x="364.0" y="383.9" width="6.5" height="6.2" fill="#ffdcdc"/><rect x="370.1" y="383.9" width="6.5" height="6.2" fill="#ffe9e9"/><rect x="376.2" y="383.9" width="6.5" height="6.2" fill="#fffcfc"/><rect x="382.2" y="383.9" width="6.5" height="6.2" fill="#e8e8ff"/><rect x="388.3" y="383.9" width="6.5" height="6.2" fill="#ececff"/><rect x="394.4" y="383.9" width="6.5" height="6.2" fill="#fff2f2"/><rect x="400.5" y="383.9" width="6.5" height="6.2" fill="#ffdddd"/><rect x="406.6" y="383.9" width="6.5" height="6.2" fill="#ffd4d4"/><rect x="412.6" y="383.9" width="6.5" height="6.2" fill="#ffcece"/><rect x="418.7" y="383.9" width="6.5" height="6.2" fill="#ffc9c9"/><rect x="424.8" y="383.9" width="6.5" height="6.2" fill="#ffc9c9"/><rect x="430.9" y="383.9" width="6.5" height="6.2" fill="#ffcece"/><rect x="436.9" y="383.9" width="6.5" height="6.2" fill="#ffd7d7"/><rect x="443.0" y="383.9" width="6.5" height="6.2" fill="#ffe4e4"/><rect x="449.1" y="383.9" width="6.5" height="6.2" fill="#fffafa"/><rect x="455.1" y="383.9" width="6.5" height="6.2" fill="#e5e5ff"/><rect x="461.2" y="383.9" width="6.5" height="6.2" fill="#e1e1ff"/><rect x="467.3" y="383.9" width="6.5" height="6.2" fill="#f6f6ff"/><rect x="473.4" y="383.9" width="6.5" height="6.2" fill="#fff5f5"/><rect x="479.5" y="383.9" width="6.5" height="6.2" fill="#ffe6e6"/><rect x="485.5" y="383.9" width="6.5" height="6.2" fill="#ffdede"/><rect x="491.6" y="383.9" width="6.5" height="6.2" fill="#ffdede"/><rect x="497.7" y="383.9" width="6.5" height="6.2" fill="#ffdede"/>
<rect x="285.1" y="389.7" width="6.5" height="6.2" fill="#ffc5c5"/><rect x="291.1" y="389.7" width="6.5" height="6.2" fill="#ffc5c5"/><rect x="297.2" y="389.7" width="6.5" height="6.2" fill="#ffc5c5"/><rect x="303.3" y="389.7" width="6.5" height="6.2" fill="#ffb9b9"/><rect x="309.3" y="389.7" width="6.5" height="6.2" fill="#ffa2a2"/><rect x="315.4" y="389.7" width="6.5" height="6.2" fill="#ffaaaa"/><rect x="321.5" y="389.7" width="6.5" height="6.2" fill="#ffd2d2"/><rect x="327.6" y="389.7" width="6.5" height="6.2" fill="#ffecec"/><rect x="333.6" y="389.7" width="6.5" height="6.2" fill="#fff9f9"/><rect x="339.7" y="389.7" width="6.5" height="6.2" fill="#fff9f9"/><rect x="345.8" y="389.7" width="6.5" height="6.2" fill="#ffecec"/><rect x="351.9" y="389.7" width="6.5" height="6.2" fill="#ffe0e0"/><rect x="357.9" y="389.7" width="6.5" height="6.2" fill="#ffd5d5"/><rect x="364.0" y="389.7" width="6.5" height="6.2" fill="#ffd5d5"/><rect x="370.1" y="389.7" width="6.5" height="6.2" fill="#ffe0e0"/><rect x="376.2" y="389.7" width="6.5" height="6.2" fill="#fff4f4"/><rect x="382.2" y="389.7" width="6.5" height="6.2" fill="#eeeeff"/><rect x="388.3" y="389.7" width="6.5" height="6.2" fill="#f0f0ff"/><rect x="394.4" y="389.7" width="6.5" height="6.2" fill="#ffeeee"/><rect x="400.5" y="389.7" width="6.5" height="6.2" fill="#ffdada"/><rect x="406.6" y="389.7" width="6.5" height="6.2" fill="#ffd0d0"/><rect x="412.6" y="389.7" width="6.5" height="6.2" fill="#ffc7c7"/><rect x="418.7" y="389.7" width="6.5" height="6.2" fill="#ffc0c0"/><rect x="424.8" y="389.7" width="6.5" height="6.2" fill="#ffc2c2"/><rect x="430.9" y="389.7" width="6.5" height="6.2" fill="#ffcbcb"/><rect x="436.9" y="389.7" width="6.5" height="6.2" fill="#ffd7d7"/><rect x="443.0" y="389.7" width="6.5" height="6.2" fill="#ffe4e4"/><rect x="449.1" y="389.7" width="6.5" height="6.2" fill="#fff8f8"/><rect x="455.1" y="389.7" width="6.5" height="6.2" fill="#ececff"/><rect x="461.2" y="389.7" width="6.5" height="6.2" fill="#e5e5ff"/><rect x="467.3" y="389.7" width="6.5" height="6.2" fill="#f3f3ff"/><rect x="473.4" y="389.7" width="6.5" height="6.2" fill="#fffbfb"/><rect x="479.5" y="389.7" width="6.5" height="6.2" fill="#ffe8e8"/><rect x="485.5" y="389.7" width="6.5" height="6.2" fill="#ffdede"/><rect x="491.6" y="389.7" width="6.5" height="6.2" fill="#ffdede"/><rect x="497.7" y="389.7" width="6.5" height="6.2" fill="#ffdede"/>
<rect x="285.1" y="395.5" width="6.5" height="6.2" fill="#ffcbcb"/><rect x="291.1" y="395.5" width="6.5" height="6.2" fill="#ffcbcb"/><rect x="297.2" y="395.5" width="6.5" height="6.2" fill="#ffcbcb"/><rect x="303.3" y="395.5" width="6.5" height="6.2" fill="#ffbcbc"/><rect x="309.3" y="395.5" width="6.5" height="6.2" fill="#ff9f9f"/><rect x="315.4" y="395.5" width="6.5" height="6.2" fill="#ffa3a3"/><rect x="321.5" y="395.5" width="6.5" height="6.2" fill="#ffc8c8"/><rect x="327.6" y="395.5" width="6.5" height="6.2" fill="#ffe4e4"/><rect x="333.6" y="395.5" width="6.5" height="6.2" fill="#fff6f6"/><rect x="339.7" y="395.5" width="6.5" height="6.2" fill="#fefeff"/><rect x="345.8" y="395.5" width="6.5" height="6.2" fill="#fbfbff"/><rect x="351.9" y="395.5" width="6.5" height="6.2" fill="#fff8f8"/><rect x="357.9" y="395.5" width="6.5" height="6.2" fill="#ffe0e0"/><rect x="364.0" y="395.5" width="6.5" height="6.2" fill="#ffd6d6"/><rect x="370.1" y="395.5" width="6.5" height="6.2" fill="#ffdada"/><rect x="376.2" y="395.5" width="6.5" height="6.2" fill="#ffe7e7"/><rect x="382.2" y="395.5" width="6.5" height="6.2" fill="#fffefe"/><rect x="388.3" y="395.5" width="6.5" height="6.2" fill="#fffefe"/><rect x="394.4" y="395.5" width="6.5" height="6.2" fill="#ffe9e9"/><rect x="400.5" y="395.5" width="6.5" height="6.2" fill="#ffd8d8"/><rect x="406.6" y="395.5" width="6.5" height="6.2" fill="#ffcbcb"/><rect x="412.6" y="395.5" width="6.5" height="6.2" fill="#ffc0c0"/><rect x="418.7" y="395.5" width="6.5" height="6.2" fill="#ffb7b7"/><rect x="424.8" y="395.5" width="6.5" height="6.2" fill="#ffbbbb"/><rect x="430.9" y="395.5" width="6.5" height="6.2" fill="#ffcccc"/><rect x="436.9" y="395.5" width="6.5" height="6.2" fill="#ffdada"/><rect x="443.0" y="395.5" width="6.5" height="6.2" fill="#ffe5e5"/><rect x="449.1" y="395.5" width="6.5" height="6.2" fill="#fff4f4"/><rect x="455.1" y="395.5" width="6.5" height="6.2" fill="#f8f8ff"/><rect x="461.2" y="395.5" width="6.5" height="6.2" fill="#efefff"/><rect x="467.3" y="395.5" width="6.5" height="6.2" fill="#efefff"/><rect x="473.4" y="395.5" width="6.5" height="6.2" fill="#fcfcff"/><rect x="479.5" y="395.5" width="6.5" height="6.2" fill="#ffeaea"/><rect x="485.5" y="395.5" width="6.5" height="6.2" fill="#ffdede"/><rect x="491.6" y="395.5" width="6.5" height="6.2" fill="#ffdede"/><rect x="497.7" y="395.5" width="6.5" height="6.2" fill="#ffdede"/>
<rect x="285.1" y="401.3" width="6.5" height="6.2" fill="#ffd0d0"/><rect x="291.1" y="401.3" width="6.5" height="6.2" fill="#ffd0d0"/><rect x="297.2" y="401.3" width="6.5" height="6.2" fill="#ffd0d0"/><rect x="303.3" y="401.3" width="6.5" height="6.2" fill="#ffc3c3"/><rect x="309.3" y="401.3" width="6.5" height="6.2" fill="#ffaaaa"/><rect x="315.4" y="401.3" width="6.5" height="6.2" fill="#ffaaaa"/><rect x="321.5" y="401.3" width="6.5" height="6.2" fill="#ffc4c4"/><rect x="327.6" y="401.3" width="6.5" height="6.2" fill="#ffdada"/><rect x="333.6" y="401.3" width="6.5" height="6.2" fill="#ffecec"/><rect x="339.7" y="401.3" width="6.5" height="6.2" fill="#fffafa"/><rect x="345.8" y="401.3" width="6.5" height="6.2" fill="#fafaff"/><rect x="351.9" y="401.3" width="6.5" height="6.2" fill="#fdfdff"/><rect x="357.9" y="401.3" width="6.5" height="6.2" fill="#fff1f1"/><rect x="364.0" y="401.3" width="6.5" height="6.2" fill="#ffe5e5"/><rect x="370.1" y="401.3" width="6.5" height="6.2" fill="#ffdfdf"/><rect x="376.2" y="401.3" width="6.5" height="6.2" fill="#ffe3e3"/><rect x="382.2" y="401.3" width="6.5" height="6.2" fill="#fff2f2"/><rect x="388.3" y="401.3" width="6.5" height="6.2" fill="#fff4f4"/><rect x="394.4" y="401.3" width="6.5" height="6.2" fill="#ffe8e8"/><rect x="400.5" y="401.3" width="6.5" height="6.2" fill="#ffdbdb"/><rect x="406.6" y="401.3" width="6.5" height="6.2" fill="#ffcece"/><rect x="412.6" y="401.3" width="6.5" height="6.2" fill="#ffc3c3"/><rect x="418.7" y="401.3" width="6.5" height="6.2" fill="#ffbbbb"/><rect x="424.8" y="401.3" width="6.5" height="6.2" fill="#ffc1c1"/><rect x="430.9" y="401.3" width="6.5" height="6.2" fill="#ffd2d2"/><rect x="436.9" y="401.3" width="6.5" height="6.2" fill="#ffdfdf"/><rect x="443.0" y="401.3" width="6.5" height="6.2" fill="#ffe7e7"/><rect x="449.1" y="401.3" width="6.5" height="6.2" fill="#fff0f0"/><rect x="455.1" y="401.3" width="6.5" height="6.2" fill="#fffbfb"/><rect x="461.2" y="401.3" width="6.5" height="6.2" fill="#f8f8ff"/><rect x="467.3" y="401.3" width="6.5" height="6.2" fill="#ececff"/><rect x="473.4" y="401.3" width="6.5" height="6.2" fill="#f5f5ff"/><rect x="479.5" y="401.3" width="6.5" height="6.2" fill="#ffebeb"/><rect x="485.5" y="401.3" width="6.5" height="6.2" fill="#ffdcdc"/><rect x="491.6" y="401.3" width="6.5" height="6.2" fill="#ffdcdc"/><rect x="497.7" y="401.3" width="6.5" height="6.2" fill="#ffdcdc"/>
<rect x="285.1" y="407.1" width="6.5" height="6.2" fill="#ffd4d4"/><rect x="291.1" y="407.1" width="6.5" height="6.2" fill="#ffd4d4"/><rect x="297.2" y="407.1" width="6.5" height="6.2" fill="#ffd4d4"/><rect x="303.3" y="407.1" width="6.5" height="6.2" fill="#ffcfcf"/><rect x="309.3" y="407.1" width="6.5" height="6.2" fill="#ffc3c3"/><rect x="315.4" y="407.1" width="6.5" height="6.2" fill="#ffc0c0"/><rect x="321.5" y="407.1" width="6.5" height="6.2" fill="#ffc5c5"/><rect x="327.6" y="407.1" width="6.5" height="6.2" fill="#ffcdcd"/><rect x="333.6" y="407.1" width="6.5" height="6.2" fill="#ffdada"/><rect x="339.7" y="407.1" width="6.5" height="6.2" fill="#ffe6e6"/><rect x="345.8" y="407.1" width="6.5" height="6.2" fill="#fff0f0"/><rect x="351.9" y="407.1" width="6.5" height="6.2" fill="#fffbfb"/><rect x="357.9" y="407.1" width="6.5" height="6.2" fill="#f7f7ff"/><rect x="364.0" y="407.1" width="6.5" height="6.2" fill="#fbfbff"/><rect x="370.1" y="407.1" width="6.5" height="6.2" fill="#ffefef"/><rect x="376.2" y="407.1" width="6.5" height="6.2" fill="#ffe8e8"/><rect x="382.2" y="407.1" width="6.5" height="6.2" fill="#ffeded"/><rect x="388.3" y="407.1" width="6.5" height="6.2" fill="#ffeeee"/><rect x="394.4" y="407.1" width="6.5" height="6.2" fill="#ffeaea"/><rect x="400.5" y="407.1" width="6.5" height="6.2" fill="#ffe2e2"/><rect x="406.6" y="407.1" width="6.5" height="6.2" fill="#ffd7d7"/><rect x="412.6" y="407.1" width="6.5" height="6.2" fill="#ffd0d0"/><rect x="418.7" y="407.1" width="6.5" height="6.2" fill="#ffcdcd"/><rect x="424.8" y="407.1" width="6.5" height="6.2" fill="#ffd2d2"/><rect x="430.9" y="407.1" width="6.5" height="6.2" fill="#ffdfdf"/><rect x="436.9" y="407.1" width="6.5" height="6.2" fill="#ffe7e7"/><rect x="443.0" y="407.1" width="6.5" height="6.2" fill="#ffe9e9"/><rect x="449.1" y="407.1" width="6.5" height="6.2" fill="#ffecec"/><rect x="455.1" y="407.1" width="6.5" height="6.2" fill="#fff0f0"/><rect x="461.2" y="407.1" width="6.5" height="6.2" fill="#fffefe"/><rect x="467.3" y="407.1" width="6.5" height="6.2" fill="#e8e8ff"/><rect x="473.4" y="407.1" width="6.5" height="6.2" fill="#eeeeff"/><rect x="479.5" y="407.1" width="6.5" height="6.2" fill="#ffebeb"/><rect x="485.5" y="407.1" width="6.5" height="6.2" fill="#ffd8d8"/><rect x="491.6" y="407.1" width="6.5" height="6.2" fill="#ffd8d8"/><rect x="497.7" y="407.1" width="6.5" height="6.2" fill="#ffd8d8"/>
<rect x="285.1" y="413.0" width="6.5" height="6.2" fill="#ffd6d6"/><rect x="291.1" y="413.0" width="6.5" height="6.2" fill="#ffd6d6"/><rect x="297.2" y="413.0" width="6.5" height="6.2" fill="#ffd6d6"/><rect x="303.3" y="413.0" width="6.5" height="6.2" fill="#ffd4d4"/><rect x="309.3" y="413.0" width="6.5" height="6.2" fill="#ffd0d0"/><rect x="315.4" y="413.0" width="6.5" height="6.2" fill="#ffcbcb"/><rect x="321.5" y="413.0" width="6.5" height="6.2" fill="#ffc5c5"/><rect x="327.6" y="413.0" width="6.5" height="6.2" fill="#ffc7c7"/><rect x="333.6" y="413.0" width="6.5" height="6.2" fill="#ffd1d1"/><rect x="339.7" y="413.0" width="6.5" height="6.2" fill="#ffdbdb"/><rect x="345.8" y="413.0" width="6.5" height="6.2" fill="#ffe6e6"/><rect x="351.9" y="413.0" width="6.5" height="6.2" fill="#fff8f8"/><rect x="357.9" y="413.0" width="6.5" height="6.2" fill="#ececff"/><rect x="364.0" y="413.0" width="6.5" height="6.2" fill="#ececff"/><rect x="370.1" y="413.0" width="6.5" height="6.2" fill="#fff8f8"/><rect x="376.2" y="413.0" width="6.5" height="6.2" fill="#ffebeb"/><rect x="382.2" y="413.0" width="6.5" height="6.2" fill="#ffebeb"/><rect x="388.3" y="413.0" width="6.5" height="6.2" fill="#ffebeb"/><rect x="394.4" y="413.0" width="6.5" height="6.2" fill="#ffebeb"/><rect x="400.5" y="413.0" width="6.5" height="6.2" fill="#ffe6e6"/><rect x="406.6" y="413.0" width="6.5" height="6.2" fill="#ffdbdb"/><rect x="412.6" y="413.0" width="6.5" height="6.2" fill="#ffd6d6"/><rect x="418.7" y="413.0" width="6.5" height="6.2" fill="#ffd6d6"/><rect x="424.8" y="413.0" width="6.5" height="6.2" fill="#ffdbdb"/><rect x="430.9" y="413.0" width="6.5" height="6.2" fill="#ffe6e6"/><rect x="436.9" y="413.0" width="6.5" height="6.2" fill="#ffebeb"/><rect x="443.0" y="413.0" width="6.5" height="6.2" fill="#ffebeb"/><rect x="449.1" y="413.0" width="6.5" height="6.2" fill="#ffebeb"/><rect x="455.1" y="413.0" width="6.5" height="6.2" fill="#ffebeb"/><rect x="461.2" y="413.0" width="6.5" height="6.2" fill="#fffafa"/><rect x="467.3" y="413.0" width="6.5" height="6.2" fill="#e6e6ff"/><rect x="473.4" y="413.0" width="6.5" height="6.2" fill="#ebebff"/><rect x="479.5" y="413.0" width="6.5" height="6.2" fill="#ffebeb"/><rect x="485.5" y="413.0" width="6.5" height="6.2" fill="#ffd6d6"/><rect x="491.6" y="413.0" width="6.5" height="6.2" fill="#ffd6d6"/><rect x="497.7" y="413.0" width="6.5" height="6.2" fill="#ffd6d6"/>
<rect x="285.1" y="418.8" width="6.5" height="6.2" fill="#ffd6d6"/><rect x="291.1" y="418.8" width="6.5" height="6.2" fill="#ffd6d6"/><rect x="297.2" y="418.8" width="6.5" height="6.2" fill="#ffd6d6"/><rect x="303.3" y="418.8" width="6.5" height="6.2" fill="#ffd4d4"/><rect x="309.3" y="418.8" width="6.5" height="6.2" fill="#ffd0d0"/><rect x="315.4" y="418.8" width="6.5" height="6.2" fill="#ffcbcb"/><rect x="321.5" y="418.8" width="6.5" height="6.2" fill="#ffc5c5"/><rect x="327.6" y="418.8" width="6.5" height="6.2" fill="#ffc7c7"/><rect x="333.6" y="418.8" width="6.5" height="6.2" fill="#ffd1d1"/><rect x="339.7" y="418.8" width="6.5" height="6.2" fill="#ffdbdb"/><rect x="345.8" y="418.8" width="6.5" height="6.2" fill="#ffe6e6"/><rect x="351.9" y="418.8" width="6.5" height="6.2" fill="#fff8f8"/><rect x="357.9" y="418.8" width="6.5" height="6.2" fill="#ececff"/><rect x="364.0" y="418.8" width="6.5" height="6.2" fill="#ececff"/><rect x="370.1" y="418.8" width="6.5" height="6.2" fill="#fff8f8"/><rect x="376.2" y="418.8" width="6.5" height="6.2" fill="#ffebeb"/><rect x="382.2" y="418.8" width="6.5" height="6.2" fill="#ffebeb"/><rect x="388.3" y="418.8" width="6.5" height="6.2" fill="#ffebeb"/><rect x="394.4" y="418.8" width="6.5" height="6.2" fill="#ffebeb"/><rect x="400.5" y="418.8" width="6.5" height="6.2" fill="#ffe6e6"/><rect x="406.6" y="418.8" width="6.5" height="6.2" fill="#ffdbdb"/><rect x="412.6" y="418.8" width="6.5" height="6.2" fill="#ffd6d6"/><rect x="418.7" y="418.8" width="6.5" height="6.2" fill="#ffd6d6"/><rect x="424.8" y="418.8" width="6.5" height="6.2" fill="#ffdbdb"/><rect x="430.9" y="418.8" width="6.5" height="6.2" fill="#ffe6e6"/><rect x="436.9" y="418.8" width="6.5" height="6.2" fill="#ffebeb"/><rect x="443.0" y="418.8" width="6.5" height="6.2" fill="#ffebeb"/><rect x="449.1" y="418.8" width="6.5" height="6.2" fill="#ffebeb"/><rect x="455.1" y="418.8" width="6.5" height="6.2" fill="#ffebeb"/><rect x="461.2" y="418.8" width="6.5" height="6.2" fill="#fffafa"/><rect x="467.3" y="418.8" width="6.5" height="6.2" fill="#e6e6ff"/><rect x="473.4" y="418.8" width="6.5" height="6.2" fill="#ebebff"/><rect x="479.5" y="418.8" width="6.5" height="6.2" fill="#ffebeb"/><rect x="485.5" y="418.8" width="6.5" height="6.2" fill="#ffd6d6"/><rect x="491.6" y="418.8" width="6.5" height="6.2" fill="#ffd6d6"/><rect x="497.7" y="418.8" width="6.5" height="6.2" fill="#ffd6d6"/>
<rect x="285.1" y="424.6" width="6.5" height="6.2" fill="#ffd6d6"/><rect x="291.1" y="424.6" width="6.5" height="6.2" fill="#ffd6d6"/><rect x="297.2" y="424.6" width="6.5" height="6.2" fill="#ffd6d6"/><rect x="303.3" y="424.6" width="6.5" height="6.2" fill="#ffd4d4"/><rect x="309.3" y="424.6" width="6.5" height="6.2" fill="#ffd0d0"/><rect x="315.4" y="424.6" width="6.5" height="6.2" fill="#ffcbcb"/><rect x="321.5" y="424.6" width="6.5" height="6.2" fill="#ffc5c5"/><rect x="327.6" y="424.6" width="6.5" height="6.2" fill="#ffc7c7"/><rect x="333.6" y="424.6" width="6.5" height="6.2" fill="#ffd1d1"/><rect x="339.7" y="424.6" width="6.5" height="6.2" fill="#ffdbdb"/><rect x="345.8" y="424.6" width="6.5" height="6.2" fill="#ffe6e6"/><rect x="351.9" y="424.6" width="6.5" height="6.2" fill="#fff8f8"/><rect x="357.9" y="424.6" width="6.5" height="6.2" fill="#ececff"/><rect x="364.0" y="424.6" width="6.5" height="6.2" fill="#ececff"/><rect x="370.1" y="424.6" width="6.5" height="6.2" fill="#fff8f8"/><rect x="376.2" y="424.6" width="6.5" height="6.2" fill="#ffebeb"/><rect x="382.2" y="424.6" width="6.5" height="6.2" fill="#ffebeb"/><rect x="388.3" y="424.6" width="6.5" height="6.2" fill="#ffebeb"/><rect x="394.4" y="424.6" width="6.5" height="6.2" fill="#ffebeb"/><rect x="400.5" y="424.6" width="6.5" height="6.2" fill="#ffe6e6"/><rect x="406.6" y="424.6" width="6.5" height="6.2" fill="#ffdbdb"/><rect x="412.6" y="424.6" width="6.5" height="6.2" fill="#ffd6d6"/><rect x="418.7" y="424.6" width="6.5" height="6.2" fill="#ffd6d6"/><rect x="424.8" y="424.6" width="6.5" height="6.2" fill="#ffdbdb"/><rect x="430.9" y="424.6" width="6.5" height="6.2" fill="#ffe6e6"/><rect x="436.9" y="424.6" width="6.5" height="6.2" fill="#ffebeb"/><rect x="443.0" y="424.6" width="6.5" height="6.2" fill="#ffebeb"/><rect x="449.1" y="424.6" width="6.5" height="6.2" fill="#ffebeb"/><rect x="455.1" y="424.6" width="6.5" height="6.2" fill="#ffebeb"/><rect x="461.2" y="424.6" width="6.5" height="6.2" fill="#fffafa"/><rect x="467.3" y="424.6" width="6.5" height="6.2" fill="#e6e6ff"/><rect x="473.4" y="424.6" width="6.5" height="6.2" fill="#ebebff"/><rect x="479.5" y="424.6" width="6.5" height="6.2" fill="#ffebeb"/><rect x="485.5" y="424.6" width="6.5" height="6.2" fill="#ffd6d6"/><rect x="491.6" y="424.6" width="6.5" height="6.2" fill="#ffd6d6"/><rect x="497.7" y="424.6" width="6.5" height="6.2" fill="#ffd6d6"/>
</g></g></g>
<line x1="297.40" y1="195.00" x2="297.40" y2="199.00" stroke="#222" stroke-width="1.1" />
<line x1="297.40" y1="195.00" x2="293.40" y2="195.00" stroke="#222" stroke-width="1.1" />
<text transform="translate(297.40 212.20) scale(1 1.09)" font-size="11" text-anchor="middle" >0</text>
<text transform="translate(288.80 198.80) scale(1 1.09)" font-size="11" text-anchor="end" >0</text>
<line x1="313.64" y1="195.00" x2="313.64" y2="197.20" stroke="#222" stroke-width="1.1" />
<line x1="297.40" y1="179.45" x2="295.20" y2="179.45" stroke="#222" stroke-width="1.1" />
<line x1="329.88" y1="195.00" x2="329.88" y2="199.00" stroke="#222" stroke-width="1.1" />
<line x1="297.40" y1="163.90" x2="293.40" y2="163.90" stroke="#222" stroke-width="1.1" />
<text transform="translate(329.88 212.20) scale(1 1.09)" font-size="11" text-anchor="middle" >5</text>
<text transform="translate(288.80 167.70) scale(1 1.09)" font-size="11" text-anchor="end" >5</text>
<line x1="346.12" y1="195.00" x2="346.12" y2="197.20" stroke="#222" stroke-width="1.1" />
<line x1="297.40" y1="148.35" x2="295.20" y2="148.35" stroke="#222" stroke-width="1.1" />
<line x1="362.37" y1="195.00" x2="362.37" y2="199.00" stroke="#222" stroke-width="1.1" />
<line x1="297.40" y1="132.80" x2="293.40" y2="132.80" stroke="#222" stroke-width="1.1" />
<text transform="translate(362.37 212.20) scale(1 1.09)" font-size="11" text-anchor="middle" >10</text>
<text transform="translate(288.80 136.60) scale(1 1.09)" font-size="11" text-anchor="end" >10</text>
<line x1="378.61" y1="195.00" x2="378.61" y2="197.20" stroke="#222" stroke-width="1.1" />
<line x1="297.40" y1="117.25" x2="295.20" y2="117.25" stroke="#222" stroke-width="1.1" />
<line x1="394.85" y1="195.00" x2="394.85" y2="199.00" stroke="#222" stroke-width="1.1" />
<line x1="297.40" y1="101.70" x2="293.40" y2="101.70" stroke="#222" stroke-width="1.1" />
<text transform="translate(394.85 212.20) scale(1 1.09)" font-size="11" text-anchor="middle" >15</text>
<text transform="translate(288.80 105.50) scale(1 1.09)" font-size="11" text-anchor="end" >15</text>
<line x1="411.09" y1="195.00" x2="411.09" y2="197.20" stroke="#222" stroke-width="1.1" />
<line x1="297.40" y1="86.15" x2="295.20" y2="86.15" stroke="#222" stroke-width="1.1" />
<line x1="427.33" y1="195.00" x2="427.33" y2="199.00" stroke="#222" stroke-width="1.1" />
<line x1="297.40" y1="70.60" x2="293.40" y2="70.60" stroke="#222" stroke-width="1.1" />
<text transform="translate(427.33 212.20) scale(1 1.09)" font-size="11" text-anchor="middle" >20</text>
<text transform="translate(288.80 74.40) scale(1 1.09)" font-size="11" text-anchor="end" >20</text>
<line x1="443.58" y1="195.00" x2="443.58" y2="197.20" stroke="#222" stroke-width="1.1" />
<line x1="297.40" y1="55.05" x2="295.20" y2="55.05" stroke="#222" stroke-width="1.1" />
<line x1="459.82" y1="195.00" x2="459.82" y2="199.00" stroke="#222" stroke-width="1.1" />
<line x1="297.40" y1="39.50" x2="293.40" y2="39.50" stroke="#222" stroke-width="1.1" />
<text transform="translate(459.82 212.20) scale(1 1.09)" font-size="11" text-anchor="middle" >25</text>
<text transform="translate(288.80 43.30) scale(1 1.09)" font-size="11" text-anchor="end" >25</text>
<line x1="476.06" y1="195.00" x2="476.06" y2="197.20" stroke="#222" stroke-width="1.1" />
<line x1="297.40" y1="23.95" x2="295.20" y2="23.95" stroke="#222" stroke-width="1.1" />
<line x1="492.30" y1="195.00" x2="492.30" y2="199.00" stroke="#222" stroke-width="1.1" />
<line x1="297.40" y1="8.40" x2="293.40" y2="8.40" stroke="#222" stroke-width="1.1" />
<text transform="translate(492.30 212.20) scale(1 1.09)" font-size="11" text-anchor="middle" >30</text>
<text transform="translate(288.80 12.20) scale(1 1.09)" font-size="11" text-anchor="end" >30</text>
<path d="M297.4,8.4 H492.3 V195" fill="none" stroke="#333" stroke-width="1"/>
<path d="M297.4,7.9 V195 H492.8" fill="none" stroke="#222" stroke-width="1.3"/>
<text transform="translate(274.80,102.20) rotate(-90) scale(1 1.09)" font-size="11.2" text-anchor="middle">Y (μm)</text>
<text transform="translate(394.85 223.30) scale(1 1.09)" font-size="11.5" text-anchor="middle">X (μm)</text>
<line x1="297.20" y1="418.80" x2="297.20" y2="422.80" stroke="#222" stroke-width="1.1" />
<line x1="297.20" y1="418.80" x2="293.20" y2="418.80" stroke="#222" stroke-width="1.1" />
<text transform="translate(297.20 436.00) scale(1 1.09)" font-size="11" text-anchor="middle" >0</text>
<text transform="translate(288.60 422.60) scale(1 1.09)" font-size="11" text-anchor="end" >0</text>
<line x1="313.40" y1="418.80" x2="313.40" y2="421.00" stroke="#222" stroke-width="1.1" />
<line x1="297.20" y1="403.27" x2="295.00" y2="403.27" stroke="#222" stroke-width="1.1" />
<line x1="329.60" y1="418.80" x2="329.60" y2="422.80" stroke="#222" stroke-width="1.1" />
<line x1="297.20" y1="387.73" x2="293.20" y2="387.73" stroke="#222" stroke-width="1.1" />
<text transform="translate(329.60 436.00) scale(1 1.09)" font-size="11" text-anchor="middle" >5</text>
<text transform="translate(288.60 391.53) scale(1 1.09)" font-size="11" text-anchor="end" >5</text>
<line x1="345.80" y1="418.80" x2="345.80" y2="421.00" stroke="#222" stroke-width="1.1" />
<line x1="297.20" y1="372.20" x2="295.00" y2="372.20" stroke="#222" stroke-width="1.1" />
<line x1="362.00" y1="418.80" x2="362.00" y2="422.80" stroke="#222" stroke-width="1.1" />
<line x1="297.20" y1="356.67" x2="293.20" y2="356.67" stroke="#222" stroke-width="1.1" />
<text transform="translate(362.00 436.00) scale(1 1.09)" font-size="11" text-anchor="middle" >10</text>
<text transform="translate(288.60 360.47) scale(1 1.09)" font-size="11" text-anchor="end" >10</text>
<line x1="378.20" y1="418.80" x2="378.20" y2="421.00" stroke="#222" stroke-width="1.1" />
<line x1="297.20" y1="341.13" x2="295.00" y2="341.13" stroke="#222" stroke-width="1.1" />
<line x1="394.40" y1="418.80" x2="394.40" y2="422.80" stroke="#222" stroke-width="1.1" />
<line x1="297.20" y1="325.60" x2="293.20" y2="325.60" stroke="#222" stroke-width="1.1" />
<text transform="translate(394.40 436.00) scale(1 1.09)" font-size="11" text-anchor="middle" >15</text>
<text transform="translate(288.60 329.40) scale(1 1.09)" font-size="11" text-anchor="end" >15</text>
<line x1="410.60" y1="418.80" x2="410.60" y2="421.00" stroke="#222" stroke-width="1.1" />
<line x1="297.20" y1="310.07" x2="295.00" y2="310.07" stroke="#222" stroke-width="1.1" />
<line x1="426.80" y1="418.80" x2="426.80" y2="422.80" stroke="#222" stroke-width="1.1" />
<line x1="297.20" y1="294.53" x2="293.20" y2="294.53" stroke="#222" stroke-width="1.1" />
<text transform="translate(426.80 436.00) scale(1 1.09)" font-size="11" text-anchor="middle" >20</text>
<text transform="translate(288.60 298.33) scale(1 1.09)" font-size="11" text-anchor="end" >20</text>
<line x1="443.00" y1="418.80" x2="443.00" y2="421.00" stroke="#222" stroke-width="1.1" />
<line x1="297.20" y1="279.00" x2="295.00" y2="279.00" stroke="#222" stroke-width="1.1" />
<line x1="459.20" y1="418.80" x2="459.20" y2="422.80" stroke="#222" stroke-width="1.1" />
<line x1="297.20" y1="263.47" x2="293.20" y2="263.47" stroke="#222" stroke-width="1.1" />
<text transform="translate(459.20 436.00) scale(1 1.09)" font-size="11" text-anchor="middle" >25</text>
<text transform="translate(288.60 267.27) scale(1 1.09)" font-size="11" text-anchor="end" >25</text>
<line x1="475.40" y1="418.80" x2="475.40" y2="421.00" stroke="#222" stroke-width="1.1" />
<line x1="297.20" y1="247.93" x2="295.00" y2="247.93" stroke="#222" stroke-width="1.1" />
<line x1="491.60" y1="418.80" x2="491.60" y2="422.80" stroke="#222" stroke-width="1.1" />
<line x1="297.20" y1="232.40" x2="293.20" y2="232.40" stroke="#222" stroke-width="1.1" />
<text transform="translate(491.60 436.00) scale(1 1.09)" font-size="11" text-anchor="middle" >30</text>
<text transform="translate(288.60 236.20) scale(1 1.09)" font-size="11" text-anchor="end" >30</text>
<path d="M297.2,232.4 H491.6 V418.8" fill="none" stroke="#333" stroke-width="1"/>
<path d="M297.2,231.9 V418.8 H492.1" fill="none" stroke="#222" stroke-width="1.3"/>
<text transform="translate(274.60,326.10) rotate(-90) scale(1 1.09)" font-size="11.2" text-anchor="middle">Y (μm)</text>
<text transform="translate(394.40 447.10) scale(1 1.09)" font-size="11.5" text-anchor="middle">X (μm)</text>
<text transform="translate(299.5 21.2)" font-size="14">(c)<tspan font-size="12.3" dx="4.4">SAB-GaN </tspan><tspan font-size="12.3" font-style="italic">E</tspan><tspan font-size="9" dy="2.6">2</tspan><tspan font-size="9" dy="-8.2">high</tspan></text>
<text transform="translate(300.7 246)" font-size="14">(d)<tspan font-size="12.2" dx="4.2">SAB-Si </tspan><tspan font-size="12.2" font-style="italic">F</tspan><tspan font-size="8.8" dy="2.6">2g</tspan></text>
<defs><linearGradient id="gc" x1="0" y1="1" x2="0" y2="0"><stop offset="0" stop-color="#0000ff"/><stop offset="0.5" stop-color="#ffffff"/><stop offset="1" stop-color="#ff0000"/></linearGradient></defs>
<rect x="498.6" y="11.4" width="10.70" height="181.40" fill="url(#gc)" stroke="#222" stroke-width="1.1"/>
<line x1="509.30" y1="23.60" x2="513.10" y2="23.60" stroke="#222" stroke-width="1.1" />
<text transform="translate(514.60 26.40) scale(1 1.09)" font-size="8.4" text-anchor="start" >0.80</text>
<line x1="509.30" y1="47.00" x2="513.10" y2="47.00" stroke="#222" stroke-width="1.1" />
<text transform="translate(514.60 49.80) scale(1 1.09)" font-size="8.4" text-anchor="start" >0.60</text>
<line x1="509.30" y1="70.40" x2="513.10" y2="70.40" stroke="#222" stroke-width="1.1" />
<text transform="translate(514.60 73.20) scale(1 1.09)" font-size="8.4" text-anchor="start" >0.40</text>
<line x1="509.30" y1="93.80" x2="513.10" y2="93.80" stroke="#222" stroke-width="1.1" />
<text transform="translate(514.60 96.60) scale(1 1.09)" font-size="8.4" text-anchor="start" >0.20</text>
<line x1="509.30" y1="117.20" x2="513.10" y2="117.20" stroke="#222" stroke-width="1.1" />
<text transform="translate(514.60 120.00) scale(1 1.09)" font-size="8.4" text-anchor="start" >0.00</text>
<line x1="509.30" y1="140.60" x2="513.10" y2="140.60" stroke="#222" stroke-width="1.1" />
<text transform="translate(514.60 143.40) scale(1 1.09)" font-size="8.4" text-anchor="start" >-0.20</text>
<line x1="509.30" y1="164.00" x2="513.10" y2="164.00" stroke="#222" stroke-width="1.1" />
<text transform="translate(514.60 166.80) scale(1 1.09)" font-size="8.4" text-anchor="start" >-0.40</text>
<line x1="509.30" y1="187.40" x2="513.10" y2="187.40" stroke="#222" stroke-width="1.1" />
<text transform="translate(514.60 190.20) scale(1 1.09)" font-size="8.4" text-anchor="start" >-0.60</text>
<text transform="translate(543.6,105.0) rotate(-90) scale(1 1.09)" font-size="11.55" text-anchor="middle">GaN-Raman shifts (cm<tspan font-size="7.5" dy="-4.5">−1</tspan><tspan dy="4.5">)</tspan></text>
<defs><linearGradient id="gd" x1="0" y1="1" x2="0" y2="0"><stop offset="0" stop-color="#0000ff"/><stop offset="0.5" stop-color="#ffffff"/><stop offset="1" stop-color="#ff0000"/></linearGradient></defs>
<rect x="498.0" y="235.3" width="11.00" height="182.00" fill="url(#gd)" stroke="#222" stroke-width="1.1"/>
<line x1="509.00" y1="416.80" x2="512.80" y2="416.80" stroke="#222" stroke-width="1.1" />
<text transform="translate(514.30 419.60) scale(1 1.09)" font-size="8.4" text-anchor="start" >0.00</text>
<line x1="509.00" y1="396.70" x2="512.80" y2="396.70" stroke="#222" stroke-width="1.1" />
<text transform="translate(514.30 399.50) scale(1 1.09)" font-size="8.4" text-anchor="start" >0.10</text>
<line x1="509.00" y1="376.60" x2="512.80" y2="376.60" stroke="#222" stroke-width="1.1" />
<text transform="translate(514.30 379.40) scale(1 1.09)" font-size="8.4" text-anchor="start" >0.20</text>
<line x1="509.00" y1="356.50" x2="512.80" y2="356.50" stroke="#222" stroke-width="1.1" />
<text transform="translate(514.30 359.30) scale(1 1.09)" font-size="8.4" text-anchor="start" >0.30</text>
<line x1="509.00" y1="336.40" x2="512.80" y2="336.40" stroke="#222" stroke-width="1.1" />
<text transform="translate(514.30 339.20) scale(1 1.09)" font-size="8.4" text-anchor="start" >0.40</text>
<line x1="509.00" y1="316.30" x2="512.80" y2="316.30" stroke="#222" stroke-width="1.1" />
<text transform="translate(514.30 319.10) scale(1 1.09)" font-size="8.4" text-anchor="start" >0.50</text>
<line x1="509.00" y1="296.20" x2="512.80" y2="296.20" stroke="#222" stroke-width="1.1" />
<text transform="translate(514.30 299.00) scale(1 1.09)" font-size="8.4" text-anchor="start" >0.60</text>
<line x1="509.00" y1="276.10" x2="512.80" y2="276.10" stroke="#222" stroke-width="1.1" />
<text transform="translate(514.30 278.90) scale(1 1.09)" font-size="8.4" text-anchor="start" >0.70</text>
<line x1="509.00" y1="256.00" x2="512.80" y2="256.00" stroke="#222" stroke-width="1.1" />
<text transform="translate(514.30 258.80) scale(1 1.09)" font-size="8.4" text-anchor="start" >0.80</text>
<line x1="509.00" y1="235.90" x2="512.80" y2="235.90" stroke="#222" stroke-width="1.1" />
<text transform="translate(514.30 238.70) scale(1 1.09)" font-size="8.4" text-anchor="start" >0.90</text>
<text transform="translate(543.6,325.3) rotate(-90) scale(1 1.09)" font-size="11.3" text-anchor="middle">Si-Raman shifts (cm<tspan font-size="7.5" dy="-4.5">−1</tspan><tspan dy="4.5">)</tspan></text>
</svg></body></html>
